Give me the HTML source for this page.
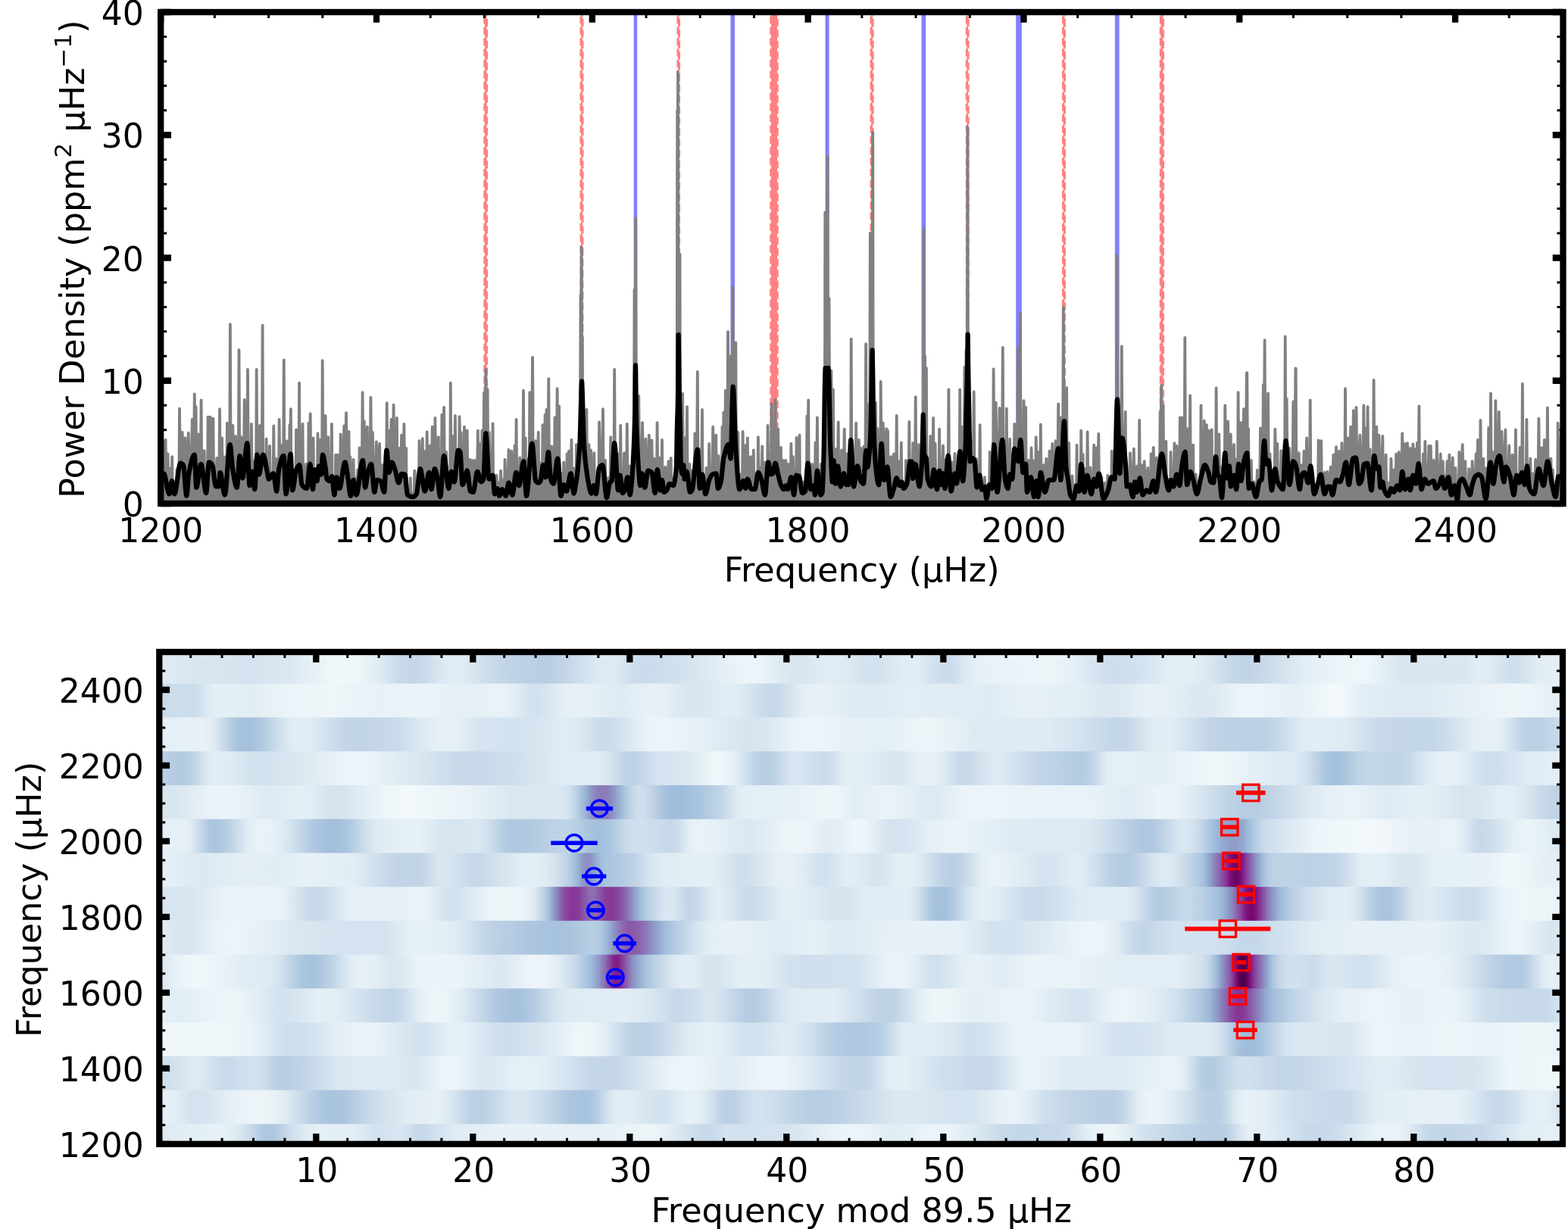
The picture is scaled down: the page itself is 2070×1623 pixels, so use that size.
<!DOCTYPE html>
<html><head><meta charset="utf-8"><title>Power spectrum and echelle diagram</title>
<style>
html,body{margin:0;padding:0;background:#fff;width:2070px;height:1623px;overflow:hidden}
svg{display:block}
text{font-family:"DejaVu Sans","Liberation Sans",sans-serif;fill:#000}
</style></head><body>
<svg width="2070" height="1623" viewBox="0 0 2070 1623">
<rect width="2070" height="1623" fill="#fff"/>
<defs><clipPath id="c1"><rect x="212.2" y="16.0" width="1851.3" height="649.0"/></clipPath><clipPath id="c2"><rect x="210.3" y="861.0" width="1852.7" height="649.8"/></clipPath></defs>
<g clip-path="url(#c1)"><rect x="639.94" y="16.0" width="2.56" height="649.0" fill="#ff8080"/>
<path d="M639.74 665.0V16.0" stroke="#ff8080" stroke-width="2.9" stroke-dasharray="10 4.4"/>
<path d="M642.70 665.0V16.0" stroke="#ff8080" stroke-width="2.9" stroke-dasharray="10 4.4" stroke-dashoffset="3.6"/>
<rect x="767.11" y="16.0" width="1.77" height="649.0" fill="#ff8080"/>
<path d="M766.91 665.0V16.0" stroke="#ff8080" stroke-width="2.9" stroke-dasharray="10 4.4"/>
<path d="M769.07 665.0V16.0" stroke="#ff8080" stroke-width="2.9" stroke-dasharray="10 4.4" stroke-dashoffset="3.6"/>
<rect x="895.10" y="16.0" width="1.31" height="649.0" fill="#ff8080"/>
<path d="M894.90 665.0V16.0" stroke="#ff8080" stroke-width="2.9" stroke-dasharray="10 4.4"/>
<path d="M896.61 665.0V16.0" stroke="#ff8080" stroke-width="2.9" stroke-dasharray="10 4.4" stroke-dashoffset="3.6"/>
<rect x="1017.90" y="16.0" width="8.18" height="649.0" fill="#ff8080"/>
<path d="M1017.70 665.0V16.0" stroke="#ff8080" stroke-width="2.9" stroke-dasharray="10 4.4"/>
<path d="M1026.27 665.0V16.0" stroke="#ff8080" stroke-width="2.9" stroke-dasharray="10 4.4" stroke-dashoffset="3.6"/>
<rect x="1150.15" y="16.0" width="1.91" height="649.0" fill="#ff8080"/>
<path d="M1149.95 665.0V16.0" stroke="#ff8080" stroke-width="2.9" stroke-dasharray="10 4.4"/>
<path d="M1152.26 665.0V16.0" stroke="#ff8080" stroke-width="2.9" stroke-dasharray="10 4.4" stroke-dashoffset="3.6"/>
<rect x="1276.43" y="16.0" width="1.57" height="649.0" fill="#ff8080"/>
<path d="M1276.23 665.0V16.0" stroke="#ff8080" stroke-width="2.9" stroke-dasharray="10 4.4"/>
<path d="M1278.19 665.0V16.0" stroke="#ff8080" stroke-width="2.9" stroke-dasharray="10 4.4" stroke-dashoffset="3.6"/>
<rect x="1403.61" y="16.0" width="1.82" height="649.0" fill="#ff8080"/>
<path d="M1403.41 665.0V16.0" stroke="#ff8080" stroke-width="2.9" stroke-dasharray="10 4.4"/>
<path d="M1405.63 665.0V16.0" stroke="#ff8080" stroke-width="2.9" stroke-dasharray="10 4.4" stroke-dashoffset="3.6"/>
<rect x="1532.38" y="16.0" width="3.05" height="649.0" fill="#ff8080"/>
<path d="M1532.18 665.0V16.0" stroke="#ff8080" stroke-width="2.9" stroke-dasharray="10 4.4"/>
<path d="M1535.62 665.0V16.0" stroke="#ff8080" stroke-width="2.9" stroke-dasharray="10 4.4" stroke-dashoffset="3.6"/>
<rect x="836.64" y="16.0" width="4.54" height="649.0" fill="#8080ff"/>
<rect x="964.46" y="16.0" width="5.51" height="649.0" fill="#8080ff"/>
<rect x="1089.51" y="16.0" width="5.05" height="649.0" fill="#8080ff"/>
<rect x="1216.52" y="16.0" width="5.62" height="649.0" fill="#8080ff"/>
<rect x="1341.18" y="16.0" width="7.63" height="649.0" fill="#8080ff"/>
<rect x="1471.84" y="16.0" width="5.81" height="649.0" fill="#8080ff"/></g>
<path d="M212.20 665.00V651.20M212.20 16.00V29.80" stroke="#000" stroke-width="8.3"/>
<path d="M497.02 665.00V651.20M497.02 16.00V29.80" stroke="#000" stroke-width="8.3"/>
<path d="M781.83 665.00V651.20M781.83 16.00V29.80" stroke="#000" stroke-width="8.3"/>
<path d="M1066.65 665.00V651.20M1066.65 16.00V29.80" stroke="#000" stroke-width="8.3"/>
<path d="M1351.46 665.00V651.20M1351.46 16.00V29.80" stroke="#000" stroke-width="8.3"/>
<path d="M1636.28 665.00V651.20M1636.28 16.00V29.80" stroke="#000" stroke-width="8.3"/>
<path d="M1921.09 665.00V651.20M1921.09 16.00V29.80" stroke="#000" stroke-width="8.3"/>
<path d="M283.40 665.00V657.00M283.40 16.00V24.00" stroke="#000" stroke-width="3.0"/>
<path d="M354.61 665.00V657.00M354.61 16.00V24.00" stroke="#000" stroke-width="3.0"/>
<path d="M425.81 665.00V657.00M425.81 16.00V24.00" stroke="#000" stroke-width="3.0"/>
<path d="M568.22 665.00V657.00M568.22 16.00V24.00" stroke="#000" stroke-width="3.0"/>
<path d="M639.42 665.00V657.00M639.42 16.00V24.00" stroke="#000" stroke-width="3.0"/>
<path d="M710.63 665.00V657.00M710.63 16.00V24.00" stroke="#000" stroke-width="3.0"/>
<path d="M853.03 665.00V657.00M853.03 16.00V24.00" stroke="#000" stroke-width="3.0"/>
<path d="M924.24 665.00V657.00M924.24 16.00V24.00" stroke="#000" stroke-width="3.0"/>
<path d="M995.44 665.00V657.00M995.44 16.00V24.00" stroke="#000" stroke-width="3.0"/>
<path d="M1137.85 665.00V657.00M1137.85 16.00V24.00" stroke="#000" stroke-width="3.0"/>
<path d="M1209.05 665.00V657.00M1209.05 16.00V24.00" stroke="#000" stroke-width="3.0"/>
<path d="M1280.26 665.00V657.00M1280.26 16.00V24.00" stroke="#000" stroke-width="3.0"/>
<path d="M1422.67 665.00V657.00M1422.67 16.00V24.00" stroke="#000" stroke-width="3.0"/>
<path d="M1493.87 665.00V657.00M1493.87 16.00V24.00" stroke="#000" stroke-width="3.0"/>
<path d="M1565.07 665.00V657.00M1565.07 16.00V24.00" stroke="#000" stroke-width="3.0"/>
<path d="M1707.48 665.00V657.00M1707.48 16.00V24.00" stroke="#000" stroke-width="3.0"/>
<path d="M1778.68 665.00V657.00M1778.68 16.00V24.00" stroke="#000" stroke-width="3.0"/>
<path d="M1849.89 665.00V657.00M1849.89 16.00V24.00" stroke="#000" stroke-width="3.0"/>
<path d="M1992.30 665.00V657.00M1992.30 16.00V24.00" stroke="#000" stroke-width="3.0"/>
<path d="M2063.50 665.00V657.00M2063.50 16.00V24.00" stroke="#000" stroke-width="3.0"/>
<path d="M212.20 665.00H226.00M2063.50 665.00H2049.70" stroke="#000" stroke-width="8.3"/>
<path d="M212.20 502.75H226.00M2063.50 502.75H2049.70" stroke="#000" stroke-width="8.3"/>
<path d="M212.20 340.50H226.00M2063.50 340.50H2049.70" stroke="#000" stroke-width="8.3"/>
<path d="M212.20 178.25H226.00M2063.50 178.25H2049.70" stroke="#000" stroke-width="8.3"/>
<path d="M212.20 16.00H226.00M2063.50 16.00H2049.70" stroke="#000" stroke-width="8.3"/>
<path d="M212.20 632.55H220.20M2063.50 632.55H2055.50" stroke="#000" stroke-width="3.0"/>
<path d="M212.20 600.10H220.20M2063.50 600.10H2055.50" stroke="#000" stroke-width="3.0"/>
<path d="M212.20 567.65H220.20M2063.50 567.65H2055.50" stroke="#000" stroke-width="3.0"/>
<path d="M212.20 535.20H220.20M2063.50 535.20H2055.50" stroke="#000" stroke-width="3.0"/>
<path d="M212.20 470.30H220.20M2063.50 470.30H2055.50" stroke="#000" stroke-width="3.0"/>
<path d="M212.20 437.85H220.20M2063.50 437.85H2055.50" stroke="#000" stroke-width="3.0"/>
<path d="M212.20 405.40H220.20M2063.50 405.40H2055.50" stroke="#000" stroke-width="3.0"/>
<path d="M212.20 372.95H220.20M2063.50 372.95H2055.50" stroke="#000" stroke-width="3.0"/>
<path d="M212.20 308.05H220.20M2063.50 308.05H2055.50" stroke="#000" stroke-width="3.0"/>
<path d="M212.20 275.60H220.20M2063.50 275.60H2055.50" stroke="#000" stroke-width="3.0"/>
<path d="M212.20 243.15H220.20M2063.50 243.15H2055.50" stroke="#000" stroke-width="3.0"/>
<path d="M212.20 210.70H220.20M2063.50 210.70H2055.50" stroke="#000" stroke-width="3.0"/>
<path d="M212.20 145.80H220.20M2063.50 145.80H2055.50" stroke="#000" stroke-width="3.0"/>
<path d="M212.20 113.35H220.20M2063.50 113.35H2055.50" stroke="#000" stroke-width="3.0"/>
<path d="M212.20 80.90H220.20M2063.50 80.90H2055.50" stroke="#000" stroke-width="3.0"/>
<path d="M212.20 48.45H220.20M2063.50 48.45H2055.50" stroke="#000" stroke-width="3.0"/>
<g clip-path="url(#c1)">
<path d="M209.2,665.0 L209.2,580.6 L218.0,583.9 L218.6,580.9 L219.2,620.9 L221.0,620.9 L221.6,599.4 L222.2,634.1 L224.0,634.1 L224.6,618.7 L225.2,628.2 L226.6,628.2 L227.2,603.1 L227.8,641.1 L230.2,641.1 L230.8,639.5 L231.4,643.6 L232.9,643.6 L233.5,619.4 L234.1,619.4 L236.4,619.4 L237.0,539.6 L237.6,592.1 L240.1,592.1 L240.7,571.0 L241.3,601.9 L243.8,601.9 L244.4,578.4 L245.0,594.8 L248.1,594.8 L248.7,571.7 L249.3,590.8 L253.1,590.8 L253.7,553.8 L254.3,574.7 L256.2,574.7 L256.8,520.5 L257.4,608.6 L258.0,608.6 L258.6,537.2 L259.2,618.0 L261.7,618.0 L262.3,573.5 L262.9,603.2 L265.0,603.2 L265.6,528.5 L266.2,610.5 L269.1,610.5 L269.7,595.1 L270.3,631.8 L274.0,631.8 L274.6,550.7 L275.2,599.3 L277.1,599.3 L277.7,550.7 L278.3,572.5 L280.8,572.5 L281.4,552.6 L282.0,619.0 L285.7,619.0 L286.3,604.9 L286.9,624.5 L289.4,624.5 L290.0,540.2 L290.6,608.0 L292.5,608.0 L293.1,578.4 L293.7,618.2 L295.3,618.2 L295.9,603.5 L296.5,616.8 L299.3,616.8 L299.9,558.7 L300.5,583.3 L303.3,583.3 L303.9,428.1 L304.5,583.7 L306.7,583.7 L307.3,561.8 L307.9,597.4 L310.4,597.4 L311.0,576.0 L311.6,594.8 L314.9,594.8 L315.5,462.2 L316.1,580.9 L317.8,580.9 L318.4,577.2 L319.0,595.0 L322.1,595.0 L322.7,527.9 L323.3,569.8 L326.4,569.8 L327.0,487.9 L327.6,594.2 L331.3,594.2 L331.9,560.0 L332.5,613.1 L335.1,613.1 L335.7,608.9 L336.3,621.8 L338.1,621.8 L338.7,487.9 L339.3,602.5 L342.4,602.5 L343.0,561.8 L343.6,583.4 L346.0,583.4 L346.6,429.7 L347.2,627.5 L348.3,627.5 L348.9,627.5 L349.5,627.5 L351.0,627.5 L351.6,579.7 L352.2,614.7 L355.4,614.7 L356.0,588.9 L356.6,625.2 L357.7,625.2 L358.3,625.2 L358.9,625.2 L360.7,625.2 L361.3,562.4 L361.9,631.2 L364.4,631.2 L365.0,605.8 L365.6,625.1 L368.0,625.1 L368.6,553.8 L369.2,597.3 L371.7,597.3 L372.3,587.6 L372.9,587.6 L374.2,587.6 L374.8,475.5 L375.4,624.0 L378.2,624.0 L378.8,582.5 L379.4,615.8 L381.8,615.8 L382.4,561.2 L383.0,577.8 L383.3,577.8 L383.9,540.2 L384.5,635.2 L386.6,635.2 L387.2,627.9 L387.8,627.9 L390.5,627.9 L391.1,567.4 L391.7,609.0 L394.5,609.0 L395.1,505.7 L395.7,616.8 L398.9,616.8 L399.5,560.0 L400.1,622.9 L403.4,622.9 L404.0,612.9 L404.6,634.0 L406.9,634.0 L407.5,558.7 L408.1,592.8 L409.1,592.8 L409.7,546.4 L410.3,613.4 L413.0,613.4 L413.6,578.4 L414.2,637.1 L416.1,637.1 L416.7,637.1 L417.3,637.1 L418.9,637.1 L419.5,572.3 L420.1,597.1 L421.7,597.1 L422.3,580.9 L422.9,605.8 L425.1,605.8 L425.7,476.2 L426.3,589.6 L429.0,589.6 L429.6,548.9 L430.2,600.0 L432.7,600.0 L433.3,577.2 L433.9,619.4 L437.3,619.4 L437.9,560.0 L438.5,629.1 L439.4,629.1 L440.0,629.1 L440.6,644.6 L442.6,644.6 L443.2,600.6 L443.8,616.1 L445.1,616.1 L445.7,600.6 L446.3,618.4 L449.1,618.4 L449.7,573.5 L450.3,589.7 L453.7,589.7 L454.3,562.4 L454.9,588.1 L456.4,588.1 L457.0,545.2 L457.6,599.5 L459.9,599.5 L460.5,569.8 L461.1,619.1 L461.7,619.1 L462.3,603.1 L462.9,622.8 L466.0,622.8 L466.6,606.8 L467.2,633.9 L468.7,633.9 L469.3,631.1 L469.9,640.9 L471.6,640.9 L472.2,620.3 L472.8,634.6 L474.0,634.6 L474.6,591.4 L475.2,599.7 L478.0,599.7 L478.6,518.1 L479.2,593.8 L480.2,593.8 L480.8,556.3 L481.4,582.5 L484.3,582.5 L484.9,563.7 L485.5,602.8 L488.8,602.8 L489.4,524.8 L490.0,585.4 L491.3,585.4 L491.9,571.0 L492.5,606.2 L496.2,606.2 L496.8,583.4 L497.4,600.5 L500.5,600.5 L501.1,585.8 L501.7,623.6 L504.2,623.6 L504.8,614.2 L505.4,644.7 L507.3,644.7 L507.9,636.7 L508.5,636.7 L510.1,636.7 L510.7,532.2 L511.3,593.9 L513.5,593.9 L514.1,568.6 L514.7,586.8 L515.9,586.8 L516.5,553.8 L517.1,582.0 L519.0,582.0 L519.6,534.7 L520.2,595.7 L523.3,595.7 L523.9,551.9 L524.5,625.5 L527.0,625.5 L527.6,592.0 L528.2,612.2 L529.5,612.2 L530.1,574.7 L530.7,609.3 L532.8,609.3 L533.4,560.0 L534.0,606.6 L535.6,606.6 L536.2,592.0 L536.8,650.8 L538.4,650.8 L539.0,650.8 L539.6,650.8 L541.2,650.8 L541.8,631.4 L542.4,651.7 L543.4,651.7 L544.0,651.7 L544.6,651.7 L546.7,651.7 L547.3,621.6 L547.9,647.6 L550.0,647.6 L550.6,647.6 L551.2,647.6 L552.9,647.6 L553.5,582.1 L554.1,608.7 L557.2,608.7 L557.8,579.1 L558.4,628.5 L559.1,628.5 L559.7,595.7 L560.3,617.7 L563.1,617.7 L563.7,570.4 L564.3,610.8 L567.1,610.8 L567.7,588.3 L568.3,604.2 L570.1,604.2 L570.7,563.7 L571.3,618.2 L573.8,618.2 L574.4,551.9 L575.0,591.2 L578.2,591.2 L578.8,577.2 L579.4,620.8 L582.8,620.8 L583.4,547.6 L584.0,597.6 L585.5,597.6 L586.1,537.8 L586.7,596.9 L588.6,596.9 L589.2,596.9 L589.8,644.5 L591.2,644.5 L591.8,644.5 L592.4,644.5 L594.2,644.5 L594.8,505.7 L595.4,612.0 L596.6,612.0 L597.2,576.0 L597.8,594.1 L600.3,594.1 L600.9,548.9 L601.5,621.7 L603.5,621.7 L604.1,621.7 L604.7,621.7 L605.9,621.7 L606.5,550.1 L607.1,574.0 L608.1,574.0 L608.7,571.0 L609.3,614.7 L612.4,614.7 L613.0,563.7 L613.6,593.6 L616.1,593.6 L616.7,568.6 L617.3,617.6 L619.8,617.6 L620.4,606.8 L621.0,633.8 L622.9,633.8 L623.5,608.0 L624.1,638.2 L626.6,638.2 L627.2,608.0 L627.8,610.0 L630.3,610.0 L630.9,568.6 L631.5,612.8 L633.4,612.8 L634.0,585.8 L634.6,623.3 L635.8,623.3 L636.4,568.6 L637.0,595.9 L638.4,595.9 L639.0,519.0 L639.6,544.1 L640.8,544.1 L641.4,487.9 L642.0,565.4 L643.0,565.4 L643.6,514.1 L644.2,592.1 L645.1,592.1 L645.7,571.0 L646.3,599.1 L650.0,599.1 L650.6,559.3 L651.2,640.8 L654.9,640.8 L655.5,627.7 L656.1,638.1 L657.4,638.1 L658.0,637.4 L658.6,640.3 L660.5,640.3 L661.1,621.6 L661.7,642.2 L663.3,642.2 L663.9,633.6 L664.5,642.2 L666.0,642.2 L666.6,606.8 L667.2,622.6 L670.9,622.6 L671.5,593.8 L672.1,619.7 L674.6,619.7 L675.2,595.7 L675.8,608.2 L679.0,608.2 L679.6,588.3 L680.2,614.1 L681.0,614.1 L681.6,553.8 L682.2,625.7 L685.7,625.7 L686.3,604.3 L686.9,613.7 L690.4,613.7 L691.0,515.6 L691.6,601.2 L693.1,601.2 L693.7,578.4 L694.3,636.6 L696.1,636.6 L696.7,606.9 L697.3,618.1 L698.7,618.1 L699.3,518.1 L699.9,563.7 L702.4,563.7 L703.0,471.8 L703.6,547.3 L702.4,547.3 L703.0,471.9 L703.6,598.1 L706.7,598.1 L707.3,582.1 L707.9,607.9 L710.1,607.9 L710.7,571.0 L711.3,630.1 L712.5,630.1 L713.1,611.4 L713.7,619.1 L715.9,619.1 L716.5,561.2 L717.1,601.0 L719.0,601.0 L719.6,547.6 L720.2,591.5 L720.9,591.5 L721.5,540.9 L722.1,569.2 L723.7,569.2 L724.3,500.2 L724.9,606.1 L727.6,606.1 L728.2,589.5 L728.8,619.6 L731.9,619.6 L732.5,551.3 L733.1,605.6 L735.0,605.6 L735.6,513.1 L736.2,563.9 L737.5,563.9 L738.1,536.5 L738.7,638.9 L740.6,638.9 L741.2,624.9 L741.8,636.7 L743.6,636.7 L744.2,610.5 L744.8,632.9 L748.0,632.9 L748.6,599.4 L749.2,630.1 L750.4,630.1 L751.0,595.7 L751.6,609.8 L753.9,609.8 L754.5,580.9 L755.1,637.1 L756.9,637.1 L757.5,618.3 L758.1,638.5 L760.3,638.5 L760.9,587.1 L761.5,626.5 L762.6,626.5 L763.2,626.5 L763.8,626.5 L765.9,626.5 L766.5,389.2 L767.1,444.9 L767.1,444.9 L767.7,326.5 L768.3,509.8 L768.2,509.8 L768.8,446.0 L769.4,618.4 L770.8,618.4 L771.4,618.4 L772.0,618.4 L773.8,618.4 L774.4,540.9 L775.0,619.1 L776.9,619.1 L777.5,587.1 L778.1,610.5 L779.4,610.5 L780.0,594.5 L780.6,615.2 L783.7,615.2 L784.3,598.2 L784.9,642.6 L787.5,642.6 L788.1,632.3 L788.7,632.3 L790.5,632.3 L791.1,557.5 L791.7,587.8 L795.4,587.8 L796.0,540.2 L796.6,616.2 L798.5,616.2 L799.1,608.0 L799.7,639.0 L802.6,639.0 L803.2,631.1 L803.8,631.1 L805.6,631.1 L806.2,577.2 L806.8,607.5 L810.6,607.5 L811.2,487.9 L811.8,599.4 L815.2,599.4 L815.8,599.4 L816.4,627.7 L818.6,627.7 L819.2,561.8 L819.8,622.5 L823.5,622.5 L824.1,598.2 L824.7,632.2 L827.2,632.2 L827.8,560.0 L828.4,628.8 L830.3,628.8 L830.9,615.4 L831.5,645.3 L833.7,645.3 L834.3,634.3 L834.9,634.3 L836.9,634.3 L837.5,382.7 L838.1,461.9 L838.7,461.9 L839.3,287.8 L839.9,574.4 L842.6,574.4 L843.2,523.0 L843.8,585.3 L847.5,585.3 L848.1,558.1 L848.7,595.4 L851.8,595.4 L852.4,579.7 L853.0,607.0 L856.2,607.0 L856.8,574.7 L857.4,603.4 L859.9,603.4 L860.5,581.5 L861.1,624.5 L862.9,624.5 L863.5,605.6 L864.1,628.1 L867.0,628.1 L867.6,558.1 L868.2,614.1 L869.7,614.1 L870.3,604.3 L870.9,637.0 L873.4,637.0 L874.0,580.9 L874.6,641.9 L877.7,641.9 L878.3,616.6 L878.9,624.7 L882.0,624.7 L882.6,609.2 L883.2,634.7 L885.1,634.7 L885.7,604.9 L886.3,642.5 L888.2,642.5 L888.8,642.5 L889.4,642.5 L890.7,642.5 L891.3,639.8 L891.9,639.8 L893.6,639.8 L894.2,145.8 L894.8,414.3 L894.4,414.3 L895.0,94.9 L895.6,473.0 L896.9,473.0 L897.5,335.6 L898.1,553.6 L900.5,553.6 L901.1,519.9 L901.7,594.4 L903.6,594.4 L904.2,578.4 L904.8,604.3 L906.4,604.3 L907.0,537.2 L907.6,626.3 L909.8,626.3 L910.4,612.9 L911.0,632.5 L912.2,632.5 L912.8,621.6 L913.4,628.7 L916.8,628.7 L917.4,572.3 L918.0,587.4 L920.2,587.4 L920.8,490.9 L921.4,593.2 L922.7,593.2 L923.3,593.2 L923.9,606.7 L926.4,606.7 L927.0,540.9 L927.6,648.6 L929.1,648.6 L929.7,648.6 L930.3,648.6 L931.9,648.6 L932.5,617.9 L933.1,626.0 L935.6,626.0 L936.2,585.8 L936.8,618.7 L940.6,618.7 L941.2,563.7 L941.8,612.1 L944.6,612.1 L945.2,574.7 L945.8,620.0 L948.0,620.0 L948.6,601.9 L949.2,615.5 L952.9,615.5 L953.5,563.7 L954.1,605.2 L954.7,605.2 L955.3,544.6 L955.9,589.3 L957.2,589.3 L957.8,515.6 L958.4,571.4 L960.4,571.4 L961.0,437.8 L961.6,505.8 L963.4,505.8 L964.0,470.3 L964.6,508.4 L966.8,508.4 L967.4,379.4 L968.0,498.3 L970.7,498.3 L971.3,452.5 L971.9,598.1 L973.8,598.1 L974.4,571.0 L975.0,643.4 L977.5,643.4 L978.1,626.7 L978.7,630.1 L980.0,630.1 L980.6,569.8 L981.2,627.0 L983.1,627.0 L983.7,588.3 L984.3,601.9 L986.2,601.9 L986.8,578.4 L987.4,620.7 L990.5,620.7 L991.1,603.1 L991.7,617.5 L994.2,617.5 L994.8,594.5 L995.4,644.0 L997.5,644.0 L998.1,633.2 L998.7,633.2 L1000.3,633.2 L1000.9,577.2 L1001.5,618.2 L1003.4,618.2 L1004.0,617.4 L1004.6,623.4 L1005.6,623.4 L1006.2,589.5 L1006.8,635.5 L1008.9,635.5 L1009.5,610.5 L1010.1,630.1 L1013.0,630.1 L1013.6,561.8 L1014.2,605.4 L1018.0,605.4 L1018.6,533.5 L1019.2,574.8 L1022.9,574.8 L1023.5,527.9 L1024.1,601.1 L1026.6,601.1 L1027.2,566.7 L1027.8,612.0 L1030.3,612.0 L1030.9,590.8 L1031.5,634.6 L1033.4,634.6 L1034.0,608.0 L1034.6,623.9 L1036.7,623.9 L1037.3,608.0 L1037.9,627.1 L1040.1,627.1 L1040.7,612.9 L1041.3,625.5 L1043.8,625.5 L1044.4,585.8 L1045.0,627.8 L1046.3,627.8 L1046.9,603.1 L1047.5,631.7 L1051.0,631.7 L1051.6,577.8 L1052.2,621.2 L1054.9,621.2 L1055.5,574.7 L1056.1,642.4 L1059.2,642.4 L1059.8,636.4 L1060.4,644.5 L1062.5,644.5 L1063.1,643.5 L1063.7,643.5 L1064.8,643.5 L1065.4,549.5 L1066.0,597.1 L1066.6,597.1 L1067.2,528.5 L1067.8,632.3 L1071.6,632.3 L1072.2,612.9 L1072.8,633.3 L1075.9,633.3 L1076.5,584.6 L1077.1,615.7 L1078.3,615.7 L1078.9,551.3 L1079.5,633.8 L1083.3,633.8 L1083.9,612.9 L1084.5,645.6 L1086.1,645.6 L1086.7,645.6 L1087.3,645.6 L1088.7,645.6 L1089.3,280.5 L1089.9,447.3 L1092.0,447.3 L1092.6,206.2 L1093.2,547.7 L1093.9,547.7 L1094.5,394.0 L1095.1,530.8 L1096.8,530.8 L1097.4,489.7 L1098.0,574.0 L1099.3,574.0 L1099.9,514.4 L1100.5,618.5 L1103.0,618.5 L1103.6,593.2 L1104.2,613.6 L1106.1,613.6 L1106.7,557.5 L1107.3,630.5 L1110.4,630.5 L1111.0,594.5 L1111.6,606.5 L1114.1,606.5 L1114.7,566.7 L1115.3,619.7 L1117.8,619.7 L1118.4,599.4 L1119.0,631.3 L1120.1,631.3 L1120.7,614.9 L1121.3,614.9 L1123.1,614.9 L1123.7,447.6 L1124.3,623.5 L1126.4,623.5 L1127.0,623.5 L1127.6,628.8 L1129.5,628.8 L1130.1,558.7 L1130.7,600.2 L1133.2,600.2 L1133.8,580.9 L1134.4,609.0 L1136.3,609.0 L1136.9,592.0 L1137.5,617.9 L1140.0,617.9 L1140.6,589.5 L1141.2,604.0 L1142.5,604.0 L1143.1,454.1 L1143.7,590.7 L1145.8,590.7 L1146.4,534.1 L1147.0,572.2 L1148.2,572.2 L1148.8,308.0 L1149.4,530.5 L1149.9,530.5 L1150.5,364.8 L1151.1,420.1 L1151.6,420.1 L1152.2,175.0 L1152.8,578.0 L1155.4,578.0 L1156.0,531.6 L1156.6,587.7 L1157.8,587.7 L1158.4,566.1 L1159.0,623.5 L1162.1,623.5 L1162.7,503.9 L1163.3,571.1 L1165.2,571.1 L1165.8,558.7 L1166.4,584.4 L1169.5,584.4 L1170.1,566.1 L1170.7,604.3 L1171.4,604.3 L1172.0,568.6 L1172.6,625.6 L1175.7,625.6 L1176.3,603.1 L1176.9,628.0 L1179.4,628.0 L1180.0,599.4 L1180.6,624.8 L1183.1,624.8 L1183.7,548.9 L1184.3,623.9 L1185.5,623.9 L1186.1,609.2 L1186.7,622.4 L1189.2,622.4 L1189.8,584.6 L1190.4,637.2 L1192.4,637.2 L1193.0,637.2 L1193.6,640.7 L1195.4,640.7 L1196.0,608.0 L1196.6,624.1 L1199.7,624.1 L1200.3,556.9 L1200.9,619.6 L1202.4,619.6 L1203.0,619.6 L1203.6,619.6 L1204.7,619.6 L1205.3,585.2 L1205.9,613.9 L1208.1,613.9 L1208.7,524.2 L1209.3,617.4 L1212.4,617.4 L1213.0,587.1 L1213.6,631.5 L1215.6,631.5 L1216.2,620.3 L1216.8,620.3 L1218.9,620.3 L1219.5,302.0 L1220.1,558.1 L1220.4,558.1 L1221.0,470.3 L1221.6,572.8 L1222.3,572.8 L1222.9,486.0 L1223.5,617.7 L1224.8,617.7 L1225.4,604.9 L1226.0,616.9 L1227.8,616.9 L1228.4,576.0 L1229.0,617.0 L1231.5,617.0 L1232.1,551.9 L1232.7,615.3 L1234.0,615.3 L1234.6,585.8 L1235.2,632.6 L1236.2,632.6 L1236.8,626.5 L1237.4,631.0 L1239.5,631.0 L1240.1,566.7 L1240.7,609.7 L1244.4,609.7 L1245.0,588.3 L1245.6,627.7 L1247.5,627.7 L1248.1,606.8 L1248.7,607.0 L1251.8,607.0 L1252.4,514.4 L1253.0,621.0 L1256.2,621.0 L1256.8,610.5 L1257.4,625.8 L1259.9,625.8 L1260.5,598.8 L1261.1,641.1 L1262.7,641.1 L1263.3,641.1 L1263.9,641.1 L1266.6,641.1 L1267.2,514.4 L1267.8,591.9 L1269.7,591.9 L1270.3,563.7 L1270.9,603.5 L1272.8,603.5 L1273.4,484.8 L1274.0,533.1 L1274.9,533.1 L1275.5,462.2 L1276.1,492.9 L1276.8,492.9 L1277.4,167.4 L1278.0,572.2 L1280.1,572.2 L1280.7,572.2 L1281.3,585.5 L1282.3,585.5 L1282.9,582.1 L1283.5,593.8 L1285.1,593.8 L1285.7,517.4 L1286.3,605.6 L1288.2,605.6 L1288.8,605.6 L1289.4,615.9 L1293.1,615.9 L1293.7,561.2 L1294.3,648.6 L1296.7,648.6 L1297.3,648.6 L1297.9,648.6 L1299.3,648.6 L1299.9,630.2 L1300.5,643.1 L1302.8,643.1 L1303.4,642.7 L1304.0,642.7 L1306.1,642.7 L1306.7,596.9 L1307.3,633.5 L1311.0,633.5 L1311.6,487.3 L1312.2,566.4 L1314.1,566.4 L1314.7,531.6 L1315.3,576.5 L1319.0,576.5 L1319.6,539.0 L1320.2,577.1 L1323.2,577.1 L1323.8,458.9 L1324.4,594.8 L1325.5,594.8 L1326.1,594.8 L1326.7,612.9 L1328.2,612.9 L1328.8,539.6 L1329.4,618.5 L1332.6,618.5 L1333.2,579.7 L1333.8,625.2 L1336.0,625.2 L1336.6,600.6 L1337.2,600.6 L1338.7,600.6 L1339.3,560.0 L1339.9,580.1 L1343.4,580.1 L1344.0,459.6 L1344.6,579.7 L1346.3,579.7 L1346.9,413.5 L1347.5,575.3 L1351.0,575.3 L1351.6,529.1 L1352.2,594.2 L1353.5,594.2 L1354.1,537.8 L1354.7,627.1 L1357.2,627.1 L1357.8,608.0 L1358.4,624.1 L1360.9,624.1 L1361.5,591.4 L1362.1,617.8 L1363.6,617.8 L1364.2,608.6 L1364.8,636.0 L1367.1,636.0 L1367.7,577.2 L1368.3,607.4 L1369.5,607.4 L1370.1,596.9 L1370.7,619.2 L1373.2,619.2 L1373.8,560.6 L1374.4,622.9 L1376.9,622.9 L1377.5,614.2 L1378.1,632.8 L1380.6,632.8 L1381.2,605.6 L1381.8,622.4 L1384.9,622.4 L1385.5,595.7 L1386.1,627.1 L1388.6,627.1 L1389.2,585.8 L1389.8,624.7 L1392.9,624.7 L1393.5,582.1 L1394.1,590.1 L1396.6,590.1 L1397.2,533.5 L1397.8,602.5 L1400.3,602.5 L1400.9,551.3 L1401.5,576.8 L1403.2,576.8 L1403.8,406.0 L1404.4,573.8 L1407.5,573.8 L1408.1,511.9 L1408.7,607.7 L1410.6,607.7 L1411.2,585.2 L1411.8,640.2 L1414.9,640.2 L1415.5,628.3 L1416.1,642.1 L1417.4,642.1 L1418.0,640.2 L1418.6,643.9 L1421.0,643.9 L1421.6,587.7 L1422.2,641.6 L1424.2,641.6 L1424.8,636.5 L1425.4,636.5 L1426.6,636.5 L1427.2,568.6 L1427.8,614.1 L1429.0,614.1 L1429.6,600.0 L1430.2,640.6 L1431.9,640.6 L1432.5,619.0 L1433.1,626.1 L1435.0,626.1 L1435.6,570.4 L1436.2,627.1 L1438.9,627.1 L1439.5,617.3 L1440.1,631.4 L1443.6,631.4 L1444.2,587.7 L1444.8,615.1 L1446.9,615.1 L1447.5,591.4 L1448.1,626.1 L1449.7,626.1 L1450.3,572.9 L1450.9,630.2 L1453.7,630.2 L1454.3,630.2 L1454.9,642.7 L1457.4,642.7 L1458.0,637.6 L1458.6,640.6 L1461.7,640.6 L1462.3,627.7 L1462.9,643.1 L1463.9,643.1 L1464.5,642.1 L1465.1,642.1 L1467.2,642.1 L1467.8,595.7 L1468.4,626.4 L1471.0,626.4 L1471.6,626.4 L1472.2,626.4 L1474.0,626.4 L1474.6,337.3 L1475.2,579.2 L1477.4,579.2 L1478.0,579.2 L1478.6,592.0 L1480.2,592.0 L1480.8,457.3 L1481.4,574.7 L1485.1,574.7 L1485.7,543.9 L1486.3,632.8 L1487.8,632.8 L1488.4,632.8 L1489.0,636.4 L1491.3,636.4 L1491.9,598.2 L1492.5,616.8 L1496.2,616.8 L1496.8,592.6 L1497.4,625.8 L1500.5,625.8 L1501.1,615.4 L1501.7,635.9 L1503.6,635.9 L1504.2,555.0 L1504.8,623.2 L1506.7,623.2 L1507.3,614.2 L1507.9,642.5 L1510.1,642.5 L1510.7,609.2 L1511.3,625.1 L1514.7,625.1 L1515.3,617.9 L1515.9,642.8 L1519.0,642.8 L1519.6,599.4 L1520.2,623.9 L1522.1,623.9 L1522.7,590.8 L1523.3,614.8 L1526.4,614.8 L1527.0,604.3 L1527.6,623.5 L1531.0,623.5 L1531.6,543.3 L1532.2,580.3 L1532.6,580.3 L1533.2,508.8 L1533.8,576.6 L1535.0,576.6 L1535.6,535.2 L1536.2,610.8 L1538.7,610.8 L1539.3,582.8 L1539.9,637.8 L1541.4,637.8 L1542.0,632.8 L1542.6,642.0 L1544.9,642.0 L1545.5,596.9 L1546.1,623.3 L1549.8,623.3 L1550.4,585.2 L1551.0,616.1 L1552.9,616.1 L1553.5,588.9 L1554.1,619.9 L1557.2,619.9 L1557.8,551.3 L1558.4,616.6 L1559.7,616.6 L1560.3,551.3 L1560.9,586.6 L1563.7,586.6 L1564.3,446.0 L1564.9,608.5 L1567.1,608.5 L1567.7,566.1 L1568.3,612.3 L1570.5,612.3 L1571.1,522.4 L1571.7,610.2 L1574.5,610.2 L1575.1,587.7 L1575.7,633.0 L1578.2,633.0 L1578.8,626.5 L1579.4,642.4 L1582.1,642.4 L1582.7,642.4 L1583.3,642.4 L1584.9,642.4 L1585.5,535.3 L1586.1,606.4 L1589.2,606.4 L1589.8,555.6 L1590.4,599.6 L1592.3,599.6 L1592.9,561.2 L1593.5,586.3 L1595.4,586.3 L1596.0,568.6 L1596.6,591.4 L1599.1,591.4 L1599.7,567.4 L1600.3,631.5 L1601.9,631.5 L1602.5,622.4 L1603.1,622.4 L1605.0,622.4 L1605.6,512.5 L1606.2,602.8 L1608.7,602.8 L1609.3,573.5 L1609.9,626.6 L1611.9,626.6 L1612.5,617.2 L1613.1,624.8 L1614.6,624.8 L1615.2,614.0 L1615.8,614.0 L1616.7,614.0 L1617.3,535.3 L1617.9,574.0 L1620.4,574.0 L1621.0,556.3 L1621.6,592.6 L1624.1,592.6 L1624.7,573.5 L1625.3,612.0 L1628.4,612.0 L1629.0,587.1 L1629.6,627.7 L1631.2,627.7 L1631.8,606.7 L1632.4,632.5 L1634.0,632.5 L1634.6,518.1 L1635.2,604.6 L1637.7,604.6 L1638.3,558.1 L1638.9,577.9 L1641.4,577.9 L1642.0,540.2 L1642.6,591.3 L1645.1,591.3 L1645.7,493.0 L1646.3,585.8 L1645.7,585.8 L1646.3,492.2 L1646.9,599.5 L1647.5,599.5 L1648.1,566.1 L1648.7,631.2 L1651.2,631.2 L1651.8,608.0 L1652.4,636.4 L1654.9,636.4 L1655.5,636.4 L1656.1,643.1 L1659.2,643.1 L1659.8,621.0 L1660.4,629.5 L1663.3,629.5 L1663.9,565.5 L1664.5,593.0 L1667.2,593.0 L1667.8,508.2 L1668.4,539.2 L1669.0,539.2 L1669.6,449.2 L1670.2,573.6 L1673.4,573.6 L1674.0,519.3 L1674.6,602.8 L1675.9,602.8 L1676.5,599.4 L1677.1,636.8 L1679.6,636.8 L1680.2,626.3 L1680.8,626.3 L1682.7,626.3 L1683.3,566.7 L1683.9,599.2 L1685.7,599.2 L1686.3,585.8 L1686.9,632.0 L1690.7,632.0 L1691.3,595.1 L1691.9,640.7 L1693.3,640.7 L1693.9,613.3 L1694.5,613.3 L1696.1,613.3 L1696.7,444.3 L1697.3,562.5 L1698.1,562.5 L1698.7,526.7 L1699.3,609.3 L1701.8,609.3 L1702.4,592.0 L1703.0,613.3 L1706.7,613.3 L1707.3,530.4 L1707.9,573.0 L1709.7,573.0 L1710.3,486.5 L1710.9,524.3 L1710.1,524.3 L1710.7,486.6 L1711.3,620.4 L1714.1,620.4 L1714.7,598.2 L1715.3,631.7 L1717.4,631.7 L1718.0,614.1 L1718.6,618.2 L1720.9,618.2 L1721.5,595.7 L1722.1,606.3 L1724.5,606.3 L1725.1,578.4 L1725.7,613.9 L1729.1,613.9 L1729.7,528.5 L1730.3,629.0 L1732.6,629.0 L1733.2,629.0 L1733.8,646.4 L1735.7,646.4 L1736.3,646.4 L1736.9,646.4 L1740.0,646.4 L1740.6,581.5 L1741.2,614.4 L1743.6,614.4 L1744.2,582.1 L1744.8,632.5 L1748.0,632.5 L1748.6,624.0 L1749.2,641.7 L1751.7,641.7 L1752.3,622.8 L1752.9,633.3 L1756.0,633.3 L1756.6,616.6 L1757.2,625.0 L1759.7,625.0 L1760.3,600.6 L1760.9,610.4 L1763.4,610.4 L1764.0,590.1 L1764.6,626.6 L1767.1,626.6 L1767.7,595.7 L1768.3,627.7 L1770.8,627.7 L1771.4,585.2 L1772.0,613.7 L1775.4,613.7 L1776.0,513.1 L1776.6,598.7 L1778.8,598.7 L1779.4,578.4 L1780.0,598.3 L1782.5,598.3 L1783.1,563.7 L1783.7,594.5 L1786.2,594.5 L1786.8,542.1 L1787.4,590.8 L1789.9,590.8 L1790.5,537.8 L1791.1,589.9 L1794.8,589.9 L1795.4,574.7 L1796.0,593.6 L1799.7,593.6 L1800.3,535.3 L1800.9,593.8 L1802.4,593.8 L1803.0,565.9 L1803.6,590.7 L1805.0,590.7 L1805.6,537.2 L1806.2,617.8 L1808.1,617.8 L1808.7,593.2 L1809.3,612.1 L1813.0,612.1 L1813.6,502.0 L1814.2,592.4 L1816.7,592.4 L1817.3,563.7 L1817.9,604.5 L1819.8,604.5 L1820.4,574.7 L1821.0,599.6 L1824.7,599.6 L1825.3,576.0 L1825.9,637.5 L1829.0,637.5 L1829.6,600.6 L1830.2,641.9 L1832.1,641.9 L1832.7,637.6 L1833.3,644.5 L1835.8,644.5 L1836.4,605.6 L1837.0,629.6 L1839.5,629.6 L1840.1,620.3 L1840.7,629.3 L1842.6,629.3 L1843.2,599.4 L1843.8,613.1 L1846.3,613.1 L1846.9,596.9 L1847.5,615.9 L1850.6,615.9 L1851.2,572.3 L1851.8,623.9 L1853.7,623.9 L1854.3,585.8 L1854.9,612.3 L1857.4,612.3 L1858.0,585.2 L1858.6,605.2 L1861.1,605.2 L1861.7,592.0 L1862.3,629.4 L1864.8,629.4 L1865.4,586.5 L1866.0,609.9 L1867.2,609.9 L1867.8,593.2 L1868.4,619.8 L1870.3,619.8 L1870.9,584.6 L1871.5,604.2 L1872.8,604.2 L1873.4,536.5 L1874.0,620.2 L1875.3,620.2 L1875.9,618.9 L1876.5,628.3 L1878.3,628.3 L1878.9,599.4 L1879.5,625.6 L1880.8,625.6 L1881.4,582.8 L1882.0,621.4 L1885.7,621.4 L1886.3,588.9 L1886.9,614.5 L1888.2,614.5 L1888.8,588.9 L1889.4,628.7 L1891.9,628.7 L1892.5,608.0 L1893.1,626.5 L1896.2,626.5 L1896.8,582.8 L1897.4,617.9 L1901.1,617.9 L1901.7,599.4 L1902.3,621.3 L1904.2,621.3 L1904.8,609.2 L1905.4,634.4 L1907.2,634.4 L1907.8,628.3 L1908.4,631.3 L1909.8,631.3 L1910.4,609.2 L1911.0,617.2 L1912.8,617.2 L1913.4,600.6 L1914.0,624.1 L1917.2,624.1 L1917.8,604.3 L1918.4,633.7 L1920.9,633.7 L1921.5,617.9 L1922.1,640.2 L1925.8,640.2 L1926.4,596.9 L1927.0,610.9 L1930.1,610.9 L1930.7,587.1 L1931.3,623.0 L1933.8,623.0 L1934.4,609.2 L1935.0,636.7 L1938.7,636.7 L1939.3,619.1 L1939.9,636.3 L1943.0,636.3 L1943.6,609.2 L1944.2,622.2 L1948.0,622.2 L1948.6,599.4 L1949.2,611.7 L1950.4,611.7 L1951.0,580.9 L1951.6,616.6 L1953.9,616.6 L1954.5,555.0 L1955.1,617.2 L1957.8,617.2 L1958.4,605.6 L1959.0,642.8 L1961.4,642.8 L1962.0,618.3 L1962.6,627.1 L1964.6,627.1 L1965.2,564.9 L1965.8,599.7 L1967.4,599.7 L1968.0,519.3 L1968.6,608.6 L1970.4,608.6 L1971.0,597.2 L1971.6,626.8 L1973.8,626.8 L1974.4,529.1 L1975.0,588.8 L1978.2,588.8 L1978.8,543.9 L1979.4,581.8 L1981.8,581.8 L1982.4,569.8 L1983.0,588.6 L1986.8,588.6 L1987.4,567.4 L1988.0,613.7 L1991.7,613.7 L1992.3,588.3 L1992.9,619.8 L1996.0,619.8 L1996.6,600.6 L1997.2,617.1 L2000.3,617.1 L2000.9,567.4 L2001.5,633.2 L2003.0,633.2 L2003.6,633.2 L2004.2,633.2 L2005.9,633.2 L2006.5,591.0 L2007.1,606.7 L2009.3,606.7 L2009.9,507.0 L2010.5,630.1 L2012.4,630.1 L2013.0,625.4 L2013.6,625.7 L2014.8,625.7 L2015.4,553.8 L2016.0,620.1 L2019.7,620.1 L2020.3,605.6 L2020.9,639.1 L2023.4,639.1 L2024.0,625.3 L2024.6,632.2 L2026.5,632.2 L2027.1,606.8 L2027.7,613.8 L2030.8,613.8 L2031.4,552.6 L2032.0,615.2 L2034.5,615.2 L2035.1,591.4 L2035.7,630.9 L2038.2,630.9 L2038.8,580.9 L2039.4,616.3 L2042.3,616.3 L2042.9,538.4 L2043.5,605.6 L2046.8,605.6 L2047.4,605.6 L2048.0,629.8 L2049.3,629.8 L2049.9,620.3 L2050.5,645.2 L2051.8,645.2 L2052.4,636.4 L2053.0,645.4 L2056.1,645.4 L2056.7,558.7 L2057.3,640.7 L2060.0,587.1 L2062.0,559.5 L2066.5,583.9 L2066.5,665.0 Z" fill="#808080" stroke="#808080" stroke-width="3.8" stroke-linejoin="round"/>
<polyline points="210.2,625.3 210.7,625.3 211.2,625.3 211.7,625.3 212.2,625.3 212.7,625.3 213.2,625.3 213.7,625.3 214.2,625.3 214.7,625.3 215.2,625.3 215.7,625.3 216.1,625.3 216.2,625.3 216.7,625.8 217.2,626.9 217.7,628.6 218.2,630.6 218.7,633.0 219.2,635.6 219.7,638.3 220.2,641.1 220.7,643.7 221.2,646.2 221.7,648.4 222.2,650.2 222.7,651.5 223.2,652.3 223.5,652.4 223.7,652.2 224.2,650.5 224.7,647.5 225.2,643.8 225.7,640.2 226.2,637.1 226.7,635.4 226.9,635.1 227.2,635.4 227.7,637.4 228.2,640.7 228.7,644.5 229.2,648.2 229.7,651.1 230.2,652.4 230.3,652.4 230.7,652.0 231.2,650.8 231.7,648.9 232.2,646.4 232.7,643.4 233.2,640.0 233.7,636.3 234.2,632.6 234.7,628.8 235.2,625.1 235.7,621.6 236.2,618.5 236.7,615.8 237.2,613.7 237.7,612.3 238.2,611.7 238.3,611.7 238.7,611.8 239.2,611.9 239.7,612.1 240.2,612.4 240.7,612.8 241.2,613.3 241.7,613.9 242.0,614.2 242.2,614.8 242.7,617.9 243.2,623.0 243.7,629.3 244.2,636.2 244.7,642.9 245.2,648.7 245.7,652.9 246.2,654.8 246.3,654.8 246.7,653.6 247.2,649.5 247.7,643.7 248.2,637.1 248.7,630.9 249.2,626.3 249.4,625.3 249.7,623.5 250.2,620.9 250.7,618.4 251.2,616.0 251.7,613.6 252.2,611.5 252.7,609.4 253.2,607.5 253.7,605.8 254.2,604.4 254.7,603.1 255.2,602.1 255.7,601.3 256.2,600.8 256.7,600.6 256.8,600.6 257.2,604.3 257.7,614.8 258.2,627.7 258.7,638.8 259.2,643.7 259.2,643.8 259.7,643.2 260.2,641.7 260.7,639.3 261.2,636.3 261.7,632.8 262.2,629.1 262.7,625.4 263.2,621.8 263.7,618.6 264.2,615.9 264.7,614.0 265.2,613.0 265.4,612.9 265.7,613.2 266.2,614.5 266.7,616.7 267.2,619.7 267.7,623.3 268.2,627.3 268.7,631.4 269.2,635.7 269.7,639.7 270.2,643.4 270.7,646.6 271.2,649.1 271.7,650.6 272.2,651.1 272.2,651.1 272.7,648.8 273.2,643.3 273.7,635.8 274.2,627.7 274.7,619.9 275.2,613.9 275.7,610.7 275.9,610.5 276.2,610.5 276.7,610.7 277.2,610.9 277.7,611.3 278.2,611.7 278.7,612.2 279.2,612.8 279.7,613.5 280.2,614.2 280.2,614.2 280.7,615.7 281.2,618.3 281.7,621.7 282.2,625.7 282.7,629.8 283.2,633.8 283.7,637.4 284.2,640.2 284.7,642.0 285.1,642.5 285.2,642.5 285.7,642.5 286.2,642.5 286.7,642.5 287.2,642.5 287.7,642.5 288.2,642.5 288.7,642.5 288.8,642.5 289.2,640.3 289.7,633.6 290.2,626.7 290.6,624.0 290.7,624.0 291.2,624.7 291.7,626.3 292.2,628.7 292.7,631.7 293.2,635.1 293.7,638.6 294.2,642.2 294.7,645.6 295.2,648.6 295.7,651.1 296.2,652.8 296.7,653.6 296.8,653.6 297.2,653.0 297.7,650.4 298.2,646.3 298.7,640.9 299.2,634.6 299.7,627.6 300.2,620.3 300.7,612.9 301.2,606.0 301.7,599.6 302.2,594.2 302.7,590.2 303.2,587.7 303.6,587.1 303.7,587.1 304.2,589.0 304.7,593.0 305.2,598.3 305.7,604.3 306.2,610.3 306.7,615.7 307.2,619.8 307.3,620.3 307.7,622.8 308.2,625.8 308.7,628.8 309.2,631.7 309.7,634.4 310.2,636.8 310.7,639.0 311.2,640.9 311.7,642.3 312.2,643.3 312.7,643.7 312.8,643.8 313.2,642.5 313.7,637.8 314.2,630.7 314.7,622.4 315.2,614.1 315.7,607.1 316.2,602.8 316.5,601.9 316.7,602.1 317.2,604.5 317.7,609.0 318.2,614.6 318.7,620.6 319.2,625.9 319.7,629.8 320.2,631.4 320.2,631.4 320.7,630.6 321.2,628.3 321.7,624.7 322.2,620.2 322.7,615.0 323.2,609.4 323.7,603.8 324.2,598.5 324.7,593.7 325.2,589.7 325.7,586.8 326.2,585.3 326.4,585.2 326.7,586.9 327.2,595.0 327.7,607.3 328.2,620.8 328.7,632.7 329.2,640.1 329.5,641.3 329.7,641.1 330.2,639.4 330.7,636.4 331.2,632.9 331.7,629.2 332.2,625.9 332.7,623.6 333.2,622.8 333.2,622.8 333.7,624.7 334.2,629.0 334.7,634.5 335.2,640.0 335.7,644.3 336.2,646.2 336.2,646.2 336.7,643.5 337.2,635.7 337.7,625.2 338.2,614.3 338.7,605.4 339.2,600.8 339.3,600.6 339.7,602.3 340.2,608.2 340.7,615.9 341.2,622.8 341.7,626.4 341.8,626.5 342.2,626.1 342.7,624.6 343.2,622.3 343.7,619.4 344.2,616.0 344.7,612.6 345.2,609.1 345.7,606.0 346.2,603.4 346.7,601.5 347.2,600.7 347.3,600.6 347.7,600.8 348.2,601.7 348.7,603.1 349.2,604.9 349.7,607.2 350.2,609.7 350.7,612.5 351.2,615.3 351.7,618.1 352.2,620.8 352.7,623.2 352.9,624.0 353.2,625.7 353.7,628.8 354.2,631.5 354.7,632.7 354.7,632.7 355.2,632.5 355.7,632.2 356.2,631.6 356.7,630.9 357.2,630.0 357.7,629.2 358.2,628.3 358.7,627.4 359.2,626.6 359.7,626.0 360.2,625.5 360.7,625.3 360.9,625.3 361.2,625.6 361.7,627.5 362.2,630.5 362.7,634.2 363.2,638.3 363.7,642.2 364.2,645.5 364.7,647.8 365.2,648.7 365.2,648.7 365.7,646.9 366.2,642.3 366.7,636.2 367.2,629.5 367.7,623.6 368.2,619.5 368.3,619.1 368.7,617.2 369.2,615.0 369.7,612.9 370.2,610.9 370.7,609.1 371.2,607.4 371.7,605.9 372.2,604.6 372.7,603.6 373.2,602.7 373.7,602.2 374.2,601.9 374.4,601.9 374.7,602.9 375.2,609.6 375.7,620.3 376.2,632.5 376.7,643.5 377.2,650.9 377.5,652.4 377.7,652.2 378.2,650.6 378.7,647.3 379.2,642.7 379.7,637.2 380.2,631.0 380.7,624.6 381.2,618.3 381.7,612.3 382.2,607.1 382.7,603.0 383.2,600.3 383.7,599.4 383.7,599.4 384.2,604.9 384.7,617.2 385.2,631.6 385.7,643.3 386.1,647.4 386.2,647.4 386.7,646.6 387.2,644.7 387.7,641.8 388.2,638.4 388.7,634.6 389.2,630.7 389.7,627.1 390.2,623.9 390.7,621.5 391.1,620.3 391.2,620.1 391.7,619.0 392.2,617.9 392.7,617.0 393.2,616.1 393.7,615.4 394.2,614.8 394.7,614.4 395.2,614.2 395.4,614.2 395.7,614.9 396.2,618.4 396.7,623.8 397.2,629.8 397.7,635.4 398.2,639.2 398.5,640.1 398.7,640.4 399.2,641.1 399.7,641.8 400.2,642.3 400.7,642.9 401.2,643.3 401.7,643.8 402.2,644.1 402.7,644.4 403.2,644.6 403.7,644.8 404.2,644.9 404.7,645.0 405.0,645.0 405.2,644.8 405.7,642.7 406.2,638.9 406.7,634.0 407.2,628.5 407.7,623.0 408.2,618.2 408.7,614.7 409.2,613.0 409.3,612.9 409.7,614.0 410.2,617.8 410.7,623.5 411.2,630.1 411.7,636.6 412.2,642.1 412.7,645.6 413.0,646.2 413.2,645.8 413.7,641.3 414.2,633.9 414.7,626.4 415.2,621.2 415.5,620.3 415.7,620.6 416.2,622.4 416.7,625.5 417.2,629.1 417.7,632.3 418.2,634.6 418.6,635.1 418.7,634.9 419.2,631.8 419.7,626.3 420.2,620.5 420.7,616.3 421.0,615.4 421.2,615.5 421.7,616.8 422.2,619.0 422.7,621.7 423.2,624.2 423.7,626.0 424.1,626.5 424.2,626.3 424.7,620.1 425.2,609.9 425.7,601.9 425.9,600.6 426.2,600.8 426.7,601.7 427.2,603.5 427.7,605.9 428.2,608.8 428.7,611.9 429.2,615.1 429.6,617.9 429.7,618.2 430.2,622.6 430.7,627.6 431.2,631.6 431.5,632.7 431.7,632.9 432.2,633.5 432.7,634.0 433.2,634.4 433.7,634.7 434.2,635.0 434.7,635.1 435.2,635.1 435.2,635.1 435.7,634.7 436.2,633.6 436.7,632.1 437.2,630.7 437.7,629.5 438.2,629.0 438.3,629.0 438.7,630.3 439.2,634.3 439.7,639.9 440.2,645.8 440.7,650.8 441.2,653.4 441.4,653.6 441.7,652.8 442.2,649.3 442.7,644.1 443.2,638.4 443.7,633.5 444.2,630.6 444.4,630.2 444.7,630.4 445.2,631.8 445.7,634.2 446.2,637.1 446.7,640.1 447.2,642.6 447.7,644.4 448.1,645.0 448.2,645.0 448.7,644.4 449.2,643.0 449.7,641.0 450.2,638.4 450.7,635.4 451.2,632.1 451.7,628.6 452.2,625.1 452.7,621.7 453.2,618.6 453.7,615.7 454.2,613.4 454.7,611.7 455.2,610.7 455.5,610.5 455.7,610.6 456.2,611.6 456.7,613.7 457.2,616.5 457.7,619.8 458.2,623.3 458.7,626.9 459.2,630.1 459.2,630.2 459.7,633.5 460.2,637.6 460.7,642.0 461.2,646.4 461.7,650.2 462.2,653.1 462.7,654.7 462.9,654.8 463.2,654.5 463.7,652.4 464.2,649.0 464.7,644.9 465.2,640.7 465.7,637.1 466.2,634.6 466.6,633.9 466.7,633.9 467.2,635.2 467.7,638.0 468.2,641.7 468.7,645.6 469.2,649.3 469.7,652.2 470.2,653.6 470.3,653.6 470.7,653.3 471.2,652.3 471.7,650.4 472.2,648.0 472.7,645.1 473.2,641.7 473.7,638.0 474.2,634.2 474.7,630.2 475.2,626.3 475.7,622.5 476.2,618.9 476.7,615.6 477.2,612.8 477.7,610.6 478.2,609.0 478.7,608.1 478.9,608.0 479.2,608.8 479.7,613.5 480.2,621.1 480.7,629.7 481.2,637.5 481.7,642.7 482.0,643.8 482.2,643.6 482.7,642.3 483.2,639.9 483.7,636.7 484.2,633.1 484.7,629.5 485.2,626.4 485.7,624.1 485.7,624.0 486.2,622.3 486.7,620.5 487.2,618.8 487.7,617.1 488.2,615.7 488.7,614.5 489.2,613.6 489.7,613.0 490.0,612.9 490.2,613.1 490.7,615.4 491.2,619.7 491.7,625.3 492.2,631.6 492.7,637.9 493.2,643.5 493.7,647.7 494.2,649.8 494.3,649.9 494.7,649.3 495.2,646.9 495.7,643.3 496.2,639.5 496.7,636.1 497.2,634.1 497.4,633.9 497.7,633.9 498.2,633.9 498.7,634.0 499.2,634.1 499.7,634.2 500.2,634.3 500.7,634.5 501.2,634.6 501.7,634.8 502.2,635.1 502.4,635.1 502.7,635.5 503.2,636.6 503.7,638.2 504.2,640.1 504.7,642.3 505.2,644.5 505.7,646.5 506.2,648.2 506.7,649.4 507.2,649.9 507.3,649.9 507.7,647.1 508.2,638.0 508.7,625.4 509.2,612.1 509.7,601.0 510.2,594.9 510.4,594.5 510.7,595.5 511.2,599.9 511.7,606.4 512.2,613.5 512.7,619.7 513.2,623.5 513.4,624.0 513.7,623.8 514.2,622.6 514.7,620.4 515.2,617.8 515.7,615.0 516.2,612.7 516.7,611.0 517.1,610.5 517.2,610.5 517.7,610.8 518.2,611.4 518.7,612.4 519.2,613.7 519.7,615.1 520.2,616.6 520.7,618.1 521.2,619.6 521.5,620.3 521.7,621.1 522.2,622.9 522.7,625.0 523.2,627.3 523.7,629.7 524.2,631.9 524.7,634.0 525.2,635.7 525.7,636.9 526.2,637.5 526.4,637.6 526.7,637.3 527.2,636.1 527.7,634.2 528.2,631.9 528.7,629.5 529.2,627.5 529.7,626.2 530.1,625.9 530.2,625.9 530.7,625.9 531.2,625.9 531.7,626.0 532.2,626.0 532.7,626.1 533.2,626.2 533.7,626.3 534.2,626.4 534.4,626.5 534.7,627.1 535.2,629.9 535.7,634.2 536.2,639.4 536.7,644.7 537.2,649.4 537.7,652.6 538.1,653.6 538.2,653.7 538.7,654.0 539.2,654.3 539.7,654.6 540.2,654.9 540.7,655.1 541.2,655.3 541.7,655.5 542.2,655.6 542.7,655.8 543.2,655.9 543.7,655.9 544.2,656.0 544.7,656.1 545.2,656.1 545.5,656.1 545.7,656.1 546.2,656.0 546.7,655.7 547.2,655.4 547.7,655.0 548.2,654.5 548.7,653.9 549.2,653.2 549.7,652.5 549.8,652.4 550.2,651.2 550.7,648.5 551.2,644.7 551.7,640.2 552.2,635.4 552.7,630.6 553.2,626.2 553.7,622.6 554.2,620.1 554.7,619.1 554.7,619.1 555.2,619.6 555.7,621.1 556.2,623.4 556.7,626.3 557.2,629.6 557.7,633.1 558.2,636.7 558.7,640.2 559.2,643.3 559.7,645.8 560.2,647.7 560.7,648.6 560.9,648.7 561.2,648.5 561.7,647.2 562.2,645.2 562.7,642.5 563.2,639.4 563.7,636.1 564.2,632.8 564.7,629.7 565.2,627.1 565.7,625.2 566.2,624.2 566.4,624.0 566.7,624.5 567.2,627.5 567.7,632.2 568.2,637.6 568.7,642.4 569.2,645.6 569.5,646.2 569.7,646.1 570.2,644.4 570.7,641.2 571.2,637.0 571.7,632.3 572.2,627.7 572.7,623.7 573.2,620.6 573.7,619.2 573.8,619.1 574.2,619.3 574.7,620.2 575.2,621.5 575.7,623.3 576.2,625.4 576.7,627.7 577.2,630.0 577.5,631.4 577.7,632.3 578.2,635.6 578.7,639.8 579.2,644.3 579.7,648.7 580.2,652.4 580.7,655.0 581.2,656.1 581.2,656.1 581.7,654.6 582.2,650.5 582.7,644.3 583.2,636.8 583.7,628.7 584.2,620.5 584.7,613.1 585.2,607.1 585.7,603.1 586.1,601.9 586.2,601.9 586.7,602.8 587.2,605.2 587.7,608.7 588.2,613.0 588.7,617.9 589.2,623.1 589.7,628.3 590.2,633.3 590.7,637.7 591.2,641.3 591.7,643.8 592.2,644.9 592.3,645.0 592.7,644.3 593.2,641.7 593.7,637.9 594.2,633.5 594.7,629.1 595.2,625.5 595.7,623.2 596.0,622.8 596.2,622.9 596.7,624.1 597.2,626.1 597.7,628.7 598.2,631.5 598.7,633.9 599.2,635.7 599.7,636.4 599.7,636.4 600.2,635.3 600.7,632.5 601.2,628.2 601.7,623.0 602.2,617.2 602.7,611.3 603.2,605.7 603.7,600.8 604.2,597.0 604.7,594.8 605.0,594.5 605.2,594.5 605.7,594.7 606.2,595.1 606.7,595.7 607.2,596.5 607.5,596.9 607.7,598.0 608.2,603.9 608.7,613.0 609.2,623.2 609.7,632.4 610.2,638.6 610.5,640.1 610.7,640.0 611.2,639.6 611.7,638.8 612.2,637.7 612.7,636.4 613.2,635.1 613.6,633.9 613.7,633.7 614.2,631.8 614.7,629.2 615.2,626.5 615.7,624.1 616.2,622.3 616.7,621.6 616.7,621.6 617.2,622.5 617.7,625.1 618.2,628.9 618.7,633.3 619.2,637.9 619.7,642.2 620.2,645.8 620.7,648.1 621.0,648.7 621.2,648.8 621.7,649.1 622.2,649.3 622.7,649.5 623.2,649.7 623.7,649.8 624.2,649.9 624.7,649.9 624.7,649.9 625.2,649.3 625.7,647.7 626.2,645.1 626.7,642.0 627.2,638.5 627.7,634.8 628.2,631.3 628.7,628.0 629.2,625.4 629.7,623.6 630.2,622.8 630.3,622.8 630.7,623.1 631.2,624.1 631.7,625.6 632.2,627.4 632.7,629.5 633.2,631.5 633.7,633.4 634.2,634.9 634.7,636.0 635.2,636.4 635.2,636.4 635.7,636.2 636.2,635.9 636.7,635.4 637.2,634.7 637.7,633.9 638.2,632.8 638.3,632.7 638.7,628.8 639.2,618.5 639.7,604.8 640.2,590.7 640.7,579.0 641.2,572.7 641.4,572.3 641.7,573.4 642.2,578.4 642.7,586.3 643.2,596.0 643.7,606.5 644.2,616.5 644.7,624.9 645.2,630.7 645.7,632.7 645.7,632.7 646.2,632.5 646.7,632.1 647.2,631.5 647.7,630.8 648.2,630.1 648.7,629.4 649.2,628.7 649.7,628.2 650.2,627.8 650.6,627.7 650.7,627.9 651.2,631.5 651.7,638.2 652.2,645.5 652.7,651.0 653.1,652.4 653.2,652.3 653.7,651.8 654.2,650.7 654.7,649.3 655.2,647.8 655.7,646.4 656.2,645.4 656.7,645.0 656.8,645.0 657.2,645.8 657.7,648.2 658.2,651.2 658.7,653.7 659.2,654.8 659.2,654.8 659.7,654.4 660.2,653.3 660.7,651.8 661.2,650.1 661.7,648.4 662.2,647.1 662.7,646.3 662.9,646.2 663.2,646.3 663.7,646.8 664.2,647.7 664.7,648.8 665.2,650.1 665.7,651.4 666.2,652.6 666.7,653.7 667.2,654.4 667.7,654.8 667.8,654.8 668.2,654.4 668.7,652.5 669.2,649.6 669.7,646.2 670.2,642.8 670.7,639.9 671.2,638.0 671.5,637.6 671.7,637.6 672.2,638.4 672.7,639.8 673.2,641.8 673.7,644.1 674.2,646.5 674.7,648.9 675.2,651.0 675.7,652.6 676.2,653.5 676.5,653.6 676.7,653.4 677.2,651.9 677.7,649.0 678.2,645.3 678.7,641.0 679.2,636.5 679.7,632.2 680.2,628.5 680.7,625.7 681.2,624.2 681.4,624.0 681.7,624.4 682.2,626.1 682.7,628.9 683.2,632.3 683.7,635.7 684.2,638.7 684.7,640.7 685.1,641.3 685.2,641.3 685.7,640.4 686.2,638.6 686.7,635.9 687.2,632.6 687.7,629.0 688.2,625.1 688.7,621.2 689.2,617.6 689.7,614.4 690.2,611.8 690.7,610.0 691.2,609.3 691.3,609.2 691.7,611.0 692.2,616.6 692.7,624.6 693.2,633.7 693.7,642.6 694.2,649.9 694.7,654.2 695.0,654.8 695.2,654.6 695.7,652.9 696.2,649.6 696.7,645.1 697.2,639.6 697.7,633.4 698.2,626.7 698.7,619.7 699.2,612.7 699.7,606.1 700.2,600.0 700.7,594.6 701.2,590.3 701.7,587.3 702.2,585.9 702.4,585.8 702.7,586.5 703.2,589.6 703.7,594.6 704.2,600.9 704.7,608.1 705.2,615.4 705.7,622.3 706.2,628.3 706.7,632.7 707.2,635.0 707.3,635.1 707.7,635.6 708.2,636.1 708.7,636.6 709.2,637.0 709.7,637.3 710.2,637.5 710.7,637.6 711.0,637.6 711.2,637.6 711.7,637.3 712.2,636.9 712.7,636.2 713.2,635.5 713.4,635.1 713.7,634.5 714.2,632.1 714.7,628.6 715.2,624.6 715.7,620.7 716.2,617.3 716.7,614.9 717.1,614.2 717.2,614.2 717.7,615.6 718.2,618.6 718.7,622.4 719.2,626.1 719.7,629.0 720.2,630.2 720.2,630.2 720.7,628.7 721.2,624.4 721.7,618.5 722.2,611.8 722.7,605.4 723.2,600.2 723.7,597.3 723.9,596.9 724.2,597.7 724.7,602.3 725.2,609.4 725.7,617.7 726.2,625.4 726.7,631.0 727.0,632.7 727.2,633.3 727.7,634.6 728.2,635.8 728.7,636.9 729.2,637.7 729.7,638.3 730.2,638.7 730.7,638.8 730.7,638.8 731.2,638.0 731.7,635.9 732.2,632.8 732.7,628.9 733.2,624.6 733.7,620.1 734.2,615.7 734.7,611.8 735.2,608.6 735.7,606.4 736.2,605.6 736.2,605.6 736.7,607.1 737.2,611.8 737.7,618.7 738.2,626.9 738.7,635.4 739.2,643.4 739.7,649.8 740.2,653.9 740.6,654.8 740.7,654.8 741.2,653.6 741.7,651.4 742.2,648.6 742.7,645.7 743.2,642.9 743.7,640.9 744.2,640.1 744.2,640.1 744.7,640.4 745.2,641.5 745.7,643.0 746.2,644.7 746.7,646.4 747.2,647.8 747.7,648.6 747.9,648.7 748.2,648.5 748.7,647.5 749.2,645.6 749.7,643.1 750.2,640.2 750.7,637.1 751.2,634.0 751.7,631.0 752.2,628.5 752.7,626.6 753.2,625.5 753.5,625.3 753.7,625.5 754.2,627.4 754.7,630.8 755.2,635.1 755.7,639.9 756.2,644.5 756.7,648.4 757.2,650.9 757.6,651.6 757.7,651.6 758.2,650.4 758.7,648.0 759.2,645.0 759.7,641.8 760.0,640.0 760.2,638.9 760.7,636.0 761.2,633.0 761.7,629.5 762.1,626.4 762.2,625.5 762.7,620.6 763.2,614.9 763.7,608.7 764.0,605.0 764.2,602.6 764.7,596.7 765.2,589.7 765.5,584.4 765.7,579.5 766.2,562.0 766.7,543.2 766.8,540.0 767.2,525.9 767.7,509.2 768.1,503.6 768.2,504.0 768.7,515.2 769.2,533.3 769.4,540.0 769.7,550.2 770.2,568.4 770.6,580.0 770.7,582.1 771.2,590.8 771.5,595.0 771.7,597.5 772.2,603.1 772.7,608.1 773.2,612.5 773.5,615.0 773.7,616.6 774.2,620.6 774.7,624.4 775.2,628.0 775.7,631.3 776.2,634.3 776.7,636.9 777.2,639.4 777.7,641.9 778.2,644.4 778.7,646.7 779.2,648.6 779.7,650.2 780.2,651.2 780.7,651.6 781.2,650.8 781.7,648.9 782.2,646.4 782.7,643.9 783.2,642.0 783.7,641.3 783.7,641.3 784.2,642.1 784.7,644.1 785.2,646.7 785.7,649.3 786.2,651.4 786.7,652.4 786.8,652.4 787.2,651.4 787.7,648.4 788.2,643.9 788.7,638.5 789.2,632.7 789.7,627.1 790.2,622.4 790.7,619.1 791.1,617.9 791.2,617.7 791.7,617.0 792.2,616.3 792.7,615.7 793.2,615.2 793.7,614.8 794.2,614.5 794.7,614.3 795.2,614.2 795.4,614.2 795.7,614.6 796.2,616.7 796.7,620.3 797.2,625.0 797.7,630.4 798.2,636.2 798.7,642.0 799.2,647.3 799.7,651.9 800.2,655.2 800.7,657.1 800.9,657.3 801.2,657.1 801.7,655.7 802.2,653.2 802.7,650.1 803.2,646.6 803.7,643.3 804.2,640.4 804.7,638.3 805.0,637.6 805.2,637.3 805.7,636.8 806.2,636.4 806.7,636.1 807.2,635.5 807.5,635.1 807.7,634.2 808.2,629.2 808.7,621.2 809.2,611.6 809.7,601.8 810.2,593.3 810.7,587.3 811.2,585.2 811.2,585.2 811.7,587.3 812.2,592.3 812.7,599.6 813.2,608.3 813.7,617.7 814.2,627.0 814.7,635.4 815.2,642.1 815.7,646.3 816.1,647.4 816.2,647.3 816.7,644.4 817.2,639.1 817.7,633.2 818.2,628.8 818.6,627.7 818.7,627.9 819.2,630.4 819.7,635.0 820.2,640.6 820.7,646.0 821.2,649.9 821.6,651.1 821.7,651.1 822.2,651.0 822.7,650.6 823.2,650.0 823.7,649.2 824.2,648.4 824.7,647.5 824.7,647.4 825.2,646.0 825.7,643.4 826.2,640.3 826.7,637.1 827.2,634.1 827.7,631.7 828.2,630.3 828.4,630.2 828.7,630.7 829.2,633.8 829.7,638.6 830.2,644.0 830.7,649.1 831.2,652.6 831.6,653.6 831.7,653.6 832.2,652.1 832.7,648.9 833.2,644.5 833.7,639.2 834.2,633.4 834.5,630.0 834.7,627.6 835.2,620.4 835.7,611.8 836.2,601.9 836.6,593.2 836.7,590.9 837.2,578.8 837.7,563.9 838.2,544.0 838.7,498.6 839.0,482.3 839.2,490.3 839.7,537.9 839.8,544.0 840.2,559.8 840.7,575.0 841.2,586.9 841.5,593.2 841.7,597.2 842.2,606.4 842.7,614.4 843.2,621.3 843.5,625.0 843.7,627.5 844.2,633.9 844.7,639.1 845.2,641.3 845.7,639.4 846.2,634.9 846.7,629.8 847.2,626.1 847.5,625.3 847.7,625.4 848.2,626.9 848.7,629.8 849.2,633.3 849.7,637.0 850.2,640.4 850.7,642.8 851.2,643.8 851.2,643.8 851.7,643.0 852.2,640.8 852.7,637.6 853.2,633.9 853.7,630.1 854.2,626.6 854.7,623.7 855.2,621.9 855.5,621.6 855.7,621.6 856.2,621.6 856.7,621.7 857.2,621.9 857.7,622.1 858.2,622.3 858.7,622.6 859.2,623.0 859.7,623.4 860.2,623.8 860.5,624.0 860.7,624.5 861.2,626.7 861.7,630.1 862.2,634.4 862.7,638.9 863.2,643.4 863.7,647.2 864.2,649.9 864.7,651.1 864.8,651.1 865.2,649.5 865.7,644.4 866.2,637.3 866.7,630.0 867.2,623.8 867.7,620.5 867.8,620.3 868.2,621.0 868.7,624.0 869.2,628.6 869.7,633.9 870.2,639.3 870.7,643.9 871.2,646.8 871.5,647.4 871.7,647.3 872.2,645.1 872.7,641.3 873.2,637.3 873.7,634.5 874.0,633.9 874.2,634.2 874.7,637.0 875.2,641.5 875.7,646.2 876.2,649.4 876.5,649.9 876.7,649.9 877.2,649.8 877.7,649.6 878.2,649.2 878.7,648.9 879.2,648.4 879.7,647.9 880.2,647.4 880.2,647.4 880.7,646.6 881.2,645.3 881.7,643.7 882.2,642.1 882.7,640.6 883.2,639.5 883.7,638.9 883.9,638.8 884.2,638.8 884.7,639.0 885.2,639.2 885.7,639.5 886.2,639.8 886.7,640.1 887.2,640.4 887.7,640.7 888.2,641.0 888.7,641.1 889.2,641.2 889.7,640.4 890.2,638.4 890.7,635.5 891.2,632.1 891.5,630.0 891.7,628.6 892.2,624.9 892.7,619.1 893.0,614.0 893.2,605.5 893.7,571.7 894.2,554.3 894.7,540.3 895.2,515.0 895.6,442.0 895.7,443.3 896.2,475.9 896.7,515.0 897.2,536.3 897.7,554.5 898.1,571.7 898.2,577.5 898.7,611.3 898.8,614.0 899.2,618.8 899.7,623.1 900.2,625.2 900.5,625.6 900.7,625.2 901.2,621.9 901.7,617.4 902.2,614.4 902.4,614.2 902.7,617.8 903.2,628.4 903.6,632.7 903.7,632.6 904.2,631.6 904.7,629.7 905.2,627.4 905.7,625.1 906.2,623.4 906.7,622.8 906.7,622.8 907.2,624.0 907.7,626.7 908.2,630.7 908.7,635.2 909.2,639.9 909.7,644.2 910.2,647.6 910.7,649.6 911.0,649.9 911.2,649.9 911.7,649.6 912.2,649.2 912.7,648.5 913.2,647.8 913.4,647.4 913.7,646.9 914.2,644.9 914.7,642.0 915.2,638.2 915.7,633.8 916.2,628.9 916.7,623.8 917.2,618.6 917.7,613.4 918.2,608.5 918.7,604.0 919.2,600.1 919.7,597.0 920.2,594.9 920.7,593.9 920.8,593.8 921.2,595.8 921.7,603.7 922.2,615.1 922.7,627.4 923.2,638.0 923.7,644.3 923.9,645.0 924.2,644.5 924.7,642.0 925.2,638.0 925.7,633.6 926.2,629.6 926.7,627.0 927.0,626.5 927.2,626.7 927.7,628.3 928.2,631.4 928.7,635.4 929.2,639.9 929.7,644.3 930.2,648.1 930.7,651.0 931.2,652.3 931.3,652.4 931.7,652.1 932.2,651.1 932.7,649.5 933.2,647.3 933.7,644.9 934.2,642.4 934.7,639.9 935.2,637.5 935.7,635.5 936.2,634.0 936.2,633.9 936.7,632.8 937.2,631.7 937.7,630.6 938.2,629.6 938.7,628.6 939.2,627.8 939.7,627.2 940.2,626.7 940.6,626.5 940.7,626.4 941.2,626.2 941.7,626.0 942.2,625.9 942.7,625.7 943.2,625.6 943.7,625.5 944.2,625.4 944.7,625.3 945.2,625.3 945.5,625.3 945.7,625.7 946.2,629.3 946.7,635.0 947.2,640.7 947.7,644.4 947.9,645.0 948.2,644.9 948.7,644.5 949.2,643.7 949.7,642.6 950.2,641.2 950.7,639.7 951.2,637.9 951.6,636.4 951.7,636.1 952.2,633.3 952.7,629.3 953.2,624.4 953.7,619.2 954.2,614.1 954.7,609.7 955.2,606.3 955.3,605.6 955.7,603.9 956.2,601.6 956.7,599.5 957.2,597.3 957.7,595.4 958.2,593.5 958.7,591.9 959.2,590.4 959.7,589.2 960.2,588.2 960.7,587.5 961.2,587.1 961.5,587.1 961.7,587.3 962.2,589.5 962.7,593.3 963.2,597.7 963.7,601.9 964.2,604.8 964.6,605.6 964.7,605.1 965.2,595.6 965.7,577.1 966.2,554.5 966.7,532.6 967.2,516.4 967.7,510.7 967.7,510.7 968.2,514.4 968.7,523.4 969.2,536.1 969.7,550.8 970.2,565.9 970.7,579.7 971.2,590.6 971.4,593.2 971.7,598.3 972.2,605.9 972.7,613.4 973.2,620.6 973.7,627.3 974.2,633.3 974.7,638.4 975.2,642.4 975.7,645.0 976.2,646.2 976.3,646.2 976.7,646.0 977.2,645.2 977.7,644.0 978.2,642.5 978.7,640.8 979.2,639.2 979.7,637.6 980.2,636.3 980.7,635.5 981.2,635.1 981.2,635.1 981.7,635.8 982.2,637.5 982.7,639.8 983.2,642.1 983.7,644.0 984.2,645.0 984.3,645.0 984.7,644.1 985.2,641.2 985.7,637.6 986.2,634.3 986.7,632.7 986.8,632.7 987.2,632.9 987.7,633.7 988.2,634.9 988.7,636.5 989.2,638.2 989.7,640.0 990.2,641.8 990.7,643.5 991.2,644.8 991.7,645.8 992.2,646.2 992.3,646.2 992.7,646.2 993.2,646.2 993.7,646.2 994.2,646.2 994.7,646.2 995.2,646.2 995.7,646.2 996.2,646.2 996.6,646.2 996.7,646.2 997.2,645.1 997.7,642.7 998.2,639.5 998.7,635.7 999.2,631.9 999.7,628.4 1000.2,625.7 1000.7,624.2 1000.9,624.0 1001.2,624.1 1001.7,624.5 1002.2,625.3 1002.7,626.3 1003.2,627.5 1003.7,628.9 1004.2,630.3 1004.7,631.8 1005.0,632.7 1005.2,633.3 1005.7,635.3 1006.2,637.7 1006.7,640.5 1007.2,643.3 1007.7,646.2 1008.2,648.8 1008.7,651.0 1009.2,652.6 1009.7,653.5 1009.9,653.6 1010.2,653.1 1010.7,650.0 1011.2,644.6 1011.7,637.8 1012.2,630.3 1012.7,623.1 1013.2,616.8 1013.7,612.4 1014.2,610.5 1014.2,610.5 1014.7,611.4 1015.2,614.2 1015.7,617.8 1016.2,621.7 1016.7,624.8 1017.2,626.4 1017.3,626.5 1017.7,626.5 1018.2,626.4 1018.7,626.2 1019.2,626.0 1019.7,625.7 1020.2,625.4 1020.4,625.3 1020.7,624.7 1021.2,622.7 1021.7,619.8 1022.2,616.6 1022.7,613.8 1023.2,612.0 1023.5,611.7 1023.7,611.8 1024.2,612.7 1024.7,614.4 1025.2,616.7 1025.7,619.2 1026.2,621.9 1026.7,624.4 1027.2,626.5 1027.2,626.6 1027.7,628.5 1028.2,630.6 1028.7,632.7 1029.2,634.7 1029.7,636.5 1030.2,638.2 1030.7,639.6 1030.9,640.1 1031.2,640.8 1031.7,642.0 1032.2,643.1 1032.7,644.1 1033.2,645.0 1033.7,645.7 1034.2,646.1 1034.6,646.2 1034.7,646.2 1035.2,645.7 1035.7,644.7 1036.2,643.5 1036.7,642.4 1037.2,641.6 1037.7,641.3 1037.7,641.3 1038.2,641.9 1038.7,643.2 1039.2,644.7 1039.7,645.8 1040.1,646.2 1040.2,646.2 1040.7,645.4 1041.2,643.7 1041.7,641.3 1042.2,638.6 1042.7,635.9 1043.2,633.4 1043.7,631.4 1044.2,630.3 1044.4,630.2 1044.7,630.5 1045.2,632.8 1045.7,636.6 1046.2,641.1 1046.7,645.8 1047.2,649.9 1047.7,652.7 1048.1,653.6 1048.2,653.6 1048.7,651.3 1049.2,646.4 1049.7,640.3 1050.2,634.3 1050.7,629.6 1051.2,627.7 1051.2,627.7 1051.7,627.8 1052.2,627.8 1052.7,628.0 1053.2,628.1 1053.7,628.3 1054.2,628.6 1054.7,628.8 1054.9,629.0 1055.2,629.4 1055.7,631.3 1056.2,634.1 1056.7,637.6 1057.2,641.4 1057.7,645.0 1058.2,648.1 1058.7,650.3 1059.2,651.1 1059.2,651.1 1059.7,651.1 1060.2,651.0 1060.7,650.7 1061.2,650.4 1061.7,650.0 1062.2,649.5 1062.7,648.9 1062.9,648.7 1063.2,647.8 1063.7,643.8 1064.2,637.7 1064.7,630.6 1065.2,623.4 1065.7,617.2 1066.2,613.0 1066.6,611.7 1066.7,611.8 1067.2,614.0 1067.7,618.9 1068.2,625.3 1068.7,632.3 1069.2,638.7 1069.7,643.7 1070.2,646.1 1070.3,646.2 1070.7,646.1 1071.2,645.5 1071.7,644.7 1072.2,643.7 1072.7,642.7 1073.2,641.9 1073.7,641.4 1074.0,641.3 1074.2,641.7 1074.7,645.2 1075.2,650.1 1075.7,653.4 1075.9,653.6 1076.2,652.5 1076.7,647.7 1077.2,640.6 1077.7,632.9 1078.2,626.2 1078.7,622.1 1078.9,621.6 1079.2,621.9 1079.7,624.2 1080.2,628.2 1080.7,633.3 1081.2,638.8 1081.7,644.2 1082.2,648.8 1082.7,652.2 1083.2,653.6 1083.3,653.6 1083.7,653.5 1084.2,653.1 1084.7,652.4 1085.2,651.4 1085.4,651.0 1085.7,649.0 1086.2,640.6 1086.7,627.3 1087.2,610.8 1087.5,600.0 1087.7,591.1 1088.2,560.0 1088.6,527.0 1088.7,521.2 1089.2,494.9 1089.6,486.0 1089.7,486.0 1090.2,486.5 1090.7,487.2 1091.2,487.9 1091.5,488.0 1091.7,487.9 1092.2,487.4 1092.7,486.6 1093.2,486.1 1093.4,486.0 1093.7,488.2 1094.2,499.6 1094.7,516.4 1094.8,520.0 1095.2,542.1 1095.5,560.0 1095.7,569.8 1096.2,590.0 1096.7,601.1 1097.2,610.0 1097.7,621.3 1098.2,632.1 1098.7,636.4 1098.7,636.3 1099.2,630.4 1099.7,619.4 1100.2,610.0 1100.5,608.0 1100.7,608.6 1101.2,614.0 1101.7,622.8 1102.2,631.7 1102.7,637.8 1103.0,638.8 1103.2,638.4 1103.7,635.5 1104.2,630.6 1104.7,624.9 1105.2,619.8 1105.7,616.2 1106.0,615.4 1106.2,615.5 1106.7,617.6 1107.2,621.7 1107.7,626.8 1108.2,632.3 1108.7,637.3 1109.2,640.9 1109.7,642.5 1109.7,642.5 1110.2,642.0 1110.7,640.4 1111.2,638.0 1111.7,635.1 1112.2,632.1 1112.7,629.3 1113.2,627.0 1113.7,625.6 1114.1,625.3 1114.2,625.4 1114.7,626.9 1115.2,629.9 1115.7,633.4 1116.2,636.8 1116.7,639.2 1117.1,640.1 1117.2,640.1 1117.7,640.1 1118.2,640.1 1118.7,640.1 1119.2,640.1 1119.7,640.1 1120.2,640.1 1120.2,640.1 1120.7,636.2 1121.2,625.9 1121.7,612.2 1122.2,598.1 1122.7,586.8 1123.2,581.1 1123.3,580.9 1123.7,582.9 1124.2,590.1 1124.7,600.7 1125.2,613.0 1125.7,625.1 1126.2,635.2 1126.7,641.4 1127.0,642.5 1127.2,642.4 1127.7,641.0 1128.2,638.5 1128.7,635.0 1129.2,631.1 1129.7,627.0 1130.2,623.0 1130.7,619.6 1131.2,617.0 1131.7,615.6 1131.9,615.4 1132.2,615.6 1132.7,616.9 1133.2,619.1 1133.7,622.0 1134.2,625.2 1134.7,628.4 1135.2,631.3 1135.7,633.6 1136.2,635.1 1136.2,635.1 1136.7,635.9 1137.2,636.6 1137.7,637.3 1138.2,637.8 1138.7,638.3 1139.2,638.6 1139.7,638.8 1139.9,638.8 1140.2,638.1 1140.7,633.3 1141.2,625.5 1141.7,616.2 1142.2,607.1 1142.7,599.6 1143.2,595.3 1143.4,594.9 1143.7,596.4 1144.2,603.3 1144.7,611.7 1145.2,616.7 1145.3,616.9 1145.7,616.0 1146.2,612.9 1146.7,608.3 1147.2,603.1 1147.5,600.0 1147.7,598.0 1148.2,592.3 1148.7,585.0 1149.0,579.4 1149.2,574.3 1149.7,555.2 1150.2,532.1 1150.3,527.6 1150.7,504.3 1151.2,473.3 1151.6,462.3 1151.7,463.4 1152.2,492.3 1152.7,527.6 1153.2,550.8 1153.7,570.5 1154.0,579.4 1154.2,584.3 1154.7,595.4 1155.2,604.6 1155.7,611.7 1156.0,615.0 1156.2,616.9 1156.7,621.5 1157.2,625.8 1157.7,629.8 1158.2,633.3 1158.7,636.1 1159.2,638.3 1159.7,639.7 1160.2,640.2 1160.7,637.2 1161.2,629.4 1161.7,618.8 1162.2,607.2 1162.7,596.6 1163.2,588.8 1163.7,585.8 1164.2,589.3 1164.7,598.1 1165.2,609.6 1165.7,621.1 1166.2,630.0 1166.7,633.7 1167.2,633.8 1167.7,633.9 1167.7,633.9 1168.2,632.9 1168.7,630.6 1169.2,627.4 1169.7,623.9 1170.2,620.7 1170.7,618.1 1171.2,616.7 1171.4,616.6 1171.7,617.3 1172.2,620.6 1172.7,625.7 1173.2,632.1 1173.7,638.9 1174.2,645.4 1174.7,651.0 1175.2,654.8 1175.7,656.1 1175.7,656.1 1176.2,655.8 1176.7,655.1 1177.2,653.9 1177.7,652.6 1178.2,651.0 1178.7,649.3 1179.2,647.5 1179.7,645.9 1180.0,645.0 1180.2,644.3 1180.7,642.2 1181.2,639.9 1181.7,637.4 1182.2,635.1 1182.7,633.2 1183.2,631.9 1183.7,631.4 1183.7,631.4 1184.2,632.0 1184.7,633.3 1185.2,635.1 1185.7,637.0 1186.2,638.9 1186.7,640.4 1187.2,641.2 1187.4,641.3 1187.7,641.1 1188.2,640.4 1188.7,639.3 1189.2,638.2 1189.7,637.1 1190.2,636.5 1190.5,636.4 1190.7,636.6 1191.2,638.2 1191.7,640.7 1192.2,643.2 1192.7,644.8 1192.9,645.0 1193.2,645.0 1193.7,644.7 1194.2,644.3 1194.7,643.7 1195.2,643.0 1195.7,642.1 1196.2,641.1 1196.7,640.1 1197.2,638.9 1197.2,638.8 1197.7,637.0 1198.2,633.7 1198.7,629.4 1199.2,624.6 1199.7,619.8 1200.2,615.4 1200.7,611.9 1201.2,609.7 1201.5,609.2 1201.7,609.2 1202.2,609.3 1202.7,609.3 1203.2,609.5 1203.7,609.6 1203.9,609.7 1204.2,612.8 1204.7,624.7 1205.2,632.0 1205.7,630.9 1206.2,628.1 1206.7,624.2 1207.2,620.1 1207.7,616.4 1208.2,613.8 1208.6,613.1 1208.7,613.2 1209.2,614.8 1209.7,618.1 1210.2,622.1 1210.7,626.1 1211.0,628.0 1211.2,629.2 1211.7,632.5 1212.2,635.9 1212.7,639.0 1213.2,641.3 1213.7,642.4 1213.8,642.4 1214.2,641.5 1214.7,638.4 1215.2,633.8 1215.7,628.4 1216.0,625.0 1216.2,622.7 1216.7,615.7 1217.2,606.6 1217.6,597.6 1217.7,594.5 1218.2,568.9 1218.7,548.4 1218.8,547.6 1219.2,567.8 1219.7,597.6 1220.2,600.1 1220.7,601.5 1221.2,602.4 1221.7,603.1 1222.2,604.0 1222.7,605.7 1222.8,606.2 1223.2,610.2 1223.7,618.7 1224.2,627.6 1224.7,632.7 1225.2,634.6 1225.7,636.2 1226.2,637.7 1226.7,639.0 1227.2,640.1 1227.7,641.0 1228.2,641.7 1228.7,642.2 1229.2,642.4 1229.6,642.5 1229.7,642.5 1230.2,640.6 1230.7,636.5 1231.2,631.3 1231.7,626.1 1232.2,622.1 1232.7,620.3 1232.7,620.3 1233.2,621.2 1233.7,623.7 1234.2,627.3 1234.7,631.6 1235.2,636.1 1235.7,640.3 1236.2,643.7 1236.7,645.8 1237.0,646.2 1237.2,646.0 1237.7,643.3 1238.2,638.4 1238.7,632.5 1239.2,626.9 1239.7,622.8 1240.1,621.6 1240.2,621.6 1240.7,624.2 1241.2,629.1 1241.7,634.6 1242.2,638.8 1242.6,640.1 1242.7,640.0 1243.2,637.8 1243.7,633.7 1244.2,629.3 1244.7,626.1 1245.0,625.3 1245.2,625.5 1245.7,628.7 1246.2,634.1 1246.7,640.0 1247.2,644.1 1247.5,645.0 1247.7,644.8 1248.2,642.1 1248.7,637.0 1249.2,630.4 1249.7,623.0 1250.2,615.6 1250.7,609.1 1251.2,604.3 1251.7,602.0 1251.8,601.9 1252.2,603.2 1252.7,608.5 1253.2,616.4 1253.7,625.7 1254.2,635.0 1254.7,642.7 1255.2,647.7 1255.5,648.7 1255.7,648.6 1256.2,647.5 1256.7,645.3 1257.2,642.4 1257.7,639.0 1258.2,635.5 1258.7,632.0 1259.2,629.0 1259.7,626.7 1260.2,625.4 1260.5,625.3 1260.7,625.6 1261.2,628.0 1261.7,631.6 1262.2,635.3 1262.7,637.9 1263.0,638.4 1263.2,638.1 1263.7,635.5 1264.2,630.7 1264.7,624.4 1265.2,617.3 1265.7,610.2 1266.2,603.9 1266.7,599.1 1267.2,596.5 1267.4,596.2 1267.7,596.9 1268.2,600.9 1268.7,607.3 1269.2,615.0 1269.7,622.8 1270.2,629.6 1270.7,634.1 1271.1,635.4 1271.2,635.3 1271.7,633.0 1272.2,628.2 1272.7,621.6 1273.2,614.4 1273.5,610.0 1273.7,607.1 1274.2,599.0 1274.7,587.4 1274.8,584.4 1275.2,563.2 1275.3,557.9 1275.7,541.4 1276.2,524.3 1276.7,505.8 1277.2,480.0 1277.6,441.6 1277.7,444.6 1278.1,480.0 1278.2,486.4 1278.7,514.7 1279.2,540.0 1279.7,569.2 1280.2,597.1 1280.7,609.5 1281.2,609.1 1281.7,608.2 1282.2,607.0 1282.7,605.9 1283.2,605.1 1283.5,605.0 1283.7,605.0 1284.2,605.2 1284.7,605.6 1285.2,606.2 1285.7,607.0 1286.2,608.0 1286.6,608.8 1286.7,609.1 1287.2,613.3 1287.7,620.4 1288.2,628.7 1288.7,636.5 1289.2,642.0 1289.6,643.6 1289.7,643.6 1290.2,642.5 1290.7,640.1 1291.2,637.1 1291.7,633.8 1292.2,630.8 1292.7,628.4 1293.2,627.3 1293.3,627.3 1293.7,628.3 1294.2,631.7 1294.7,636.4 1295.2,641.2 1295.7,645.0 1296.2,646.5 1296.7,646.3 1297.2,645.8 1297.7,645.1 1298.2,644.3 1298.7,643.5 1299.2,642.9 1299.7,642.5 1299.9,642.5 1300.2,643.2 1300.7,646.6 1301.2,651.3 1301.7,655.8 1302.2,658.4 1302.4,658.5 1302.7,658.1 1303.2,656.1 1303.7,652.9 1304.2,649.3 1304.7,645.6 1305.2,642.5 1305.7,640.5 1306.0,640.1 1306.2,640.1 1306.7,640.5 1307.2,641.2 1307.7,642.1 1308.2,643.1 1308.7,644.0 1309.2,644.7 1309.7,645.0 1309.7,645.0 1310.2,639.8 1310.7,625.6 1311.2,608.2 1311.7,593.5 1312.2,587.1 1312.2,587.1 1312.7,589.3 1313.2,595.5 1313.7,604.4 1314.2,614.9 1314.7,625.7 1315.2,635.8 1315.7,643.9 1316.2,648.9 1316.5,649.9 1316.7,649.8 1317.2,648.0 1317.7,644.4 1318.2,639.3 1318.7,633.1 1319.2,626.1 1319.7,618.6 1320.2,611.0 1320.7,603.6 1321.2,596.7 1321.7,590.6 1322.2,585.8 1322.7,582.4 1323.2,580.9 1323.3,580.9 1323.7,582.4 1324.2,588.0 1324.7,596.3 1325.2,606.2 1325.7,616.2 1326.2,625.1 1326.7,631.7 1327.0,633.9 1327.2,634.9 1327.7,637.2 1328.2,639.4 1328.7,641.2 1329.2,642.8 1329.7,644.0 1330.2,644.7 1330.7,645.0 1330.7,645.0 1331.2,643.0 1331.7,638.3 1332.2,632.7 1332.7,628.2 1333.2,626.5 1333.2,626.5 1333.7,627.0 1334.2,628.1 1334.7,629.6 1335.2,631.0 1335.7,632.2 1336.2,632.7 1336.2,632.7 1336.7,630.2 1337.2,623.4 1337.7,614.2 1338.2,604.6 1338.7,596.8 1339.2,592.8 1339.3,592.6 1339.7,592.9 1340.2,594.0 1340.7,595.8 1341.2,598.0 1341.7,600.5 1342.2,603.0 1342.7,605.4 1343.2,607.3 1343.7,608.7 1344.2,609.2 1344.2,609.2 1344.7,607.6 1345.2,602.8 1345.7,596.3 1346.2,589.5 1346.7,584.0 1347.2,581.1 1347.3,580.9 1347.7,582.6 1348.2,589.3 1348.7,598.9 1349.2,609.3 1349.7,618.2 1350.2,623.5 1350.4,624.0 1350.7,623.8 1351.2,622.7 1351.7,620.9 1352.2,618.8 1352.7,616.5 1353.2,614.6 1353.7,613.3 1354.1,612.9 1354.2,613.2 1354.7,621.9 1355.2,636.4 1355.7,648.0 1356.0,649.9 1356.2,649.8 1356.7,648.7 1357.2,646.8 1357.7,644.3 1358.2,641.4 1358.7,638.4 1359.2,635.5 1359.7,633.1 1360.2,631.2 1360.7,630.3 1360.9,630.2 1361.2,630.6 1361.7,632.6 1362.2,636.0 1362.7,640.1 1363.2,644.6 1363.7,648.9 1364.2,652.6 1364.7,655.1 1365.2,656.1 1365.2,656.1 1365.7,654.6 1366.2,650.9 1366.7,646.0 1367.2,641.0 1367.7,637.1 1368.2,635.2 1368.3,635.1 1368.7,636.8 1369.2,641.7 1369.7,648.0 1370.2,653.5 1370.7,656.1 1370.7,656.1 1371.2,654.2 1371.7,648.7 1372.2,641.3 1372.7,633.7 1373.2,627.4 1373.7,624.2 1373.8,624.0 1374.2,624.4 1374.7,625.8 1375.2,628.0 1375.7,630.9 1376.2,634.2 1376.7,637.7 1377.2,641.1 1377.7,644.3 1378.2,647.0 1378.7,648.9 1379.2,649.8 1379.4,649.9 1379.7,649.7 1380.2,648.9 1380.7,647.6 1381.2,645.8 1381.7,643.8 1382.2,641.6 1382.7,639.5 1383.2,637.5 1383.7,635.9 1384.2,634.6 1384.7,634.0 1384.9,633.9 1385.2,633.9 1385.7,633.9 1386.2,633.9 1386.7,633.9 1387.2,633.9 1387.7,633.9 1388.2,633.9 1388.7,633.9 1389.2,633.9 1389.7,633.9 1390.2,633.9 1390.7,633.9 1391.1,633.9 1391.2,633.8 1391.7,632.7 1392.2,630.2 1392.7,626.7 1393.2,622.4 1393.7,617.6 1394.2,612.5 1394.7,607.5 1395.2,602.7 1395.7,598.5 1396.2,595.2 1396.7,592.9 1397.2,592.0 1397.2,592.0 1397.7,594.6 1398.2,601.7 1398.7,611.4 1399.2,621.4 1399.7,629.5 1400.2,633.7 1400.3,633.9 1400.7,632.4 1401.2,626.7 1401.7,617.6 1402.2,606.3 1402.7,594.0 1403.2,581.9 1403.7,570.9 1404.2,562.3 1404.7,557.2 1405.0,556.3 1405.2,557.3 1405.7,567.0 1406.2,583.0 1406.7,600.2 1407.2,613.9 1407.5,617.9 1407.7,620.0 1408.2,623.6 1408.7,626.3 1409.2,628.7 1409.7,631.3 1409.9,632.7 1410.2,634.5 1410.7,638.4 1411.2,642.6 1411.7,646.6 1412.2,650.1 1412.7,652.7 1413.0,653.6 1413.2,654.0 1413.7,654.9 1414.2,655.8 1414.7,656.6 1415.2,657.2 1415.7,657.7 1416.2,658.2 1416.7,658.4 1417.2,658.5 1417.3,658.5 1417.7,658.2 1418.2,656.7 1418.7,654.4 1419.2,651.6 1419.7,648.6 1420.2,645.8 1420.7,643.4 1421.2,641.8 1421.6,641.3 1421.7,641.3 1422.2,641.9 1422.7,643.3 1423.2,645.1 1423.7,646.8 1424.2,648.1 1424.7,648.7 1424.7,648.7 1425.2,645.1 1425.7,636.2 1426.2,625.4 1426.7,616.5 1427.2,612.9 1427.2,612.9 1427.7,614.4 1428.2,618.2 1428.7,623.5 1429.2,629.7 1429.7,636.0 1430.2,641.9 1430.7,646.6 1431.2,649.4 1431.5,649.9 1431.7,649.7 1432.2,647.8 1432.7,644.4 1433.2,640.1 1433.7,635.6 1434.2,631.7 1434.7,628.8 1435.2,627.7 1435.2,627.7 1435.7,628.3 1436.2,629.9 1436.7,632.2 1437.2,635.1 1437.7,638.3 1438.2,641.6 1438.7,644.8 1439.2,647.8 1439.7,650.1 1440.2,651.7 1440.7,652.4 1440.7,652.4 1441.2,651.5 1441.7,649.1 1442.2,645.6 1442.7,641.6 1443.2,637.8 1443.7,634.7 1444.2,632.9 1444.4,632.7 1444.7,632.9 1445.2,634.2 1445.7,636.3 1446.2,638.7 1446.7,640.8 1447.2,642.2 1447.5,642.5 1447.7,642.3 1448.2,640.3 1448.7,636.8 1449.2,632.7 1449.7,628.8 1450.2,626.0 1450.6,625.3 1450.7,625.3 1451.2,626.2 1451.7,628.1 1452.2,630.9 1452.7,634.3 1453.2,638.1 1453.7,642.1 1454.2,646.1 1454.7,649.9 1455.2,653.2 1455.7,655.9 1456.2,657.8 1456.7,658.5 1456.8,658.5 1457.2,658.5 1457.7,658.1 1458.2,657.7 1458.7,657.0 1459.2,656.2 1459.7,655.2 1460.2,654.2 1460.7,653.0 1461.2,651.8 1461.7,650.6 1462.2,649.3 1462.7,648.0 1462.9,647.4 1463.2,646.6 1463.7,644.6 1464.2,642.2 1464.7,639.5 1465.2,636.8 1465.7,634.3 1466.2,632.2 1466.7,630.8 1467.2,630.2 1467.2,630.2 1467.7,630.3 1468.2,630.5 1468.7,630.9 1469.2,631.3 1469.7,631.7 1470.2,632.1 1470.7,632.4 1471.2,632.6 1471.5,632.7 1471.7,632.0 1472.2,622.7 1472.7,605.1 1473.2,583.1 1473.7,560.6 1474.2,541.5 1474.7,529.5 1475.0,527.3 1475.2,528.4 1475.7,538.7 1476.2,556.6 1476.7,578.2 1477.2,599.4 1477.7,616.3 1478.2,624.9 1478.3,625.3 1478.7,623.3 1479.2,616.0 1479.7,605.5 1480.2,594.3 1480.7,584.6 1481.2,579.0 1481.4,578.4 1481.7,578.6 1482.2,579.9 1482.7,582.1 1483.2,585.1 1483.7,589.0 1484.2,593.6 1484.7,598.7 1485.2,604.2 1485.7,610.1 1486.2,616.2 1486.3,617.9 1486.7,625.4 1487.2,638.3 1487.6,642.5 1487.7,642.5 1488.2,642.3 1488.7,642.0 1489.2,641.5 1489.7,641.0 1490.2,640.5 1490.7,640.2 1491.2,640.1 1491.3,640.1 1491.7,640.5 1492.2,642.0 1492.7,644.2 1493.2,646.9 1493.7,649.6 1494.2,652.2 1494.7,654.4 1495.2,655.7 1495.6,656.1 1495.7,655.9 1496.2,652.9 1496.7,647.5 1497.2,641.6 1497.7,637.4 1498.0,636.4 1498.2,636.5 1498.7,638.8 1499.2,642.6 1499.7,646.5 1500.2,649.4 1500.5,649.9 1500.7,649.8 1501.2,648.6 1501.7,646.4 1502.2,643.6 1502.7,640.4 1503.2,637.3 1503.7,634.5 1504.2,632.5 1504.7,631.5 1504.8,631.4 1505.2,632.1 1505.7,634.6 1506.2,638.4 1506.7,642.8 1507.2,647.2 1507.7,650.9 1508.2,653.2 1508.5,653.6 1508.7,653.6 1509.2,653.3 1509.7,652.7 1510.2,651.9 1510.7,651.0 1511.2,650.1 1511.7,649.2 1512.2,648.4 1512.7,647.8 1513.2,647.5 1513.4,647.4 1513.7,647.5 1514.2,647.7 1514.7,648.0 1515.2,648.3 1515.7,648.8 1516.2,649.2 1516.7,649.5 1517.2,649.8 1517.7,649.9 1517.8,649.9 1518.2,649.6 1518.7,648.5 1519.2,646.8 1519.7,644.8 1520.2,642.6 1520.7,640.4 1521.2,638.3 1521.7,636.7 1522.2,635.5 1522.7,635.1 1522.7,635.1 1523.2,636.2 1523.7,638.9 1524.2,642.3 1524.7,645.8 1525.2,648.6 1525.7,649.9 1525.8,649.9 1526.2,649.5 1526.7,648.0 1527.2,645.6 1527.7,642.5 1528.2,638.7 1528.7,634.5 1529.2,630.0 1529.7,625.3 1530.2,620.6 1530.7,616.0 1531.2,611.7 1531.7,607.8 1532.2,604.5 1532.7,601.9 1533.2,600.1 1533.7,599.4 1533.8,599.4 1534.2,599.9 1534.7,601.6 1535.2,604.2 1535.7,607.6 1536.2,611.5 1536.7,615.6 1537.2,619.8 1537.7,623.8 1538.2,627.3 1538.7,630.2 1538.7,630.2 1539.2,632.7 1539.7,635.4 1540.2,638.1 1540.7,640.7 1541.2,643.0 1541.7,645.0 1542.2,646.4 1542.7,647.3 1543.0,647.4 1543.2,647.3 1543.7,645.7 1544.2,643.0 1544.7,639.7 1545.2,636.7 1545.7,634.5 1546.1,633.9 1546.2,633.9 1546.7,634.8 1547.2,636.4 1547.7,638.5 1548.2,640.5 1548.7,642.0 1549.2,642.5 1549.2,642.5 1549.7,641.9 1550.2,640.2 1550.7,637.9 1551.2,635.3 1551.7,632.5 1552.2,629.9 1552.7,627.9 1553.2,626.7 1553.5,626.5 1553.7,626.6 1554.2,627.9 1554.7,630.2 1555.2,633.1 1555.7,636.0 1556.2,638.7 1556.7,640.6 1557.2,641.3 1557.2,641.3 1557.7,639.8 1558.2,636.0 1558.7,630.9 1559.2,625.2 1559.7,619.9 1560.2,615.8 1560.3,615.4 1560.7,612.9 1561.2,609.9 1561.7,607.0 1562.2,604.2 1562.7,601.7 1563.2,599.7 1563.7,598.1 1564.2,597.2 1564.6,596.9 1564.7,597.2 1565.2,603.7 1565.7,615.5 1566.2,628.3 1566.7,637.7 1567.0,640.1 1567.2,640.0 1567.7,639.0 1568.2,637.0 1568.7,634.4 1569.2,631.4 1569.7,628.5 1570.2,625.9 1570.7,623.9 1571.2,622.9 1571.4,622.8 1571.7,622.9 1572.2,623.6 1572.7,624.8 1573.2,626.2 1573.7,627.9 1574.2,629.7 1574.7,631.5 1575.1,632.7 1575.2,633.1 1575.7,635.1 1576.2,637.5 1576.7,640.1 1577.2,642.8 1577.7,645.4 1578.2,647.8 1578.7,649.8 1579.2,651.4 1579.7,652.2 1580.0,652.4 1580.2,652.3 1580.7,651.7 1581.2,650.4 1581.7,648.6 1582.2,646.5 1582.7,644.1 1583.2,641.5 1583.7,638.8 1584.2,636.2 1584.7,633.7 1585.2,631.5 1585.5,630.2 1585.7,629.6 1586.2,627.6 1586.7,625.5 1587.2,623.3 1587.7,621.2 1588.2,619.2 1588.7,617.4 1589.2,615.9 1589.7,614.8 1590.2,614.3 1590.5,614.2 1590.7,614.2 1591.2,614.5 1591.7,615.1 1592.2,615.9 1592.7,616.9 1593.2,618.1 1593.7,619.4 1594.2,620.7 1594.7,622.1 1595.2,623.5 1595.4,624.0 1595.7,625.1 1596.2,627.3 1596.7,629.8 1597.2,632.4 1597.7,634.6 1598.2,636.0 1598.5,636.4 1598.7,636.5 1599.2,636.8 1599.7,637.0 1600.2,637.2 1600.7,637.4 1601.2,637.5 1601.7,637.6 1602.2,637.6 1602.2,637.6 1602.7,634.4 1603.2,627.2 1603.7,618.2 1604.2,609.8 1604.7,604.2 1605.0,603.1 1605.2,603.5 1605.7,607.3 1606.2,613.6 1606.7,620.2 1607.2,625.2 1607.5,626.5 1607.7,627.0 1608.2,627.8 1608.7,628.4 1609.2,628.9 1609.7,629.7 1609.9,630.2 1610.2,631.4 1610.7,635.5 1611.2,641.3 1611.7,647.6 1612.2,653.1 1612.7,656.6 1613.0,657.3 1613.2,657.0 1613.7,653.2 1614.2,646.3 1614.7,637.2 1615.2,627.0 1615.7,617.0 1616.2,608.1 1616.7,601.5 1617.2,598.3 1617.3,598.2 1617.7,600.3 1618.2,607.8 1618.7,617.7 1619.2,626.7 1619.7,631.3 1619.8,631.4 1620.2,630.6 1620.7,628.0 1621.2,624.4 1621.7,620.6 1622.2,617.3 1622.7,615.5 1622.9,615.4 1623.2,617.7 1623.7,626.9 1624.2,637.4 1624.7,642.5 1624.7,642.5 1625.2,642.0 1625.7,640.6 1626.2,638.5 1626.7,636.0 1627.2,633.5 1627.7,631.1 1628.2,629.2 1628.7,628.0 1629.0,627.7 1629.2,627.9 1629.7,630.0 1630.2,633.7 1630.7,638.1 1631.2,642.3 1631.7,645.3 1632.1,646.2 1632.2,646.1 1632.7,643.0 1633.2,636.7 1633.7,628.8 1634.2,621.1 1634.7,615.2 1635.2,612.9 1635.2,612.9 1635.7,614.6 1636.2,618.5 1636.7,623.7 1637.2,628.9 1637.7,633.1 1638.2,635.1 1638.3,635.1 1638.7,634.4 1639.2,632.0 1639.7,628.3 1640.2,624.0 1640.7,619.4 1641.2,615.2 1641.7,611.8 1642.0,610.5 1642.2,609.5 1642.7,607.5 1643.2,605.5 1643.7,603.6 1644.2,601.9 1644.7,600.4 1645.2,599.3 1645.7,598.5 1646.2,598.2 1646.3,598.2 1646.7,601.7 1647.2,612.8 1647.7,626.8 1648.2,639.1 1648.7,644.9 1648.7,645.0 1649.2,644.7 1649.7,644.0 1650.2,642.9 1650.7,641.6 1651.2,640.4 1651.7,639.5 1652.2,638.9 1652.4,638.8 1652.7,638.9 1653.2,639.7 1653.7,641.1 1654.2,642.9 1654.7,645.1 1655.2,647.4 1655.7,649.7 1656.2,651.8 1656.7,653.7 1657.2,655.1 1657.7,655.9 1658.0,656.1 1658.2,656.0 1658.7,655.0 1659.2,653.1 1659.7,650.6 1660.2,647.7 1660.7,644.6 1661.2,641.6 1661.7,638.9 1662.2,636.8 1662.7,635.4 1662.9,635.1 1663.2,634.9 1663.7,634.7 1664.2,634.5 1664.7,634.3 1665.2,634.0 1665.4,633.9 1665.7,632.6 1666.2,627.0 1666.7,618.4 1667.2,608.2 1667.7,598.1 1668.2,589.4 1668.7,583.6 1669.1,582.1 1669.2,582.4 1669.7,587.0 1670.2,595.5 1670.7,604.6 1671.2,611.3 1671.5,612.9 1671.7,612.9 1672.2,612.4 1672.7,611.4 1673.2,610.2 1673.7,609.1 1674.2,608.3 1674.6,608.0 1674.7,608.1 1675.2,609.9 1675.7,614.2 1676.2,620.0 1676.7,626.6 1677.2,633.4 1677.7,639.6 1678.2,644.4 1678.7,647.1 1678.9,647.4 1679.2,647.1 1679.7,645.1 1680.2,641.6 1680.7,637.1 1681.2,632.2 1681.7,627.5 1682.2,623.3 1682.7,620.4 1683.2,619.1 1683.3,619.1 1683.7,619.9 1684.2,622.1 1684.7,625.4 1685.2,628.9 1685.7,632.2 1686.2,634.7 1686.3,635.1 1686.7,636.2 1687.2,637.4 1687.7,638.6 1688.2,639.6 1688.7,640.5 1689.2,641.3 1689.7,642.1 1690.0,642.5 1690.2,642.8 1690.7,643.4 1691.2,644.1 1691.7,644.8 1692.2,645.3 1692.7,645.8 1693.2,646.1 1693.7,646.2 1693.7,646.2 1694.2,643.3 1694.7,635.2 1695.2,623.7 1695.7,610.9 1696.2,598.5 1696.7,588.5 1697.2,582.8 1697.4,582.1 1697.7,582.7 1698.2,586.0 1698.7,591.8 1699.2,599.3 1699.7,607.8 1700.2,616.6 1700.7,624.9 1701.2,632.1 1701.7,637.3 1702.2,639.9 1702.4,640.1 1702.7,639.6 1703.2,637.6 1703.7,634.4 1704.2,630.3 1704.7,625.7 1705.2,621.1 1705.7,616.7 1706.2,613.0 1706.7,610.4 1707.2,609.3 1707.3,609.2 1707.7,609.4 1708.2,609.8 1708.7,610.4 1709.2,611.3 1709.7,612.3 1710.2,613.5 1710.7,614.7 1711.0,615.4 1711.2,616.1 1711.7,618.6 1712.2,621.9 1712.7,625.9 1713.2,630.3 1713.7,634.6 1714.2,638.7 1714.7,642.2 1715.2,644.7 1715.7,646.1 1715.9,646.2 1716.2,645.5 1716.7,642.0 1717.2,636.9 1717.7,631.8 1718.2,628.3 1718.4,627.7 1718.7,627.1 1719.2,626.3 1719.7,625.6 1720.2,625.0 1720.7,624.6 1721.2,624.3 1721.7,624.1 1722.1,624.0 1722.2,624.1 1722.7,624.6 1723.2,625.9 1723.7,627.5 1724.2,629.5 1724.7,631.5 1725.2,633.5 1725.7,635.3 1726.2,636.6 1726.7,637.4 1727.0,637.6 1727.2,637.3 1727.7,634.6 1728.2,630.1 1728.7,624.7 1729.2,619.8 1729.7,616.3 1730.1,615.4 1730.2,615.5 1730.7,617.0 1731.2,620.3 1731.7,624.8 1732.2,630.1 1732.7,635.7 1733.2,641.1 1733.7,646.0 1734.2,649.7 1734.7,652.0 1735.0,652.4 1735.2,652.3 1735.7,651.8 1736.2,650.8 1736.7,649.4 1737.2,647.7 1737.7,645.9 1738.2,644.0 1738.7,642.1 1739.2,640.4 1739.3,640.1 1739.7,638.8 1740.2,636.9 1740.7,634.9 1741.2,632.8 1741.7,630.8 1742.2,629.0 1742.7,627.7 1743.2,626.8 1743.6,626.5 1743.7,626.5 1744.2,627.5 1744.7,629.6 1745.2,632.7 1745.7,636.3 1746.2,640.3 1746.7,644.1 1747.2,647.5 1747.7,650.3 1748.2,652.0 1748.6,652.4 1748.7,652.3 1749.2,651.8 1749.7,650.7 1750.2,649.2 1750.7,647.5 1751.2,645.8 1751.7,644.3 1752.2,643.2 1752.7,642.6 1752.9,642.5 1753.2,642.5 1753.7,642.5 1754.2,642.5 1754.7,642.5 1755.2,642.5 1755.7,642.5 1756.0,642.5 1756.2,642.7 1756.7,644.2 1757.2,646.5 1757.7,649.2 1758.2,651.6 1758.7,653.2 1759.0,653.6 1759.2,653.5 1759.7,652.6 1760.2,650.8 1760.7,648.4 1761.2,645.5 1761.7,642.6 1762.2,639.7 1762.7,637.1 1763.2,635.2 1763.7,634.1 1764.0,633.9 1764.2,633.9 1764.7,634.0 1765.2,634.3 1765.7,634.6 1766.2,635.0 1766.7,635.3 1767.2,635.7 1767.7,636.0 1768.2,636.2 1768.7,636.3 1768.9,636.4 1769.2,636.3 1769.7,635.7 1770.2,634.8 1770.7,633.5 1771.2,632.1 1771.7,630.5 1772.2,628.9 1772.6,627.7 1772.7,627.4 1773.2,625.5 1773.7,623.1 1774.2,620.5 1774.7,617.8 1775.2,615.2 1775.7,613.1 1776.2,611.4 1776.7,610.6 1776.9,610.5 1777.2,611.0 1777.7,614.0 1778.2,618.8 1778.7,624.6 1779.2,630.5 1779.7,635.6 1780.2,639.1 1780.6,640.1 1780.7,640.0 1781.2,639.0 1781.7,636.6 1782.2,633.3 1782.7,629.3 1783.2,624.8 1783.7,620.2 1784.2,615.8 1784.7,611.8 1785.2,608.6 1785.7,606.4 1786.1,605.6 1786.2,605.5 1786.7,605.2 1787.2,605.0 1787.7,604.8 1788.2,604.6 1788.7,604.5 1789.2,604.4 1789.7,604.3 1789.8,604.3 1790.2,605.0 1790.7,607.9 1791.2,612.4 1791.7,618.0 1792.2,624.0 1792.7,629.7 1793.2,634.5 1793.7,637.7 1794.2,638.8 1794.2,638.8 1794.7,638.7 1795.2,638.3 1795.7,637.7 1796.2,637.0 1796.7,636.1 1797.2,635.2 1797.2,635.1 1797.7,633.5 1798.2,630.5 1798.7,626.6 1799.2,622.4 1799.7,618.5 1800.2,615.3 1800.7,613.3 1800.9,612.9 1801.2,612.8 1801.7,612.5 1802.2,612.3 1802.7,612.1 1803.2,612.0 1803.7,611.8 1804.2,611.8 1804.7,611.7 1805.0,611.7 1805.2,611.8 1805.7,613.3 1806.2,616.0 1806.7,619.7 1807.2,624.1 1807.7,628.9 1808.2,633.7 1808.7,638.2 1809.2,642.2 1809.7,645.2 1810.2,647.1 1810.5,647.4 1810.7,647.2 1811.2,643.7 1811.7,636.9 1812.2,628.2 1812.7,619.0 1813.2,610.7 1813.7,604.5 1814.2,601.9 1814.2,601.9 1814.7,602.9 1815.2,605.8 1815.7,609.8 1816.2,613.9 1816.7,617.3 1817.2,619.0 1817.3,619.1 1817.7,619.0 1818.2,618.6 1818.7,618.1 1819.2,617.5 1819.7,617.0 1820.2,616.7 1820.4,616.6 1820.7,618.5 1821.2,627.4 1821.7,637.9 1822.2,643.7 1822.3,643.8 1822.7,643.3 1823.2,642.1 1823.7,640.4 1824.2,638.6 1824.7,637.2 1825.2,636.4 1825.3,636.4 1825.7,637.2 1826.2,640.3 1826.7,643.9 1827.2,646.2 1827.2,646.3 1827.7,647.6 1828.2,648.8 1828.7,649.9 1829.2,651.0 1829.7,651.9 1830.2,652.8 1830.7,653.5 1831.2,654.0 1831.7,654.5 1832.2,654.7 1832.7,654.8 1832.7,654.8 1833.2,654.4 1833.7,653.2 1834.2,651.4 1834.7,649.4 1835.2,647.5 1835.7,646.0 1836.2,645.1 1836.4,645.0 1836.7,645.1 1837.2,645.5 1837.7,646.3 1838.2,647.3 1838.7,648.3 1839.2,649.1 1839.7,649.7 1840.1,649.9 1840.2,649.9 1840.7,649.5 1841.2,648.6 1841.7,647.3 1842.2,645.8 1842.7,644.3 1843.2,643.0 1843.7,642.0 1844.2,641.4 1844.4,641.3 1844.7,641.4 1845.2,642.0 1845.7,643.0 1846.2,644.2 1846.7,645.4 1847.2,646.5 1847.7,647.2 1848.1,647.4 1848.2,647.4 1848.7,645.2 1849.2,640.6 1849.7,634.8 1850.2,629.0 1850.7,624.6 1851.2,622.8 1851.2,622.8 1851.7,623.9 1852.2,626.9 1852.7,631.1 1853.2,635.8 1853.7,640.4 1854.2,644.0 1854.7,646.0 1854.9,646.2 1855.2,646.0 1855.7,645.0 1856.2,643.3 1856.7,641.1 1857.2,638.8 1857.7,636.5 1858.2,634.6 1858.7,633.2 1859.2,632.7 1859.2,632.7 1859.7,634.1 1860.2,637.8 1860.7,642.2 1861.2,646.0 1861.7,647.4 1861.7,647.4 1862.2,646.4 1862.7,643.8 1863.2,640.2 1863.7,636.3 1864.2,632.5 1864.7,629.5 1865.2,627.9 1865.4,627.7 1865.7,628.0 1866.2,629.1 1866.7,631.0 1867.2,633.1 1867.7,635.3 1868.2,637.2 1868.7,638.5 1869.1,638.8 1869.2,638.7 1869.7,636.8 1870.2,633.0 1870.7,628.0 1871.2,622.7 1871.7,617.8 1872.2,614.1 1872.7,612.4 1872.8,612.3 1873.2,613.6 1873.7,617.6 1874.2,623.5 1874.7,630.3 1875.2,636.9 1875.7,642.4 1876.2,645.7 1876.5,646.2 1876.7,646.1 1877.2,645.2 1877.7,643.5 1878.2,641.4 1878.7,639.1 1879.2,636.8 1879.7,634.8 1880.2,633.3 1880.7,632.7 1880.8,632.7 1881.2,632.8 1881.7,633.4 1882.2,634.2 1882.7,635.2 1883.2,636.3 1883.7,637.3 1884.2,638.1 1884.7,638.7 1885.1,638.8 1885.2,638.8 1885.7,638.8 1886.2,638.6 1886.7,638.4 1887.2,638.1 1887.7,637.8 1888.2,637.4 1888.7,637.0 1889.2,636.7 1889.7,636.3 1890.2,636.0 1890.7,635.7 1891.2,635.4 1891.7,635.2 1892.2,635.1 1892.5,635.1 1892.7,635.3 1893.2,636.4 1893.7,638.5 1894.2,640.9 1894.7,643.1 1895.2,644.6 1895.6,645.0 1895.7,645.0 1896.2,644.8 1896.7,644.5 1897.2,644.0 1897.7,643.4 1898.2,642.7 1898.7,642.0 1899.2,641.2 1899.7,640.4 1899.9,640.1 1900.2,639.4 1900.7,638.0 1901.2,636.3 1901.7,634.5 1902.2,632.8 1902.7,631.4 1903.2,630.4 1903.6,630.2 1903.7,630.2 1904.2,631.3 1904.7,633.4 1905.2,636.2 1905.7,639.2 1906.2,641.9 1906.7,644.0 1907.2,645.0 1907.3,645.0 1907.7,644.7 1908.2,643.6 1908.7,642.0 1909.2,640.0 1909.7,637.8 1910.2,635.6 1910.7,633.5 1911.2,631.8 1911.7,630.6 1912.2,630.2 1912.2,630.2 1912.7,631.3 1913.2,634.3 1913.7,638.6 1914.2,643.3 1914.7,647.8 1915.2,651.4 1915.7,653.4 1915.9,653.6 1916.2,653.4 1916.7,652.5 1917.2,650.9 1917.7,649.0 1918.2,646.9 1918.7,644.8 1919.2,643.0 1919.7,641.8 1920.2,641.3 1920.2,641.3 1920.7,642.2 1921.2,644.7 1921.7,648.2 1922.2,652.2 1922.7,656.0 1923.2,659.1 1923.7,660.8 1923.9,661.0 1924.2,660.2 1924.7,655.8 1925.2,649.3 1925.7,642.7 1926.2,638.3 1926.4,637.6 1926.7,636.9 1927.2,635.9 1927.7,635.1 1928.2,634.4 1928.7,633.8 1929.2,633.3 1929.7,632.9 1930.2,632.7 1930.7,632.7 1930.7,632.7 1931.2,632.9 1931.7,633.4 1932.2,634.2 1932.7,635.2 1933.2,636.4 1933.7,637.7 1934.2,639.0 1934.7,640.3 1935.2,641.6 1935.6,642.5 1935.7,642.7 1936.2,643.9 1936.7,645.3 1937.2,646.7 1937.7,648.2 1938.2,649.7 1938.7,651.0 1939.2,652.1 1939.7,653.0 1940.2,653.5 1940.6,653.6 1940.7,653.5 1941.2,652.4 1941.7,650.2 1942.2,647.5 1942.7,644.5 1943.2,641.8 1943.6,640.1 1943.7,639.8 1944.2,638.2 1944.7,636.5 1945.2,635.0 1945.7,633.5 1946.2,632.1 1946.7,631.0 1947.2,630.0 1947.7,629.2 1947.9,629.0 1948.2,628.7 1948.7,628.3 1949.2,627.9 1949.7,627.5 1950.2,627.2 1950.7,626.9 1951.2,626.7 1951.7,626.6 1952.2,626.5 1952.3,626.5 1952.7,626.6 1953.2,626.8 1953.7,627.2 1954.2,627.7 1954.7,628.3 1955.2,629.0 1955.7,629.8 1956.0,630.2 1956.2,630.7 1956.7,632.5 1957.2,635.0 1957.7,638.2 1958.2,641.6 1958.7,645.3 1959.2,648.8 1959.7,652.1 1960.2,655.0 1960.7,657.1 1961.2,658.3 1961.5,658.5 1961.7,658.4 1962.2,656.8 1962.7,653.8 1963.2,649.6 1963.7,644.5 1964.2,638.9 1964.7,633.1 1965.2,627.4 1965.7,622.0 1966.2,617.3 1966.7,613.6 1967.2,611.2 1967.7,610.5 1967.7,610.5 1968.2,612.1 1968.7,615.9 1969.2,621.1 1969.7,626.8 1970.2,632.2 1970.7,636.4 1971.2,638.7 1971.4,638.8 1971.7,638.3 1972.2,636.2 1972.7,632.7 1973.2,628.4 1973.7,623.9 1974.2,619.6 1974.7,616.0 1975.1,614.2 1975.2,613.6 1975.7,611.5 1976.2,609.5 1976.7,607.6 1977.2,605.9 1977.7,604.4 1978.2,603.1 1978.7,602.3 1979.2,601.9 1979.4,601.9 1979.7,602.1 1980.2,603.6 1980.7,606.0 1981.2,609.2 1981.7,612.9 1982.2,617.0 1982.7,621.2 1983.2,625.3 1983.7,629.0 1984.2,632.2 1984.7,634.6 1985.2,636.1 1985.5,636.4 1985.7,636.1 1986.2,632.8 1986.7,627.2 1987.2,621.5 1987.7,617.4 1988.0,616.6 1988.2,616.7 1988.7,616.9 1989.2,617.5 1989.7,618.3 1990.2,619.3 1990.7,620.5 1991.2,621.8 1991.7,623.2 1992.2,624.8 1992.7,626.3 1993.2,627.9 1993.5,629.0 1993.7,629.5 1994.2,631.7 1994.7,634.5 1995.2,637.7 1995.7,641.1 1996.2,644.5 1996.7,647.6 1997.2,650.3 1997.7,652.3 1998.2,653.4 1998.5,653.6 1998.7,653.3 1999.2,651.0 1999.7,646.9 2000.2,641.9 2000.7,636.7 2001.2,632.1 2001.7,628.9 2002.2,627.7 2002.2,627.7 2002.7,628.4 2003.2,629.9 2003.7,632.0 2004.2,634.1 2004.7,636.0 2005.2,637.3 2005.6,637.6 2005.7,637.5 2006.2,636.5 2006.7,634.5 2007.2,631.9 2007.7,629.2 2008.2,626.7 2008.7,624.8 2009.2,624.0 2009.2,624.0 2009.7,624.7 2010.2,626.7 2010.7,629.5 2011.2,632.7 2011.7,635.8 2012.2,638.4 2012.7,639.9 2012.9,640.1 2013.2,639.6 2013.7,636.3 2014.2,631.1 2014.7,625.2 2015.2,619.8 2015.7,616.2 2016.0,615.4 2016.2,615.7 2016.7,618.8 2017.2,624.4 2017.7,631.1 2018.2,637.8 2018.7,642.9 2019.1,645.0 2019.2,645.2 2019.7,646.3 2020.2,647.3 2020.7,648.3 2021.2,649.1 2021.7,649.8 2022.2,650.5 2022.7,651.1 2023.2,651.5 2023.7,651.9 2024.2,652.1 2024.7,652.3 2025.2,652.4 2025.3,652.4 2025.7,651.9 2026.2,650.3 2026.7,647.8 2027.2,644.6 2027.7,640.9 2028.2,636.9 2028.7,632.9 2029.2,629.0 2029.7,625.5 2030.2,622.6 2030.7,620.4 2031.2,619.2 2031.4,619.1 2031.7,619.2 2032.2,620.1 2032.7,621.5 2033.2,623.5 2033.7,625.9 2034.2,628.5 2034.7,631.2 2035.2,633.9 2035.7,636.3 2036.2,638.4 2036.7,640.0 2037.2,641.0 2037.6,641.3 2037.7,641.3 2038.2,640.2 2038.7,638.0 2039.2,634.8 2039.7,630.9 2040.2,626.7 2040.7,622.4 2041.2,618.2 2041.7,614.6 2042.2,611.7 2042.7,609.8 2043.1,609.2 2043.2,609.3 2043.7,609.9 2044.2,611.4 2044.7,613.6 2045.2,616.5 2045.7,619.7 2046.2,623.2 2046.7,626.7 2047.2,630.3 2047.7,633.6 2048.2,636.5 2048.7,638.8 2048.7,638.9 2049.2,641.1 2049.7,643.4 2050.2,645.8 2050.7,648.1 2051.2,650.3 2051.7,652.2 2052.2,653.9 2052.7,655.1 2053.2,655.9 2053.6,656.1 2053.7,656.0 2054.2,654.2 2054.7,650.4 2055.2,645.4 2055.7,639.9 2056.2,634.8 2056.7,630.9 2057.2,629.0 2057.3,629.0 2057.7,629.0 2058.2,629.2 2058.7,629.5 2059.2,629.8 2059.7,630.0 2060.2,630.2 2060.4,630.2 2060.7,630.2 2061.2,630.2 2061.7,630.2 2062.2,630.2 2062.7,630.2 2063.2,630.2 2063.7,630.2 2064.2,630.2 2064.7,630.2 2065.2,630.2 2065.5,630.2" fill="none" stroke="#000" stroke-width="6.2" stroke-linejoin="round" stroke-linecap="round"/>
</g>
<g clip-path="url(#c2)"><defs><linearGradient id="r13" gradientUnits="objectBoundingBox" x1="0" x2="1" y1="0" y2="0"><stop offset="0.0000" stop-color="#deeaf3"/><stop offset="0.0442" stop-color="#e7f1f7"/><stop offset="0.0545" stop-color="#e0ecf4"/><stop offset="0.0642" stop-color="#cbdceb"/><stop offset="0.0734" stop-color="#b2cae1"/><stop offset="0.0771" stop-color="#adc7e0"/><stop offset="0.0809" stop-color="#aec7e0"/><stop offset="0.0858" stop-color="#b7cee3"/><stop offset="0.0949" stop-color="#d0e0ed"/><stop offset="0.1046" stop-color="#e1ecf4"/><stop offset="0.1165" stop-color="#e5eff6"/><stop offset="0.1370" stop-color="#e4eef5"/><stop offset="0.1446" stop-color="#ddeaf3"/><stop offset="0.1543" stop-color="#d2e2ee"/><stop offset="0.1624" stop-color="#d4e3ef"/><stop offset="0.1699" stop-color="#d9e6f1"/><stop offset="0.1737" stop-color="#d7e5f0"/><stop offset="0.1834" stop-color="#c6d8e9"/><stop offset="0.1882" stop-color="#c5d8e9"/><stop offset="0.1985" stop-color="#d3e2ef"/><stop offset="0.2109" stop-color="#dfebf4"/><stop offset="0.2433" stop-color="#e8f1f7"/><stop offset="0.2713" stop-color="#e7f1f7"/><stop offset="0.3085" stop-color="#e5eff6"/><stop offset="0.3328" stop-color="#e9f2f7"/><stop offset="0.3495" stop-color="#eef5f9"/><stop offset="0.3598" stop-color="#e6f0f7"/><stop offset="0.3711" stop-color="#d9e6f1"/><stop offset="0.3851" stop-color="#c8daea"/><stop offset="0.3932" stop-color="#c8daea"/><stop offset="0.4035" stop-color="#d2e2ee"/><stop offset="0.4455" stop-color="#d4e3ef"/><stop offset="0.4827" stop-color="#eaf3f8"/><stop offset="0.4984" stop-color="#ecf4f9"/><stop offset="0.5221" stop-color="#e0ecf4"/><stop offset="0.5329" stop-color="#e4eef5"/><stop offset="0.5475" stop-color="#ecf4f9"/><stop offset="0.5615" stop-color="#eaf3f8"/><stop offset="0.5793" stop-color="#ddeaf3"/><stop offset="0.6003" stop-color="#c8daea"/><stop offset="0.6127" stop-color="#c4d7e8"/><stop offset="0.6397" stop-color="#c6d8e9"/><stop offset="0.6489" stop-color="#cedfec"/><stop offset="0.6629" stop-color="#e6f0f6"/><stop offset="0.6731" stop-color="#eef5f9"/><stop offset="0.6807" stop-color="#ebf4f8"/><stop offset="0.6926" stop-color="#ddeaf3"/><stop offset="0.7017" stop-color="#d1e1ee"/><stop offset="0.7287" stop-color="#bfd3e6"/><stop offset="0.7492" stop-color="#b7cee3"/><stop offset="0.7573" stop-color="#b9cee4"/><stop offset="0.7632" stop-color="#c4d7e8"/><stop offset="0.7718" stop-color="#dfebf4"/><stop offset="0.7778" stop-color="#e5eff6"/><stop offset="0.7896" stop-color="#e1edf5"/><stop offset="0.8166" stop-color="#c8daea"/><stop offset="0.8263" stop-color="#c6d8e9"/><stop offset="0.8360" stop-color="#cadbeb"/><stop offset="0.8587" stop-color="#e3eef5"/><stop offset="0.8732" stop-color="#ebf3f8"/><stop offset="0.8819" stop-color="#e9f2f8"/><stop offset="0.8905" stop-color="#deeaf3"/><stop offset="0.9002" stop-color="#cadbeb"/><stop offset="0.9056" stop-color="#c4d7e8"/><stop offset="0.9159" stop-color="#c2d5e7"/><stop offset="0.9428" stop-color="#c7d9e9"/><stop offset="0.9563" stop-color="#d3e2ef"/><stop offset="0.9703" stop-color="#e2edf5"/><stop offset="0.9871" stop-color="#e5eff6"/><stop offset="1.0000" stop-color="#e5eff6"/></linearGradient><linearGradient id="r14" gradientUnits="objectBoundingBox" x1="0" x2="1" y1="0" y2="0"><stop offset="0.0000" stop-color="#e5eff6"/><stop offset="0.0113" stop-color="#e3eef5"/><stop offset="0.0232" stop-color="#d3e2ef"/><stop offset="0.0334" stop-color="#d6e4f0"/><stop offset="0.0545" stop-color="#e7f1f7"/><stop offset="0.0712" stop-color="#eef5f9"/><stop offset="0.0820" stop-color="#e9f2f7"/><stop offset="0.0917" stop-color="#dce9f2"/><stop offset="0.1090" stop-color="#b9cee4"/><stop offset="0.1160" stop-color="#adc7e0"/><stop offset="0.1241" stop-color="#a8c3de"/><stop offset="0.1300" stop-color="#aac4de"/><stop offset="0.1402" stop-color="#b9cee4"/><stop offset="0.1521" stop-color="#cbdceb"/><stop offset="0.1775" stop-color="#e1ecf4"/><stop offset="0.1963" stop-color="#e6f0f6"/><stop offset="0.2044" stop-color="#e0ecf4"/><stop offset="0.2157" stop-color="#c8daea"/><stop offset="0.2217" stop-color="#bdd1e5"/><stop offset="0.2287" stop-color="#bacfe4"/><stop offset="0.2379" stop-color="#c4d7e8"/><stop offset="0.2492" stop-color="#d6e4f0"/><stop offset="0.2562" stop-color="#d9e6f1"/><stop offset="0.2627" stop-color="#d7e5f0"/><stop offset="0.2740" stop-color="#c8daea"/><stop offset="0.2923" stop-color="#acc6df"/><stop offset="0.3020" stop-color="#a6c2dd"/><stop offset="0.3069" stop-color="#abc5df"/><stop offset="0.3112" stop-color="#b5cce3"/><stop offset="0.3220" stop-color="#dae7f1"/><stop offset="0.3263" stop-color="#e1edf5"/><stop offset="0.3355" stop-color="#e1edf5"/><stop offset="0.3528" stop-color="#d2e2ee"/><stop offset="0.3598" stop-color="#d2e2ee"/><stop offset="0.3695" stop-color="#dfebf4"/><stop offset="0.3786" stop-color="#e6f0f7"/><stop offset="0.3857" stop-color="#e3eef5"/><stop offset="0.3894" stop-color="#dce9f2"/><stop offset="0.3991" stop-color="#c1d4e7"/><stop offset="0.4040" stop-color="#bacfe4"/><stop offset="0.4099" stop-color="#bdd1e5"/><stop offset="0.4213" stop-color="#d0e0ed"/><stop offset="0.4283" stop-color="#d3e2ef"/><stop offset="0.4407" stop-color="#cbdceb"/><stop offset="0.4601" stop-color="#bacfe4"/><stop offset="0.4698" stop-color="#b6cde3"/><stop offset="0.4865" stop-color="#bed2e6"/><stop offset="0.5237" stop-color="#dbe8f2"/><stop offset="0.5388" stop-color="#dbe8f2"/><stop offset="0.5717" stop-color="#d3e2ef"/><stop offset="0.5814" stop-color="#d7e5f0"/><stop offset="0.5976" stop-color="#e6f0f6"/><stop offset="0.6084" stop-color="#e9f2f8"/><stop offset="0.6192" stop-color="#e1ecf4"/><stop offset="0.6305" stop-color="#cedfec"/><stop offset="0.6505" stop-color="#c1d4e7"/><stop offset="0.6699" stop-color="#bacfe4"/><stop offset="0.6807" stop-color="#bacfe4"/><stop offset="0.6861" stop-color="#c2d5e7"/><stop offset="0.6969" stop-color="#e2edf5"/><stop offset="0.7044" stop-color="#ebf4f8"/><stop offset="0.7131" stop-color="#e9f2f8"/><stop offset="0.7233" stop-color="#deeaf3"/><stop offset="0.7411" stop-color="#bfd3e6"/><stop offset="0.7492" stop-color="#b7cee3"/><stop offset="0.7546" stop-color="#bacfe4"/><stop offset="0.7600" stop-color="#c7d9e9"/><stop offset="0.7670" stop-color="#e0ecf4"/><stop offset="0.7735" stop-color="#e8f1f7"/><stop offset="0.7848" stop-color="#e4eff6"/><stop offset="0.8080" stop-color="#cfdfed"/><stop offset="0.8312" stop-color="#c8daea"/><stop offset="0.8474" stop-color="#c8daea"/><stop offset="0.8565" stop-color="#d4e3ef"/><stop offset="0.8662" stop-color="#e1edf5"/><stop offset="0.8927" stop-color="#e6f0f6"/><stop offset="0.9239" stop-color="#e6f0f6"/><stop offset="0.9337" stop-color="#ddeaf3"/><stop offset="0.9466" stop-color="#cadbeb"/><stop offset="0.9547" stop-color="#c6d8e9"/><stop offset="0.9628" stop-color="#cedfec"/><stop offset="0.9746" stop-color="#e2edf5"/><stop offset="0.9827" stop-color="#e6f0f7"/><stop offset="0.9903" stop-color="#e1ecf4"/><stop offset="1.0000" stop-color="#d0e0ed"/></linearGradient><linearGradient id="r15" gradientUnits="objectBoundingBox" x1="0" x2="1" y1="0" y2="0"><stop offset="0.0000" stop-color="#d1e1ee"/><stop offset="0.0070" stop-color="#cfdfed"/><stop offset="0.0243" stop-color="#ddeaf3"/><stop offset="0.0313" stop-color="#dbe8f2"/><stop offset="0.0442" stop-color="#cadbeb"/><stop offset="0.0529" stop-color="#cadbeb"/><stop offset="0.0663" stop-color="#d2e2ee"/><stop offset="0.0723" stop-color="#d0e0ed"/><stop offset="0.0787" stop-color="#c4d7e8"/><stop offset="0.0841" stop-color="#bacfe4"/><stop offset="0.0895" stop-color="#b7cee3"/><stop offset="0.1025" stop-color="#c0d4e6"/><stop offset="0.1176" stop-color="#cfdfed"/><stop offset="0.1278" stop-color="#dbe8f2"/><stop offset="0.1472" stop-color="#deeaf3"/><stop offset="0.1634" stop-color="#deeaf3"/><stop offset="0.1796" stop-color="#d9e6f1"/><stop offset="0.1855" stop-color="#dbe8f2"/><stop offset="0.2023" stop-color="#ecf4f9"/><stop offset="0.2109" stop-color="#ebf4f8"/><stop offset="0.2282" stop-color="#dbe8f2"/><stop offset="0.2352" stop-color="#dbe8f2"/><stop offset="0.2562" stop-color="#e6f0f7"/><stop offset="0.2702" stop-color="#e4eff6"/><stop offset="0.2826" stop-color="#dce9f2"/><stop offset="0.3058" stop-color="#c6d8e9"/><stop offset="0.3172" stop-color="#c3d6e8"/><stop offset="0.3263" stop-color="#c6d8e9"/><stop offset="0.3630" stop-color="#e9f2f8"/><stop offset="0.3754" stop-color="#eef6fa"/><stop offset="0.3873" stop-color="#e9f2f7"/><stop offset="0.4018" stop-color="#dfebf4"/><stop offset="0.4110" stop-color="#e1ecf4"/><stop offset="0.4299" stop-color="#edf5f9"/><stop offset="0.4423" stop-color="#ecf4f9"/><stop offset="0.4622" stop-color="#dfebf4"/><stop offset="0.4844" stop-color="#c7d9e9"/><stop offset="0.4973" stop-color="#c0d4e6"/><stop offset="0.5038" stop-color="#c3d6e8"/><stop offset="0.5135" stop-color="#d6e4f0"/><stop offset="0.5200" stop-color="#e2edf5"/><stop offset="0.5286" stop-color="#e5eff6"/><stop offset="0.5415" stop-color="#ddeaf3"/><stop offset="0.5561" stop-color="#d0e0ed"/><stop offset="0.5804" stop-color="#c6d8e9"/><stop offset="0.5895" stop-color="#c6d8e9"/><stop offset="0.5987" stop-color="#d0e0ed"/><stop offset="0.6100" stop-color="#e3eef5"/><stop offset="0.6197" stop-color="#eaf3f8"/><stop offset="0.6300" stop-color="#e7f1f7"/><stop offset="0.6462" stop-color="#deeaf3"/><stop offset="0.6861" stop-color="#dfebf4"/><stop offset="0.7190" stop-color="#eaf3f8"/><stop offset="0.7255" stop-color="#e7f1f7"/><stop offset="0.7309" stop-color="#deeaf3"/><stop offset="0.7406" stop-color="#bdd1e5"/><stop offset="0.7454" stop-color="#b3cbe2"/><stop offset="0.7508" stop-color="#b3cbe2"/><stop offset="0.7675" stop-color="#cedfec"/><stop offset="0.7756" stop-color="#d0e0ed"/><stop offset="0.7972" stop-color="#c3d6e8"/><stop offset="0.8123" stop-color="#c4d7e8"/><stop offset="0.8447" stop-color="#d3e2ef"/><stop offset="0.8657" stop-color="#e0ecf4"/><stop offset="0.8786" stop-color="#e0ecf4"/><stop offset="0.8997" stop-color="#d4e3ef"/><stop offset="0.9369" stop-color="#d6e4f0"/><stop offset="0.9461" stop-color="#dfebf4"/><stop offset="0.9606" stop-color="#ecf4f9"/><stop offset="0.9838" stop-color="#eff6fa"/><stop offset="1.0000" stop-color="#f0f7fa"/></linearGradient><linearGradient id="r16" gradientUnits="objectBoundingBox" x1="0" x2="1" y1="0" y2="0"><stop offset="0.0000" stop-color="#f0f7fa"/><stop offset="0.0502" stop-color="#eef6fa"/><stop offset="0.0653" stop-color="#e9f2f7"/><stop offset="0.0771" stop-color="#ddeaf3"/><stop offset="0.0890" stop-color="#cfdfed"/><stop offset="0.1003" stop-color="#cddeec"/><stop offset="0.1143" stop-color="#d8e6f0"/><stop offset="0.1273" stop-color="#e4eef5"/><stop offset="0.1419" stop-color="#e9f2f8"/><stop offset="0.1543" stop-color="#e7f1f7"/><stop offset="0.1704" stop-color="#dce9f2"/><stop offset="0.1823" stop-color="#d3e2ef"/><stop offset="0.1899" stop-color="#d3e2ef"/><stop offset="0.2055" stop-color="#e5eff6"/><stop offset="0.2147" stop-color="#e6f0f7"/><stop offset="0.2260" stop-color="#dfebf4"/><stop offset="0.2395" stop-color="#cfdfed"/><stop offset="0.2481" stop-color="#ccddec"/><stop offset="0.2659" stop-color="#d4e3ef"/><stop offset="0.2983" stop-color="#eef6fa"/><stop offset="0.3074" stop-color="#eef5f9"/><stop offset="0.3177" stop-color="#e2edf5"/><stop offset="0.3317" stop-color="#c4d7e8"/><stop offset="0.3382" stop-color="#bbd0e4"/><stop offset="0.3479" stop-color="#bbd0e4"/><stop offset="0.3592" stop-color="#c7d9e9"/><stop offset="0.3770" stop-color="#e1ecf4"/><stop offset="0.3900" stop-color="#e6f0f7"/><stop offset="0.4008" stop-color="#e1edf5"/><stop offset="0.4153" stop-color="#d2e2ee"/><stop offset="0.4256" stop-color="#d2e2ee"/><stop offset="0.4450" stop-color="#dfebf4"/><stop offset="0.4525" stop-color="#deeaf3"/><stop offset="0.4622" stop-color="#d2e2ee"/><stop offset="0.4806" stop-color="#b5cce3"/><stop offset="0.4892" stop-color="#b0c9e1"/><stop offset="0.5027" stop-color="#b0c9e1"/><stop offset="0.5108" stop-color="#b5cce3"/><stop offset="0.5178" stop-color="#c3d6e8"/><stop offset="0.5275" stop-color="#dce9f2"/><stop offset="0.5318" stop-color="#e1edf5"/><stop offset="0.5464" stop-color="#e1edf5"/><stop offset="0.5647" stop-color="#d9e6f1"/><stop offset="0.5777" stop-color="#d0e0ed"/><stop offset="0.5852" stop-color="#d0e0ed"/><stop offset="0.5971" stop-color="#ddeaf3"/><stop offset="0.6100" stop-color="#e8f1f7"/><stop offset="0.6321" stop-color="#ebf3f8"/><stop offset="0.6516" stop-color="#e9f2f8"/><stop offset="0.6683" stop-color="#deeaf3"/><stop offset="0.6802" stop-color="#d3e2ef"/><stop offset="0.6899" stop-color="#d1e1ee"/><stop offset="0.7012" stop-color="#d4e3ef"/><stop offset="0.7211" stop-color="#dfebf4"/><stop offset="0.7422" stop-color="#dfebf4"/><stop offset="0.7513" stop-color="#dae7f1"/><stop offset="0.7567" stop-color="#cedfec"/><stop offset="0.7675" stop-color="#aac4de"/><stop offset="0.7735" stop-color="#9fbcda"/><stop offset="0.7794" stop-color="#a0bddb"/><stop offset="0.7869" stop-color="#aec7e0"/><stop offset="0.8004" stop-color="#d1e1ee"/><stop offset="0.8074" stop-color="#dbe8f2"/><stop offset="0.8215" stop-color="#dbe8f2"/><stop offset="0.8457" stop-color="#d7e5f0"/><stop offset="0.8538" stop-color="#dfebf4"/><stop offset="0.8646" stop-color="#ebf4f8"/><stop offset="0.8797" stop-color="#ebf3f8"/><stop offset="0.8975" stop-color="#e8f1f7"/><stop offset="0.9159" stop-color="#eef6fa"/><stop offset="0.9461" stop-color="#e9f2f7"/><stop offset="0.9827" stop-color="#eef6fa"/><stop offset="0.9962" stop-color="#e9f2f7"/><stop offset="1.0000" stop-color="#e6f0f6"/></linearGradient><linearGradient id="r17" gradientUnits="objectBoundingBox" x1="0" x2="1" y1="0" y2="0"><stop offset="0.0000" stop-color="#e6f0f7"/><stop offset="0.0140" stop-color="#e1edf5"/><stop offset="0.0405" stop-color="#ebf4f8"/><stop offset="0.0529" stop-color="#eef5f9"/><stop offset="0.0701" stop-color="#e2edf5"/><stop offset="0.0836" stop-color="#d4e3ef"/><stop offset="0.0912" stop-color="#d2e2ee"/><stop offset="0.1030" stop-color="#dbe8f2"/><stop offset="0.1133" stop-color="#e3eef5"/><stop offset="0.1262" stop-color="#e2edf5"/><stop offset="0.1375" stop-color="#d9e6f1"/><stop offset="0.1570" stop-color="#c5d8e9"/><stop offset="0.1661" stop-color="#c2d5e7"/><stop offset="0.1721" stop-color="#c7d9e9"/><stop offset="0.1807" stop-color="#dae7f1"/><stop offset="0.1850" stop-color="#e4eef5"/><stop offset="0.1942" stop-color="#eef5f9"/><stop offset="0.2039" stop-color="#ebf4f8"/><stop offset="0.2157" stop-color="#dfebf4"/><stop offset="0.2395" stop-color="#b1c9e1"/><stop offset="0.2497" stop-color="#a7c2dd"/><stop offset="0.2562" stop-color="#a7c2dd"/><stop offset="0.2648" stop-color="#b1c9e1"/><stop offset="0.2848" stop-color="#d8e6f0"/><stop offset="0.2940" stop-color="#dfebf4"/><stop offset="0.3317" stop-color="#e1ecf4"/><stop offset="0.3452" stop-color="#dce9f2"/><stop offset="0.3641" stop-color="#c9dbea"/><stop offset="0.3706" stop-color="#c7d9e9"/><stop offset="0.3813" stop-color="#cfdfed"/><stop offset="0.3921" stop-color="#d8e6f0"/><stop offset="0.3997" stop-color="#d3e2ef"/><stop offset="0.4175" stop-color="#b6cde3"/><stop offset="0.4239" stop-color="#b4cce2"/><stop offset="0.4304" stop-color="#bdd1e5"/><stop offset="0.4428" stop-color="#d6e4f0"/><stop offset="0.4498" stop-color="#ddeaf3"/><stop offset="0.4682" stop-color="#e1edf5"/><stop offset="0.4811" stop-color="#e1ecf4"/><stop offset="0.4946" stop-color="#d3e2ef"/><stop offset="0.5092" stop-color="#c2d5e7"/><stop offset="0.5173" stop-color="#bed2e6"/><stop offset="0.5232" stop-color="#c0d4e6"/><stop offset="0.5324" stop-color="#cfdfed"/><stop offset="0.5410" stop-color="#e3eef5"/><stop offset="0.5507" stop-color="#eef5f9"/><stop offset="0.5609" stop-color="#edf5f9"/><stop offset="0.5809" stop-color="#e4eef5"/><stop offset="0.6041" stop-color="#e9f2f7"/><stop offset="0.6187" stop-color="#e9f2f7"/><stop offset="0.6375" stop-color="#ddeaf3"/><stop offset="0.6505" stop-color="#d4e3ef"/><stop offset="0.6591" stop-color="#d6e4f0"/><stop offset="0.6785" stop-color="#e9f2f7"/><stop offset="0.6882" stop-color="#ebf4f8"/><stop offset="0.7017" stop-color="#e6f0f6"/><stop offset="0.7168" stop-color="#dae7f1"/><stop offset="0.7271" stop-color="#cbdceb"/><stop offset="0.7422" stop-color="#acc6df"/><stop offset="0.7476" stop-color="#9db9d9"/><stop offset="0.7519" stop-color="#91a1cc"/><stop offset="0.7540" stop-color="#8c93c4"/><stop offset="0.7621" stop-color="#8a52a5"/><stop offset="0.7654" stop-color="#883e9b"/><stop offset="0.7681" stop-color="#863595"/><stop offset="0.7708" stop-color="#873696"/><stop offset="0.7740" stop-color="#88459f"/><stop offset="0.7805" stop-color="#8c75b6"/><stop offset="0.7848" stop-color="#8c97c6"/><stop offset="0.7891" stop-color="#98b0d3"/><stop offset="0.7923" stop-color="#a0bddb"/><stop offset="0.7999" stop-color="#b2cae1"/><stop offset="0.8107" stop-color="#c5d8e9"/><stop offset="0.8296" stop-color="#dbe8f2"/><stop offset="0.8425" stop-color="#e4eef5"/><stop offset="0.8652" stop-color="#ecf4f9"/><stop offset="0.8792" stop-color="#e9f2f7"/><stop offset="0.8916" stop-color="#e5eff6"/><stop offset="0.9083" stop-color="#ebf3f8"/><stop offset="0.9207" stop-color="#ebf3f8"/><stop offset="0.9326" stop-color="#dfebf4"/><stop offset="0.9444" stop-color="#cedfec"/><stop offset="0.9563" stop-color="#c9dbea"/><stop offset="0.9817" stop-color="#c7d9e9"/><stop offset="0.9887" stop-color="#c9dbea"/><stop offset="1.0000" stop-color="#d8e6f0"/></linearGradient><linearGradient id="r18" gradientUnits="objectBoundingBox" x1="0" x2="1" y1="0" y2="0"><stop offset="0.0000" stop-color="#d7e5f0"/><stop offset="0.0113" stop-color="#e6f0f7"/><stop offset="0.0243" stop-color="#f0f7fa"/><stop offset="0.0345" stop-color="#eff6fa"/><stop offset="0.0588" stop-color="#e1edf5"/><stop offset="0.0782" stop-color="#deeaf3"/><stop offset="0.0852" stop-color="#d4e3ef"/><stop offset="0.1014" stop-color="#acc6df"/><stop offset="0.1073" stop-color="#a7c2dd"/><stop offset="0.1122" stop-color="#a9c4de"/><stop offset="0.1219" stop-color="#bcd1e5"/><stop offset="0.1359" stop-color="#e0ecf4"/><stop offset="0.1440" stop-color="#e7f1f7"/><stop offset="0.1521" stop-color="#e5eff6"/><stop offset="0.1640" stop-color="#d9e6f1"/><stop offset="0.1699" stop-color="#dae7f1"/><stop offset="0.1855" stop-color="#eaf3f8"/><stop offset="0.2104" stop-color="#eaf3f8"/><stop offset="0.2309" stop-color="#e0ecf4"/><stop offset="0.2395" stop-color="#dbe8f2"/><stop offset="0.2454" stop-color="#dbe8f2"/><stop offset="0.2643" stop-color="#ecf4f9"/><stop offset="0.2740" stop-color="#ebf4f8"/><stop offset="0.2864" stop-color="#deeaf3"/><stop offset="0.2967" stop-color="#c6d8e9"/><stop offset="0.3053" stop-color="#a7c2dd"/><stop offset="0.3074" stop-color="#9ebcda"/><stop offset="0.3123" stop-color="#909fcb"/><stop offset="0.3139" stop-color="#8c93c4"/><stop offset="0.3172" stop-color="#8c72b5"/><stop offset="0.3215" stop-color="#873d9a"/><stop offset="0.3236" stop-color="#84258b"/><stop offset="0.3252" stop-color="#831d85"/><stop offset="0.3269" stop-color="#831f86"/><stop offset="0.3279" stop-color="#84278c"/><stop offset="0.3290" stop-color="#863293"/><stop offset="0.3312" stop-color="#894da3"/><stop offset="0.3355" stop-color="#8c80bb"/><stop offset="0.3382" stop-color="#8d98c7"/><stop offset="0.3436" stop-color="#9cb7d7"/><stop offset="0.3463" stop-color="#a5c1dc"/><stop offset="0.3544" stop-color="#c0d4e6"/><stop offset="0.3657" stop-color="#dae7f1"/><stop offset="0.3716" stop-color="#e1edf5"/><stop offset="0.3797" stop-color="#e1ecf4"/><stop offset="0.3916" stop-color="#d4e3ef"/><stop offset="0.3991" stop-color="#d7e5f0"/><stop offset="0.4132" stop-color="#e3eef5"/><stop offset="0.4239" stop-color="#e5eff6"/><stop offset="0.4358" stop-color="#dfebf4"/><stop offset="0.4482" stop-color="#d2e2ee"/><stop offset="0.4585" stop-color="#cfdfed"/><stop offset="0.4924" stop-color="#d1e1ee"/><stop offset="0.5032" stop-color="#d9e6f1"/><stop offset="0.5173" stop-color="#e7f1f7"/><stop offset="0.5270" stop-color="#ebf3f8"/><stop offset="0.5345" stop-color="#e6f0f7"/><stop offset="0.5480" stop-color="#d1e1ee"/><stop offset="0.5545" stop-color="#cfdfed"/><stop offset="0.5626" stop-color="#d8e6f0"/><stop offset="0.5723" stop-color="#e4eff6"/><stop offset="0.5820" stop-color="#e8f1f7"/><stop offset="0.6003" stop-color="#dfebf4"/><stop offset="0.6208" stop-color="#ebf3f8"/><stop offset="0.6580" stop-color="#e7f1f7"/><stop offset="0.6802" stop-color="#e2edf5"/><stop offset="0.7260" stop-color="#e2edf5"/><stop offset="0.7362" stop-color="#d9e6f1"/><stop offset="0.7433" stop-color="#cedfec"/><stop offset="0.7470" stop-color="#c2d5e7"/><stop offset="0.7503" stop-color="#afc8e0"/><stop offset="0.7530" stop-color="#9cb8d8"/><stop offset="0.7567" stop-color="#8c94c5"/><stop offset="0.7605" stop-color="#8c6db2"/><stop offset="0.7632" stop-color="#894ca2"/><stop offset="0.7643" stop-color="#873a98"/><stop offset="0.7665" stop-color="#81127e"/><stop offset="0.7675" stop-color="#710a6d"/><stop offset="0.7686" stop-color="#5f055c"/><stop offset="0.7702" stop-color="#4f004d"/><stop offset="0.7718" stop-color="#4d004b"/><stop offset="0.7729" stop-color="#520150"/><stop offset="0.7751" stop-color="#6a0867"/><stop offset="0.7762" stop-color="#7c0e78"/><stop offset="0.7767" stop-color="#81127e"/><stop offset="0.7794" stop-color="#873d9a"/><stop offset="0.7832" stop-color="#8c6ab1"/><stop offset="0.7875" stop-color="#8d99c8"/><stop offset="0.7907" stop-color="#9db9d9"/><stop offset="0.7934" stop-color="#b0c9e1"/><stop offset="0.7967" stop-color="#c1d4e7"/><stop offset="0.7994" stop-color="#c9dbea"/><stop offset="0.8042" stop-color="#d0e0ed"/><stop offset="0.8112" stop-color="#d0e0ed"/><stop offset="0.8209" stop-color="#c9dbea"/><stop offset="0.8274" stop-color="#d1e1ee"/><stop offset="0.8339" stop-color="#dae7f1"/><stop offset="0.8420" stop-color="#d8e6f0"/><stop offset="0.8544" stop-color="#d1e1ee"/><stop offset="0.8625" stop-color="#d3e2ef"/><stop offset="0.8792" stop-color="#e6f0f6"/><stop offset="0.8916" stop-color="#ebf3f8"/><stop offset="0.9148" stop-color="#e7f1f7"/><stop offset="0.9272" stop-color="#ddeaf3"/><stop offset="0.9531" stop-color="#b7cee3"/><stop offset="0.9633" stop-color="#b0c9e1"/><stop offset="0.9693" stop-color="#b2cae1"/><stop offset="0.9741" stop-color="#bcd1e5"/><stop offset="0.9854" stop-color="#dfebf4"/><stop offset="0.9908" stop-color="#e5eff6"/><stop offset="0.9989" stop-color="#e4eef5"/><stop offset="1.0000" stop-color="#e2edf5"/></linearGradient><linearGradient id="r19" gradientUnits="objectBoundingBox" x1="0" x2="1" y1="0" y2="0"><stop offset="0.0000" stop-color="#e3eef5"/><stop offset="0.0140" stop-color="#d7e5f0"/><stop offset="0.0205" stop-color="#d7e5f0"/><stop offset="0.0437" stop-color="#ebf3f8"/><stop offset="0.0566" stop-color="#ecf4f9"/><stop offset="0.0998" stop-color="#dae7f1"/><stop offset="0.1257" stop-color="#d4e3ef"/><stop offset="0.1624" stop-color="#d4e3ef"/><stop offset="0.1710" stop-color="#dfebf4"/><stop offset="0.1812" stop-color="#e6f0f7"/><stop offset="0.2028" stop-color="#e3eef5"/><stop offset="0.2131" stop-color="#ddeaf3"/><stop offset="0.2276" stop-color="#c9dbea"/><stop offset="0.2384" stop-color="#bdd1e5"/><stop offset="0.2654" stop-color="#acc6df"/><stop offset="0.2843" stop-color="#a7c2dd"/><stop offset="0.2929" stop-color="#aac4de"/><stop offset="0.3064" stop-color="#b7cee3"/><stop offset="0.3101" stop-color="#b7cee3"/><stop offset="0.3145" stop-color="#afc8e0"/><stop offset="0.3182" stop-color="#9fbcda"/><stop offset="0.3231" stop-color="#8f9bc9"/><stop offset="0.3247" stop-color="#8c8fc2"/><stop offset="0.3290" stop-color="#8c6eb3"/><stop offset="0.3328" stop-color="#8b5daa"/><stop offset="0.3350" stop-color="#8a59a8"/><stop offset="0.3376" stop-color="#8a59a8"/><stop offset="0.3420" stop-color="#8b64ad"/><stop offset="0.3457" stop-color="#8c74b5"/><stop offset="0.3522" stop-color="#8d98c7"/><stop offset="0.3598" stop-color="#9fbcda"/><stop offset="0.3679" stop-color="#b5cce3"/><stop offset="0.3824" stop-color="#d4e3ef"/><stop offset="0.3894" stop-color="#e1ecf4"/><stop offset="0.4008" stop-color="#e7f1f7"/><stop offset="0.4164" stop-color="#e6f0f6"/><stop offset="0.4423" stop-color="#dfebf4"/><stop offset="0.4655" stop-color="#e6f0f7"/><stop offset="0.4806" stop-color="#dfebf4"/><stop offset="0.4903" stop-color="#ddeaf3"/><stop offset="0.5264" stop-color="#e8f1f7"/><stop offset="0.5680" stop-color="#e6f0f7"/><stop offset="0.5809" stop-color="#ddeaf3"/><stop offset="0.5922" stop-color="#d3e2ef"/><stop offset="0.6079" stop-color="#d3e2ef"/><stop offset="0.6348" stop-color="#e0ecf4"/><stop offset="0.6613" stop-color="#edf5f9"/><stop offset="0.6699" stop-color="#ecf4f9"/><stop offset="0.6807" stop-color="#e1ecf4"/><stop offset="0.6936" stop-color="#c8daea"/><stop offset="0.7012" stop-color="#c3d6e8"/><stop offset="0.7104" stop-color="#c9dbea"/><stop offset="0.7222" stop-color="#d3e2ef"/><stop offset="0.7476" stop-color="#d3e2ef"/><stop offset="0.7594" stop-color="#ccddec"/><stop offset="0.7697" stop-color="#c5d8e9"/><stop offset="0.7794" stop-color="#c5d8e9"/><stop offset="0.8225" stop-color="#e1ecf4"/><stop offset="0.8587" stop-color="#e8f1f7"/><stop offset="0.8878" stop-color="#e5eff6"/><stop offset="0.9067" stop-color="#e7f1f7"/><stop offset="0.9250" stop-color="#dfebf4"/><stop offset="0.9364" stop-color="#dae7f1"/><stop offset="0.9444" stop-color="#deeaf3"/><stop offset="0.9617" stop-color="#ecf4f9"/><stop offset="0.9703" stop-color="#ebf4f8"/><stop offset="0.9892" stop-color="#d8e6f0"/><stop offset="1.0000" stop-color="#d7e5f0"/></linearGradient><linearGradient id="r20" gradientUnits="objectBoundingBox" x1="0" x2="1" y1="0" y2="0"><stop offset="0.0000" stop-color="#d7e5f0"/><stop offset="0.0232" stop-color="#d9e6f1"/><stop offset="0.0491" stop-color="#ebf3f8"/><stop offset="0.0787" stop-color="#ebf3f8"/><stop offset="0.0901" stop-color="#e4eff6"/><stop offset="0.1073" stop-color="#c7d9e9"/><stop offset="0.1127" stop-color="#c5d8e9"/><stop offset="0.1197" stop-color="#ccddec"/><stop offset="0.1327" stop-color="#e2edf5"/><stop offset="0.1424" stop-color="#e8f1f7"/><stop offset="0.1704" stop-color="#e5eff6"/><stop offset="0.1839" stop-color="#ecf4f9"/><stop offset="0.1904" stop-color="#e9f2f7"/><stop offset="0.1990" stop-color="#dce9f2"/><stop offset="0.2060" stop-color="#d1e1ee"/><stop offset="0.2125" stop-color="#d1e1ee"/><stop offset="0.2228" stop-color="#deeaf3"/><stop offset="0.2362" stop-color="#ebf4f8"/><stop offset="0.2513" stop-color="#eef5f9"/><stop offset="0.2611" stop-color="#e9f2f7"/><stop offset="0.2659" stop-color="#e0ecf4"/><stop offset="0.2708" stop-color="#ccddec"/><stop offset="0.2751" stop-color="#b3cbe2"/><stop offset="0.2778" stop-color="#a0bddb"/><stop offset="0.2816" stop-color="#8c97c6"/><stop offset="0.2848" stop-color="#8c70b3"/><stop offset="0.2880" stop-color="#8a51a5"/><stop offset="0.2913" stop-color="#883e9b"/><stop offset="0.2945" stop-color="#873696"/><stop offset="0.2967" stop-color="#873897"/><stop offset="0.2999" stop-color="#88439e"/><stop offset="0.3031" stop-color="#8a58a8"/><stop offset="0.3064" stop-color="#8c6cb1"/><stop offset="0.3085" stop-color="#8c71b4"/><stop offset="0.3107" stop-color="#8c6ab1"/><stop offset="0.3128" stop-color="#8b5daa"/><stop offset="0.3166" stop-color="#88449e"/><stop offset="0.3193" stop-color="#873a98"/><stop offset="0.3220" stop-color="#873897"/><stop offset="0.3247" stop-color="#883e9b"/><stop offset="0.3279" stop-color="#894da3"/><stop offset="0.3312" stop-color="#8b61ac"/><stop offset="0.3366" stop-color="#8c90c3"/><stop offset="0.3387" stop-color="#92a3cd"/><stop offset="0.3420" stop-color="#9dbad9"/><stop offset="0.3468" stop-color="#b3cbe2"/><stop offset="0.3581" stop-color="#d6e4f0"/><stop offset="0.3625" stop-color="#dbe8f2"/><stop offset="0.3673" stop-color="#d7e5f0"/><stop offset="0.3743" stop-color="#c6d8e9"/><stop offset="0.3786" stop-color="#c3d6e8"/><stop offset="0.3846" stop-color="#cbdceb"/><stop offset="0.3932" stop-color="#deeaf3"/><stop offset="0.3986" stop-color="#e1ecf4"/><stop offset="0.4067" stop-color="#d9e6f1"/><stop offset="0.4164" stop-color="#cbdceb"/><stop offset="0.4229" stop-color="#c9dbea"/><stop offset="0.4320" stop-color="#d2e2ee"/><stop offset="0.4428" stop-color="#e1edf5"/><stop offset="0.4536" stop-color="#e4eff6"/><stop offset="0.4676" stop-color="#ddeaf3"/><stop offset="0.4779" stop-color="#d6e4f0"/><stop offset="0.4887" stop-color="#d6e4f0"/><stop offset="0.5032" stop-color="#e1edf5"/><stop offset="0.5324" stop-color="#e1edf5"/><stop offset="0.5383" stop-color="#d7e5f0"/><stop offset="0.5502" stop-color="#acc6df"/><stop offset="0.5550" stop-color="#a4c0dc"/><stop offset="0.5593" stop-color="#a5c1dc"/><stop offset="0.5636" stop-color="#adc7e0"/><stop offset="0.5728" stop-color="#cbdceb"/><stop offset="0.5798" stop-color="#dfebf4"/><stop offset="0.5868" stop-color="#e4eff6"/><stop offset="0.5982" stop-color="#dfebf4"/><stop offset="0.6165" stop-color="#cbdceb"/><stop offset="0.6257" stop-color="#c8daea"/><stop offset="0.6375" stop-color="#cfdfed"/><stop offset="0.6537" stop-color="#ddeaf3"/><stop offset="0.6753" stop-color="#e1edf5"/><stop offset="0.6882" stop-color="#e1ecf4"/><stop offset="0.6953" stop-color="#d6e4f0"/><stop offset="0.7077" stop-color="#b7cee3"/><stop offset="0.7125" stop-color="#b3cbe2"/><stop offset="0.7168" stop-color="#b5cce3"/><stop offset="0.7271" stop-color="#c6d8e9"/><stop offset="0.7330" stop-color="#c6d8e9"/><stop offset="0.7411" stop-color="#bcd1e5"/><stop offset="0.7524" stop-color="#a6c2dd"/><stop offset="0.7557" stop-color="#9db9d9"/><stop offset="0.7600" stop-color="#92a3cd"/><stop offset="0.7621" stop-color="#8c93c4"/><stop offset="0.7654" stop-color="#8c75b6"/><stop offset="0.7702" stop-color="#88409c"/><stop offset="0.7724" stop-color="#84248a"/><stop offset="0.7745" stop-color="#810f7c"/><stop offset="0.7756" stop-color="#790d75"/><stop offset="0.7778" stop-color="#740b70"/><stop offset="0.7794" stop-color="#7b0d76"/><stop offset="0.7805" stop-color="#81117d"/><stop offset="0.7826" stop-color="#85288d"/><stop offset="0.7848" stop-color="#88459f"/><stop offset="0.7891" stop-color="#8c78b7"/><stop offset="0.7923" stop-color="#8c97c6"/><stop offset="0.7972" stop-color="#9cb7d7"/><stop offset="0.7999" stop-color="#a5c1dc"/><stop offset="0.8069" stop-color="#bbd0e4"/><stop offset="0.8161" stop-color="#ccddec"/><stop offset="0.8328" stop-color="#dfebf4"/><stop offset="0.8447" stop-color="#e2edf5"/><stop offset="0.8506" stop-color="#ddeaf3"/><stop offset="0.8598" stop-color="#c3d6e8"/><stop offset="0.8668" stop-color="#afc8e0"/><stop offset="0.8716" stop-color="#a9c4de"/><stop offset="0.8759" stop-color="#abc5df"/><stop offset="0.8813" stop-color="#b6cde3"/><stop offset="0.8910" stop-color="#d3e2ef"/><stop offset="0.8959" stop-color="#dbe8f2"/><stop offset="0.9056" stop-color="#ddeaf3"/><stop offset="0.9196" stop-color="#d2e2ee"/><stop offset="0.9288" stop-color="#cbdceb"/><stop offset="0.9358" stop-color="#cbdceb"/><stop offset="0.9439" stop-color="#d6e4f0"/><stop offset="0.9569" stop-color="#e9f2f8"/><stop offset="0.9660" stop-color="#eff6fa"/><stop offset="0.9822" stop-color="#eef5f9"/><stop offset="1.0000" stop-color="#e7f1f7"/></linearGradient><linearGradient id="r21" gradientUnits="objectBoundingBox" x1="0" x2="1" y1="0" y2="0"><stop offset="0.0000" stop-color="#e7f1f7"/><stop offset="0.0302" stop-color="#dbe8f2"/><stop offset="0.0448" stop-color="#e0ecf4"/><stop offset="0.0609" stop-color="#e4eef5"/><stop offset="0.0858" stop-color="#e1ecf4"/><stop offset="0.1068" stop-color="#e7f1f7"/><stop offset="0.1381" stop-color="#e1edf5"/><stop offset="0.1489" stop-color="#d7e5f0"/><stop offset="0.1618" stop-color="#c6d8e9"/><stop offset="0.1710" stop-color="#c1d4e7"/><stop offset="0.1866" stop-color="#c2d5e7"/><stop offset="0.1942" stop-color="#cedfec"/><stop offset="0.1990" stop-color="#d8e6f0"/><stop offset="0.2050" stop-color="#d8e6f0"/><stop offset="0.2217" stop-color="#c7d9e9"/><stop offset="0.2298" stop-color="#c7d9e9"/><stop offset="0.2567" stop-color="#e1edf5"/><stop offset="0.2670" stop-color="#e4eff6"/><stop offset="0.2751" stop-color="#dfebf4"/><stop offset="0.2826" stop-color="#d1e1ee"/><stop offset="0.2891" stop-color="#c2d5e7"/><stop offset="0.2940" stop-color="#afc8e0"/><stop offset="0.2972" stop-color="#9dbad9"/><stop offset="0.3015" stop-color="#8e9ac8"/><stop offset="0.3037" stop-color="#8c90c3"/><stop offset="0.3053" stop-color="#8c8dc2"/><stop offset="0.3074" stop-color="#8c94c5"/><stop offset="0.3139" stop-color="#9fbcda"/><stop offset="0.3177" stop-color="#a9c4de"/><stop offset="0.3355" stop-color="#bacfe4"/><stop offset="0.3436" stop-color="#c9dbea"/><stop offset="0.3506" stop-color="#d9e6f1"/><stop offset="0.3603" stop-color="#e0ecf4"/><stop offset="0.3883" stop-color="#e5eff6"/><stop offset="0.3986" stop-color="#e0ecf4"/><stop offset="0.4110" stop-color="#d0e0ed"/><stop offset="0.4175" stop-color="#cfdfed"/><stop offset="0.4261" stop-color="#d6e4f0"/><stop offset="0.4385" stop-color="#e4eef5"/><stop offset="0.4498" stop-color="#e7f1f7"/><stop offset="0.4595" stop-color="#dfebf4"/><stop offset="0.4687" stop-color="#d2e2ee"/><stop offset="0.4752" stop-color="#d1e1ee"/><stop offset="0.4892" stop-color="#e1edf5"/><stop offset="0.4978" stop-color="#e0ecf4"/><stop offset="0.5092" stop-color="#d6e4f0"/><stop offset="0.5162" stop-color="#d8e6f0"/><stop offset="0.5254" stop-color="#e4eef5"/><stop offset="0.5334" stop-color="#e5eff6"/><stop offset="0.5405" stop-color="#dfebf4"/><stop offset="0.5572" stop-color="#bfd3e6"/><stop offset="0.5642" stop-color="#bacfe4"/><stop offset="0.5701" stop-color="#bfd3e6"/><stop offset="0.5793" stop-color="#d3e2ef"/><stop offset="0.5847" stop-color="#e1ecf4"/><stop offset="0.5922" stop-color="#e9f2f7"/><stop offset="0.6014" stop-color="#e8f1f7"/><stop offset="0.6170" stop-color="#ddeaf3"/><stop offset="0.6289" stop-color="#d4e3ef"/><stop offset="0.6375" stop-color="#d7e5f0"/><stop offset="0.6499" stop-color="#e1ecf4"/><stop offset="0.6570" stop-color="#dfebf4"/><stop offset="0.6661" stop-color="#d0e0ed"/><stop offset="0.6780" stop-color="#bacfe4"/><stop offset="0.6850" stop-color="#b3cbe2"/><stop offset="0.6909" stop-color="#b5cce3"/><stop offset="0.6980" stop-color="#c1d4e7"/><stop offset="0.7087" stop-color="#d8e6f0"/><stop offset="0.7152" stop-color="#ddeaf3"/><stop offset="0.7217" stop-color="#dae7f1"/><stop offset="0.7346" stop-color="#c1d4e7"/><stop offset="0.7406" stop-color="#afc8e0"/><stop offset="0.7443" stop-color="#9ebcda"/><stop offset="0.7481" stop-color="#91a0cb"/><stop offset="0.7497" stop-color="#8c93c4"/><stop offset="0.7567" stop-color="#8a52a5"/><stop offset="0.7584" stop-color="#88439e"/><stop offset="0.7621" stop-color="#82147f"/><stop offset="0.7627" stop-color="#800f7b"/><stop offset="0.7638" stop-color="#740b70"/><stop offset="0.7654" stop-color="#690865"/><stop offset="0.7670" stop-color="#670864"/><stop offset="0.7681" stop-color="#6a0867"/><stop offset="0.7691" stop-color="#730b6e"/><stop offset="0.7702" stop-color="#7e0e79"/><stop offset="0.7713" stop-color="#831a83"/><stop offset="0.7740" stop-color="#88419d"/><stop offset="0.7794" stop-color="#8c84bd"/><stop offset="0.7810" stop-color="#8c97c6"/><stop offset="0.7853" stop-color="#a0bddb"/><stop offset="0.7886" stop-color="#b2cae1"/><stop offset="0.7913" stop-color="#bbd0e4"/><stop offset="0.7950" stop-color="#bfd3e6"/><stop offset="0.8204" stop-color="#bcd1e5"/><stop offset="0.8371" stop-color="#c1d4e7"/><stop offset="0.8441" stop-color="#cbdceb"/><stop offset="0.8549" stop-color="#e1ecf4"/><stop offset="0.8625" stop-color="#e5eff6"/><stop offset="0.8743" stop-color="#e0ecf4"/><stop offset="0.8857" stop-color="#d8e6f0"/><stop offset="0.8927" stop-color="#d8e6f0"/><stop offset="0.9088" stop-color="#e6f0f7"/><stop offset="0.9310" stop-color="#e6f0f7"/><stop offset="0.9455" stop-color="#e7f1f7"/><stop offset="0.9606" stop-color="#f1f8fb"/><stop offset="0.9720" stop-color="#edf5f9"/><stop offset="0.9887" stop-color="#e4eef5"/><stop offset="1.0000" stop-color="#e4eff6"/></linearGradient><linearGradient id="r22" gradientUnits="objectBoundingBox" x1="0" x2="1" y1="0" y2="0"><stop offset="0.0000" stop-color="#e4eff6"/><stop offset="0.0183" stop-color="#e6f0f6"/><stop offset="0.0232" stop-color="#dfebf4"/><stop offset="0.0291" stop-color="#c8daea"/><stop offset="0.0351" stop-color="#b1c9e1"/><stop offset="0.0388" stop-color="#abc5df"/><stop offset="0.0437" stop-color="#adc7e0"/><stop offset="0.0507" stop-color="#bdd1e5"/><stop offset="0.0631" stop-color="#e1ecf4"/><stop offset="0.0707" stop-color="#e9f2f8"/><stop offset="0.0793" stop-color="#e8f1f7"/><stop offset="0.0885" stop-color="#deeaf3"/><stop offset="0.1111" stop-color="#aec7e0"/><stop offset="0.1203" stop-color="#a3bfdc"/><stop offset="0.1257" stop-color="#a2bfdb"/><stop offset="0.1305" stop-color="#a6c2dd"/><stop offset="0.1359" stop-color="#b0c9e1"/><stop offset="0.1483" stop-color="#d1e1ee"/><stop offset="0.1548" stop-color="#ddeaf3"/><stop offset="0.1694" stop-color="#e4eff6"/><stop offset="0.1839" stop-color="#e6f0f7"/><stop offset="0.1936" stop-color="#dfebf4"/><stop offset="0.2017" stop-color="#d7e5f0"/><stop offset="0.2120" stop-color="#d7e5f0"/><stop offset="0.2255" stop-color="#dbe8f2"/><stop offset="0.2314" stop-color="#d6e4f0"/><stop offset="0.2395" stop-color="#c4d7e8"/><stop offset="0.2465" stop-color="#b3cbe2"/><stop offset="0.2535" stop-color="#aec7e0"/><stop offset="0.2648" stop-color="#b2cae1"/><stop offset="0.2843" stop-color="#bfd3e6"/><stop offset="0.2913" stop-color="#bfd3e6"/><stop offset="0.2983" stop-color="#b6cde3"/><stop offset="0.3096" stop-color="#a4c0dc"/><stop offset="0.3145" stop-color="#a2bfdb"/><stop offset="0.3204" stop-color="#aac4de"/><stop offset="0.3328" stop-color="#c9dbea"/><stop offset="0.3376" stop-color="#cfdfed"/><stop offset="0.3463" stop-color="#cfdfed"/><stop offset="0.3635" stop-color="#c6d8e9"/><stop offset="0.3695" stop-color="#ccddec"/><stop offset="0.3754" stop-color="#deeaf3"/><stop offset="0.3808" stop-color="#e8f1f7"/><stop offset="0.3878" stop-color="#e9f2f8"/><stop offset="0.4115" stop-color="#ddeaf3"/><stop offset="0.4207" stop-color="#dae7f1"/><stop offset="0.4293" stop-color="#dfebf4"/><stop offset="0.4493" stop-color="#eef6fa"/><stop offset="0.4590" stop-color="#eef5f9"/><stop offset="0.4757" stop-color="#e1ecf4"/><stop offset="0.4833" stop-color="#e3eef5"/><stop offset="0.4962" stop-color="#eef6fa"/><stop offset="0.5032" stop-color="#ebf4f8"/><stop offset="0.5151" stop-color="#dae7f1"/><stop offset="0.5221" stop-color="#d3e2ef"/><stop offset="0.5313" stop-color="#d6e4f0"/><stop offset="0.5496" stop-color="#e5eff6"/><stop offset="0.5653" stop-color="#ebf3f8"/><stop offset="0.5831" stop-color="#e6f0f7"/><stop offset="0.6073" stop-color="#deeaf3"/><stop offset="0.6613" stop-color="#dce9f2"/><stop offset="0.6737" stop-color="#cfdfed"/><stop offset="0.6942" stop-color="#b3cbe2"/><stop offset="0.7023" stop-color="#aec7e0"/><stop offset="0.7082" stop-color="#b0c9e1"/><stop offset="0.7168" stop-color="#c3d6e8"/><stop offset="0.7244" stop-color="#d6e4f0"/><stop offset="0.7292" stop-color="#dae7f1"/><stop offset="0.7341" stop-color="#d7e5f0"/><stop offset="0.7400" stop-color="#c9dbea"/><stop offset="0.7524" stop-color="#9dbad9"/><stop offset="0.7578" stop-color="#94a7cf"/><stop offset="0.7627" stop-color="#8f9dc9"/><stop offset="0.7670" stop-color="#8f9dc9"/><stop offset="0.7713" stop-color="#95a8d0"/><stop offset="0.7756" stop-color="#a0bddb"/><stop offset="0.7821" stop-color="#bdd1e5"/><stop offset="0.7875" stop-color="#cbdceb"/><stop offset="0.8010" stop-color="#d9e6f1"/><stop offset="0.8236" stop-color="#ebf4f8"/><stop offset="0.8479" stop-color="#f1f8fb"/><stop offset="0.8695" stop-color="#f1f7fa"/><stop offset="0.8937" stop-color="#e5eff6"/><stop offset="0.9094" stop-color="#e7f1f7"/><stop offset="0.9213" stop-color="#e9f2f7"/><stop offset="0.9283" stop-color="#e0ecf4"/><stop offset="0.9364" stop-color="#cbdceb"/><stop offset="0.9417" stop-color="#c7d9e9"/><stop offset="0.9493" stop-color="#cddeec"/><stop offset="0.9633" stop-color="#e4eef5"/><stop offset="0.9730" stop-color="#eaf3f8"/><stop offset="0.9833" stop-color="#e6f0f7"/><stop offset="1.0000" stop-color="#d8e6f0"/></linearGradient><linearGradient id="r23" gradientUnits="objectBoundingBox" x1="0" x2="1" y1="0" y2="0"><stop offset="0.0000" stop-color="#d8e6f0"/><stop offset="0.0097" stop-color="#d8e6f0"/><stop offset="0.0383" stop-color="#ebf3f8"/><stop offset="0.0534" stop-color="#ebf3f8"/><stop offset="0.0750" stop-color="#ddeaf3"/><stop offset="0.0841" stop-color="#dfebf4"/><stop offset="0.0992" stop-color="#e4eff6"/><stop offset="0.1090" stop-color="#e1ecf4"/><stop offset="0.1224" stop-color="#d4e3ef"/><stop offset="0.1311" stop-color="#d6e4f0"/><stop offset="0.1618" stop-color="#eef6fa"/><stop offset="0.1769" stop-color="#f2f8fb"/><stop offset="0.2157" stop-color="#ebf3f8"/><stop offset="0.2406" stop-color="#e0ecf4"/><stop offset="0.2519" stop-color="#dae7f1"/><stop offset="0.2794" stop-color="#dbe8f2"/><stop offset="0.2864" stop-color="#dbe8f2"/><stop offset="0.2918" stop-color="#d2e2ee"/><stop offset="0.2956" stop-color="#c4d7e8"/><stop offset="0.3020" stop-color="#9fbcda"/><stop offset="0.3080" stop-color="#8c95c6"/><stop offset="0.3107" stop-color="#8c85be"/><stop offset="0.3134" stop-color="#8c7cb9"/><stop offset="0.3177" stop-color="#8c7cb9"/><stop offset="0.3198" stop-color="#8c82bc"/><stop offset="0.3231" stop-color="#8c93c4"/><stop offset="0.3290" stop-color="#9db9d9"/><stop offset="0.3317" stop-color="#acc6df"/><stop offset="0.3366" stop-color="#c3d6e8"/><stop offset="0.3403" stop-color="#cddeec"/><stop offset="0.3452" stop-color="#cddeec"/><stop offset="0.3517" stop-color="#bfd3e6"/><stop offset="0.3587" stop-color="#aac4de"/><stop offset="0.3641" stop-color="#a0bddb"/><stop offset="0.3722" stop-color="#9fbcda"/><stop offset="0.3846" stop-color="#aac4de"/><stop offset="0.4002" stop-color="#c3d6e8"/><stop offset="0.4083" stop-color="#d7e5f0"/><stop offset="0.4126" stop-color="#e1ecf4"/><stop offset="0.4202" stop-color="#e5eff6"/><stop offset="0.4515" stop-color="#e5eff6"/><stop offset="0.4741" stop-color="#eff6fa"/><stop offset="0.4833" stop-color="#ebf4f8"/><stop offset="0.4951" stop-color="#e1edf5"/><stop offset="0.5054" stop-color="#e5eff6"/><stop offset="0.5156" stop-color="#eaf3f8"/><stop offset="0.5280" stop-color="#e6f0f7"/><stop offset="0.5469" stop-color="#dce9f2"/><stop offset="0.5556" stop-color="#deeaf3"/><stop offset="0.5739" stop-color="#ecf4f9"/><stop offset="0.5965" stop-color="#ecf4f9"/><stop offset="0.6246" stop-color="#e9f2f8"/><stop offset="0.6607" stop-color="#e9f2f8"/><stop offset="0.6861" stop-color="#e0ecf4"/><stop offset="0.6974" stop-color="#e2edf5"/><stop offset="0.7120" stop-color="#eaf3f8"/><stop offset="0.7228" stop-color="#e9f2f7"/><stop offset="0.7368" stop-color="#deeaf3"/><stop offset="0.7594" stop-color="#c0d4e6"/><stop offset="0.7718" stop-color="#b6cde3"/><stop offset="0.7816" stop-color="#b6cde3"/><stop offset="0.7961" stop-color="#c4d7e8"/><stop offset="0.8150" stop-color="#d9e6f1"/><stop offset="0.8323" stop-color="#e4eff6"/><stop offset="0.8495" stop-color="#e9f2f7"/><stop offset="0.8749" stop-color="#deeaf3"/><stop offset="0.8981" stop-color="#e5eff6"/><stop offset="0.9148" stop-color="#deeaf3"/><stop offset="0.9277" stop-color="#d6e4f0"/><stop offset="0.9385" stop-color="#d8e6f0"/><stop offset="0.9531" stop-color="#e2edf5"/><stop offset="0.9644" stop-color="#e2edf5"/><stop offset="0.9720" stop-color="#dae7f1"/><stop offset="0.9833" stop-color="#c9dbea"/><stop offset="1.0000" stop-color="#bbd0e4"/></linearGradient><linearGradient id="r24" gradientUnits="objectBoundingBox" x1="0" x2="1" y1="0" y2="0"><stop offset="0.0000" stop-color="#bbd0e4"/><stop offset="0.0146" stop-color="#b3cbe2"/><stop offset="0.0194" stop-color="#b5cce3"/><stop offset="0.0248" stop-color="#c0d4e6"/><stop offset="0.0345" stop-color="#ddeaf3"/><stop offset="0.0388" stop-color="#e1edf5"/><stop offset="0.0485" stop-color="#e0ecf4"/><stop offset="0.0663" stop-color="#d2e2ee"/><stop offset="0.0761" stop-color="#d1e1ee"/><stop offset="0.0933" stop-color="#d8e6f0"/><stop offset="0.1316" stop-color="#ebf4f8"/><stop offset="0.1494" stop-color="#ebf4f8"/><stop offset="0.1791" stop-color="#dce9f2"/><stop offset="0.2109" stop-color="#c9dbea"/><stop offset="0.2238" stop-color="#c6d8e9"/><stop offset="0.2476" stop-color="#ccddec"/><stop offset="0.2697" stop-color="#d8e6f0"/><stop offset="0.2821" stop-color="#dfebf4"/><stop offset="0.3123" stop-color="#e1ecf4"/><stop offset="0.3182" stop-color="#dbe8f2"/><stop offset="0.3317" stop-color="#bfd3e6"/><stop offset="0.3366" stop-color="#bcd1e5"/><stop offset="0.3425" stop-color="#c2d5e7"/><stop offset="0.3538" stop-color="#d2e2ee"/><stop offset="0.3646" stop-color="#d7e5f0"/><stop offset="0.3770" stop-color="#dce9f2"/><stop offset="0.3948" stop-color="#eff6fa"/><stop offset="0.4018" stop-color="#eef6fa"/><stop offset="0.4105" stop-color="#e3eef5"/><stop offset="0.4186" stop-color="#cddeec"/><stop offset="0.4245" stop-color="#bfd3e6"/><stop offset="0.4293" stop-color="#b7cee3"/><stop offset="0.4342" stop-color="#b7cee3"/><stop offset="0.4417" stop-color="#c6d8e9"/><stop offset="0.4488" stop-color="#d6e4f0"/><stop offset="0.4547" stop-color="#d9e6f1"/><stop offset="0.4725" stop-color="#cadbeb"/><stop offset="0.4773" stop-color="#ccddec"/><stop offset="0.4827" stop-color="#d7e5f0"/><stop offset="0.4871" stop-color="#e1ecf4"/><stop offset="0.4951" stop-color="#e4eff6"/><stop offset="0.5102" stop-color="#ddeaf3"/><stop offset="0.5205" stop-color="#d8e6f0"/><stop offset="0.5270" stop-color="#d8e6f0"/><stop offset="0.5431" stop-color="#e6f0f6"/><stop offset="0.5512" stop-color="#e6f0f6"/><stop offset="0.5588" stop-color="#dce9f2"/><stop offset="0.5685" stop-color="#c9dbea"/><stop offset="0.5755" stop-color="#c7d9e9"/><stop offset="0.5928" stop-color="#dce9f2"/><stop offset="0.6003" stop-color="#ddeaf3"/><stop offset="0.6117" stop-color="#d1e1ee"/><stop offset="0.6246" stop-color="#c3d6e8"/><stop offset="0.6472" stop-color="#b6cde3"/><stop offset="0.6570" stop-color="#b4cce2"/><stop offset="0.6629" stop-color="#bcd1e5"/><stop offset="0.6694" stop-color="#d0e0ed"/><stop offset="0.6748" stop-color="#e1ecf4"/><stop offset="0.6812" stop-color="#e6f0f7"/><stop offset="0.7114" stop-color="#e3eef5"/><stop offset="0.7497" stop-color="#f0f7fa"/><stop offset="0.7648" stop-color="#ebf4f8"/><stop offset="0.7875" stop-color="#e0ecf4"/><stop offset="0.8096" stop-color="#dce9f2"/><stop offset="0.8166" stop-color="#d1e1ee"/><stop offset="0.8306" stop-color="#acc6df"/><stop offset="0.8355" stop-color="#a5c1dc"/><stop offset="0.8403" stop-color="#a5c1dc"/><stop offset="0.8490" stop-color="#b5cce3"/><stop offset="0.8549" stop-color="#c1d4e7"/><stop offset="0.8619" stop-color="#c4d7e8"/><stop offset="0.8819" stop-color="#c0d4e6"/><stop offset="0.8900" stop-color="#c7d9e9"/><stop offset="0.9051" stop-color="#e1edf5"/><stop offset="0.9148" stop-color="#e8f1f7"/><stop offset="0.9239" stop-color="#e5eff6"/><stop offset="0.9337" stop-color="#dbe8f2"/><stop offset="0.9434" stop-color="#cfdfed"/><stop offset="0.9525" stop-color="#cddeec"/><stop offset="0.9746" stop-color="#dfebf4"/><stop offset="1.0000" stop-color="#e5eff6"/></linearGradient><linearGradient id="r25" gradientUnits="objectBoundingBox" x1="0" x2="1" y1="0" y2="0"><stop offset="0.0000" stop-color="#e5eff6"/><stop offset="0.0318" stop-color="#e7f1f7"/><stop offset="0.0383" stop-color="#e0ecf4"/><stop offset="0.0442" stop-color="#cedfec"/><stop offset="0.0523" stop-color="#b2cae1"/><stop offset="0.0577" stop-color="#a6c2dd"/><stop offset="0.0642" stop-color="#a4c0dc"/><stop offset="0.0723" stop-color="#afc8e0"/><stop offset="0.0890" stop-color="#d7e5f0"/><stop offset="0.0955" stop-color="#e1ecf4"/><stop offset="0.1068" stop-color="#e1ecf4"/><stop offset="0.1230" stop-color="#cddeec"/><stop offset="0.1332" stop-color="#c3d6e8"/><stop offset="0.1462" stop-color="#c1d4e7"/><stop offset="0.1710" stop-color="#cadbeb"/><stop offset="0.1877" stop-color="#ddeaf3"/><stop offset="0.1996" stop-color="#e6f0f7"/><stop offset="0.2104" stop-color="#e6f0f6"/><stop offset="0.2276" stop-color="#d6e4f0"/><stop offset="0.2513" stop-color="#d2e2ee"/><stop offset="0.2648" stop-color="#d4e3ef"/><stop offset="0.2869" stop-color="#e0ecf4"/><stop offset="0.2967" stop-color="#dfebf4"/><stop offset="0.3139" stop-color="#cadbeb"/><stop offset="0.3220" stop-color="#cadbeb"/><stop offset="0.3333" stop-color="#d9e6f1"/><stop offset="0.3447" stop-color="#e7f1f7"/><stop offset="0.3576" stop-color="#edf5f9"/><stop offset="0.3867" stop-color="#e4eff6"/><stop offset="0.4051" stop-color="#dce9f2"/><stop offset="0.4196" stop-color="#d6e4f0"/><stop offset="0.4304" stop-color="#d8e6f0"/><stop offset="0.4520" stop-color="#e9f2f8"/><stop offset="0.4655" stop-color="#edf5f9"/><stop offset="0.4984" stop-color="#e5eff6"/><stop offset="0.5254" stop-color="#e6f0f7"/><stop offset="0.5442" stop-color="#eef5f9"/><stop offset="0.5593" stop-color="#e9f2f7"/><stop offset="0.5814" stop-color="#deeaf3"/><stop offset="0.6305" stop-color="#dfebf4"/><stop offset="0.6580" stop-color="#d1e1ee"/><stop offset="0.6775" stop-color="#c4d7e8"/><stop offset="0.6872" stop-color="#c4d7e8"/><stop offset="0.6969" stop-color="#d0e0ed"/><stop offset="0.7082" stop-color="#e1ecf4"/><stop offset="0.7206" stop-color="#e1ecf4"/><stop offset="0.7319" stop-color="#d4e3ef"/><stop offset="0.7487" stop-color="#c1d4e7"/><stop offset="0.7605" stop-color="#bcd1e5"/><stop offset="0.7875" stop-color="#bcd1e5"/><stop offset="0.7977" stop-color="#c7d9e9"/><stop offset="0.8123" stop-color="#deeaf3"/><stop offset="0.8225" stop-color="#e2edf5"/><stop offset="0.8452" stop-color="#deeaf3"/><stop offset="0.8587" stop-color="#d0e0ed"/><stop offset="0.8700" stop-color="#c6d8e9"/><stop offset="0.8970" stop-color="#c4d7e8"/><stop offset="0.9088" stop-color="#c5d8e9"/><stop offset="0.9213" stop-color="#d1e1ee"/><stop offset="0.9342" stop-color="#e2edf5"/><stop offset="0.9461" stop-color="#e8f1f7"/><stop offset="0.9536" stop-color="#e4eff6"/><stop offset="0.9601" stop-color="#d9e6f1"/><stop offset="0.9698" stop-color="#c1d4e7"/><stop offset="0.9768" stop-color="#bacfe4"/><stop offset="0.9844" stop-color="#bdd1e5"/><stop offset="0.9978" stop-color="#cadbeb"/><stop offset="1.0000" stop-color="#cbdceb"/></linearGradient><linearGradient id="r26" gradientUnits="objectBoundingBox" x1="0" x2="1" y1="0" y2="0"><stop offset="0.0000" stop-color="#cbdceb"/><stop offset="0.0259" stop-color="#cbdceb"/><stop offset="0.0345" stop-color="#dce9f2"/><stop offset="0.0388" stop-color="#e3eef5"/><stop offset="0.0475" stop-color="#e5eff6"/><stop offset="0.0653" stop-color="#e1ecf4"/><stop offset="0.0874" stop-color="#eaf3f8"/><stop offset="0.1230" stop-color="#eff6fa"/><stop offset="0.1543" stop-color="#e7f1f7"/><stop offset="0.1861" stop-color="#ebf3f8"/><stop offset="0.2163" stop-color="#e4eff6"/><stop offset="0.2433" stop-color="#e9f2f7"/><stop offset="0.2540" stop-color="#e1ecf4"/><stop offset="0.2627" stop-color="#d4e3ef"/><stop offset="0.2686" stop-color="#d1e1ee"/><stop offset="0.2778" stop-color="#d9e6f1"/><stop offset="0.2875" stop-color="#e4eef5"/><stop offset="0.2983" stop-color="#e8f1f7"/><stop offset="0.3290" stop-color="#ddeaf3"/><stop offset="0.3387" stop-color="#e2edf5"/><stop offset="0.3490" stop-color="#e8f1f7"/><stop offset="0.3592" stop-color="#e5eff6"/><stop offset="0.3759" stop-color="#d8e6f0"/><stop offset="0.3846" stop-color="#d8e6f0"/><stop offset="0.4035" stop-color="#e1edf5"/><stop offset="0.4126" stop-color="#e0ecf4"/><stop offset="0.4310" stop-color="#c8daea"/><stop offset="0.4385" stop-color="#c6d8e9"/><stop offset="0.4455" stop-color="#cedfec"/><stop offset="0.4574" stop-color="#e2edf5"/><stop offset="0.4660" stop-color="#e7f1f7"/><stop offset="0.4811" stop-color="#e4eef5"/><stop offset="0.4973" stop-color="#ddeaf3"/><stop offset="0.5086" stop-color="#ddeaf3"/><stop offset="0.5334" stop-color="#e2edf5"/><stop offset="0.5922" stop-color="#dfebf4"/><stop offset="0.6176" stop-color="#e7f1f7"/><stop offset="0.6586" stop-color="#e1ecf4"/><stop offset="0.6753" stop-color="#dae7f1"/><stop offset="0.6855" stop-color="#dce9f2"/><stop offset="0.7023" stop-color="#e6f0f6"/><stop offset="0.7179" stop-color="#e5eff6"/><stop offset="0.7433" stop-color="#dae7f1"/><stop offset="0.7519" stop-color="#ddeaf3"/><stop offset="0.7702" stop-color="#ecf4f9"/><stop offset="0.7843" stop-color="#ecf4f9"/><stop offset="0.8080" stop-color="#e4eff6"/><stop offset="0.8225" stop-color="#ebf4f8"/><stop offset="0.8350" stop-color="#f3f9fb"/><stop offset="0.8420" stop-color="#f1f7fa"/><stop offset="0.8565" stop-color="#e2edf5"/><stop offset="0.8803" stop-color="#ddeaf3"/><stop offset="0.9008" stop-color="#ddeaf3"/><stop offset="0.9639" stop-color="#eef5f9"/><stop offset="0.9768" stop-color="#ebf4f8"/><stop offset="1.0000" stop-color="#e1ecf4"/></linearGradient><linearGradient id="r27" gradientUnits="objectBoundingBox" x1="0" x2="1" y1="0" y2="0"><stop offset="0.0000" stop-color="#e1ecf4"/><stop offset="0.0264" stop-color="#d8e6f0"/><stop offset="0.0669" stop-color="#d4e3ef"/><stop offset="0.0939" stop-color="#dbe8f2"/><stop offset="0.1246" stop-color="#f0f7fa"/><stop offset="0.1397" stop-color="#f0f7fa"/><stop offset="0.1559" stop-color="#e0ecf4"/><stop offset="0.1704" stop-color="#c9dbea"/><stop offset="0.1802" stop-color="#c3d6e8"/><stop offset="0.1866" stop-color="#c6d8e9"/><stop offset="0.2055" stop-color="#e0ecf4"/><stop offset="0.2163" stop-color="#e0ecf4"/><stop offset="0.2373" stop-color="#c8daea"/><stop offset="0.2605" stop-color="#bbd0e4"/><stop offset="0.2762" stop-color="#b9cee4"/><stop offset="0.2875" stop-color="#c1d4e7"/><stop offset="0.3107" stop-color="#dbe8f2"/><stop offset="0.3198" stop-color="#dfebf4"/><stop offset="0.3269" stop-color="#dbe8f2"/><stop offset="0.3382" stop-color="#cbdceb"/><stop offset="0.3484" stop-color="#cadbeb"/><stop offset="0.3716" stop-color="#d1e1ee"/><stop offset="0.3916" stop-color="#ddeaf3"/><stop offset="0.4153" stop-color="#ecf4f9"/><stop offset="0.4272" stop-color="#ecf4f9"/><stop offset="0.4434" stop-color="#ddeaf3"/><stop offset="0.4504" stop-color="#d8e6f0"/><stop offset="0.4579" stop-color="#d8e6f0"/><stop offset="0.4763" stop-color="#e1ecf4"/><stop offset="0.4876" stop-color="#deeaf3"/><stop offset="0.5027" stop-color="#d3e2ef"/><stop offset="0.5124" stop-color="#d3e2ef"/><stop offset="0.5307" stop-color="#e1edf5"/><stop offset="0.5405" stop-color="#e1ecf4"/><stop offset="0.5491" stop-color="#d4e3ef"/><stop offset="0.5577" stop-color="#cadbeb"/><stop offset="0.5642" stop-color="#cbdceb"/><stop offset="0.5744" stop-color="#dce9f2"/><stop offset="0.5809" stop-color="#e4eff6"/><stop offset="0.5960" stop-color="#e9f2f8"/><stop offset="0.6348" stop-color="#edf5f9"/><stop offset="0.6516" stop-color="#e4eff6"/><stop offset="0.6731" stop-color="#cfdfed"/><stop offset="0.6839" stop-color="#ccddec"/><stop offset="0.7001" stop-color="#d4e3ef"/><stop offset="0.7179" stop-color="#e1edf5"/><stop offset="0.7325" stop-color="#e4eef5"/><stop offset="0.7433" stop-color="#ddeaf3"/><stop offset="0.7638" stop-color="#c5d8e9"/><stop offset="0.7751" stop-color="#c1d4e7"/><stop offset="0.7880" stop-color="#c8daea"/><stop offset="0.8145" stop-color="#e1edf5"/><stop offset="0.8479" stop-color="#eff6fa"/><stop offset="0.8592" stop-color="#eef6fa"/><stop offset="0.8830" stop-color="#d9e6f1"/><stop offset="0.9299" stop-color="#dae7f1"/><stop offset="0.9396" stop-color="#e1edf5"/><stop offset="0.9466" stop-color="#dfebf4"/><stop offset="0.9606" stop-color="#cfdfed"/><stop offset="0.9676" stop-color="#cfdfed"/><stop offset="0.9811" stop-color="#e1ecf4"/><stop offset="1.0000" stop-color="#e6f0f6"/></linearGradient></defs>
<rect x="209.80" y="1483.11" width="1855.00" height="45.94" fill="url(#r13)"/>
<rect x="209.80" y="1438.37" width="1855.00" height="45.94" fill="url(#r14)"/>
<rect x="209.80" y="1393.64" width="1855.00" height="45.94" fill="url(#r15)"/>
<rect x="209.80" y="1348.90" width="1855.00" height="45.94" fill="url(#r16)"/>
<rect x="209.80" y="1304.16" width="1855.00" height="45.94" fill="url(#r17)"/>
<rect x="209.80" y="1259.43" width="1855.00" height="45.94" fill="url(#r18)"/>
<rect x="209.80" y="1214.69" width="1855.00" height="45.94" fill="url(#r19)"/>
<rect x="209.80" y="1169.95" width="1855.00" height="45.94" fill="url(#r20)"/>
<rect x="209.80" y="1125.22" width="1855.00" height="45.94" fill="url(#r21)"/>
<rect x="209.80" y="1080.48" width="1855.00" height="45.94" fill="url(#r22)"/>
<rect x="209.80" y="1035.75" width="1855.00" height="45.94" fill="url(#r23)"/>
<rect x="209.80" y="991.01" width="1855.00" height="45.94" fill="url(#r24)"/>
<rect x="209.80" y="946.27" width="1855.00" height="45.94" fill="url(#r25)"/>
<rect x="209.80" y="901.54" width="1855.00" height="45.94" fill="url(#r26)"/>
<rect x="209.80" y="856.80" width="1855.00" height="45.94" fill="url(#r27)"/>
<path d="M804.0 1290.8H820.6" stroke="#0000ff" stroke-width="5.6"/><circle cx="812.3" cy="1290.8" r="10.8" fill="none" stroke="#0000ff" stroke-width="3.5"/><path d="M809.4 1245.8H840.0" stroke="#0000ff" stroke-width="5.6"/><circle cx="824.7" cy="1245.8" r="10.8" fill="none" stroke="#0000ff" stroke-width="3.5"/><path d="M774.4 1202.0H798.4" stroke="#0000ff" stroke-width="5.6"/><circle cx="786.4" cy="1202.0" r="10.8" fill="none" stroke="#0000ff" stroke-width="3.5"/><path d="M768.0 1157.3H800.3" stroke="#0000ff" stroke-width="5.6"/><circle cx="784.1" cy="1157.3" r="10.8" fill="none" stroke="#0000ff" stroke-width="3.5"/><path d="M727.3 1113.2H788.8" stroke="#0000ff" stroke-width="5.6"/><circle cx="758.0" cy="1113.2" r="10.8" fill="none" stroke="#0000ff" stroke-width="3.5"/><path d="M773.9 1067.7H808.9" stroke="#0000ff" stroke-width="5.6"/><circle cx="791.4" cy="1067.7" r="10.8" fill="none" stroke="#0000ff" stroke-width="3.5"/><path d="M1628.3 1360.2H1659.8" stroke="#ff0000" stroke-width="5.6"/><rect x="1633.3" y="1349.5" width="21.4" height="21.4" fill="none" stroke="#ff0000" stroke-width="3.3"/><path d="M1624.1 1315.7H1644.0" stroke="#ff0000" stroke-width="5.6"/><rect x="1623.4" y="1305.0" width="21.4" height="21.4" fill="none" stroke="#ff0000" stroke-width="3.3"/><path d="M1632.0 1270.9H1645.3" stroke="#ff0000" stroke-width="5.6"/><rect x="1627.9" y="1260.2" width="21.4" height="21.4" fill="none" stroke="#ff0000" stroke-width="3.3"/><path d="M1564.3 1226.6H1677.3" stroke="#ff0000" stroke-width="5.6"/><rect x="1610.1" y="1215.9" width="21.4" height="21.4" fill="none" stroke="#ff0000" stroke-width="3.3"/><path d="M1634.1 1181.2H1656.0" stroke="#ff0000" stroke-width="5.6"/><rect x="1634.4" y="1170.5" width="21.4" height="21.4" fill="none" stroke="#ff0000" stroke-width="3.3"/><path d="M1616.9 1137.0H1633.9" stroke="#ff0000" stroke-width="5.6"/><rect x="1614.7" y="1126.3" width="21.4" height="21.4" fill="none" stroke="#ff0000" stroke-width="3.3"/><path d="M1613.0 1092.3H1633.7" stroke="#ff0000" stroke-width="5.6"/><rect x="1612.6" y="1081.6" width="21.4" height="21.4" fill="none" stroke="#ff0000" stroke-width="3.3"/><path d="M1632.0 1046.9H1670.5" stroke="#ff0000" stroke-width="5.6"/><rect x="1640.6" y="1036.2" width="21.4" height="21.4" fill="none" stroke="#ff0000" stroke-width="3.3"/></g>
<rect x="212.2" y="16.0" width="1851.3" height="649.0" fill="none" stroke="#000" stroke-width="8.3" stroke-linejoin="miter"/>
<path d="M417.31 1510.80V1497.00M417.31 861.00V874.80" stroke="#000" stroke-width="8.3"/>
<path d="M624.31 1510.80V1497.00M624.31 861.00V874.80" stroke="#000" stroke-width="8.3"/>
<path d="M831.32 1510.80V1497.00M831.32 861.00V874.80" stroke="#000" stroke-width="8.3"/>
<path d="M1038.32 1510.80V1497.00M1038.32 861.00V874.80" stroke="#000" stroke-width="8.3"/>
<path d="M1245.33 1510.80V1497.00M1245.33 861.00V874.80" stroke="#000" stroke-width="8.3"/>
<path d="M1452.33 1510.80V1497.00M1452.33 861.00V874.80" stroke="#000" stroke-width="8.3"/>
<path d="M1659.34 1510.80V1497.00M1659.34 861.00V874.80" stroke="#000" stroke-width="8.3"/>
<path d="M1866.34 1510.80V1497.00M1866.34 861.00V874.80" stroke="#000" stroke-width="8.3"/>
<path d="M251.70 1510.80V1502.80M251.70 861.00V869.00" stroke="#000" stroke-width="3.0"/>
<path d="M293.10 1510.80V1502.80M293.10 861.00V869.00" stroke="#000" stroke-width="3.0"/>
<path d="M334.50 1510.80V1502.80M334.50 861.00V869.00" stroke="#000" stroke-width="3.0"/>
<path d="M375.90 1510.80V1502.80M375.90 861.00V869.00" stroke="#000" stroke-width="3.0"/>
<path d="M458.71 1510.80V1502.80M458.71 861.00V869.00" stroke="#000" stroke-width="3.0"/>
<path d="M500.11 1510.80V1502.80M500.11 861.00V869.00" stroke="#000" stroke-width="3.0"/>
<path d="M541.51 1510.80V1502.80M541.51 861.00V869.00" stroke="#000" stroke-width="3.0"/>
<path d="M582.91 1510.80V1502.80M582.91 861.00V869.00" stroke="#000" stroke-width="3.0"/>
<path d="M665.71 1510.80V1502.80M665.71 861.00V869.00" stroke="#000" stroke-width="3.0"/>
<path d="M707.11 1510.80V1502.80M707.11 861.00V869.00" stroke="#000" stroke-width="3.0"/>
<path d="M748.51 1510.80V1502.80M748.51 861.00V869.00" stroke="#000" stroke-width="3.0"/>
<path d="M789.92 1510.80V1502.80M789.92 861.00V869.00" stroke="#000" stroke-width="3.0"/>
<path d="M872.72 1510.80V1502.80M872.72 861.00V869.00" stroke="#000" stroke-width="3.0"/>
<path d="M914.12 1510.80V1502.80M914.12 861.00V869.00" stroke="#000" stroke-width="3.0"/>
<path d="M955.52 1510.80V1502.80M955.52 861.00V869.00" stroke="#000" stroke-width="3.0"/>
<path d="M996.92 1510.80V1502.80M996.92 861.00V869.00" stroke="#000" stroke-width="3.0"/>
<path d="M1079.72 1510.80V1502.80M1079.72 861.00V869.00" stroke="#000" stroke-width="3.0"/>
<path d="M1121.12 1510.80V1502.80M1121.12 861.00V869.00" stroke="#000" stroke-width="3.0"/>
<path d="M1162.53 1510.80V1502.80M1162.53 861.00V869.00" stroke="#000" stroke-width="3.0"/>
<path d="M1203.93 1510.80V1502.80M1203.93 861.00V869.00" stroke="#000" stroke-width="3.0"/>
<path d="M1286.73 1510.80V1502.80M1286.73 861.00V869.00" stroke="#000" stroke-width="3.0"/>
<path d="M1328.13 1510.80V1502.80M1328.13 861.00V869.00" stroke="#000" stroke-width="3.0"/>
<path d="M1369.53 1510.80V1502.80M1369.53 861.00V869.00" stroke="#000" stroke-width="3.0"/>
<path d="M1410.93 1510.80V1502.80M1410.93 861.00V869.00" stroke="#000" stroke-width="3.0"/>
<path d="M1493.73 1510.80V1502.80M1493.73 861.00V869.00" stroke="#000" stroke-width="3.0"/>
<path d="M1535.14 1510.80V1502.80M1535.14 861.00V869.00" stroke="#000" stroke-width="3.0"/>
<path d="M1576.54 1510.80V1502.80M1576.54 861.00V869.00" stroke="#000" stroke-width="3.0"/>
<path d="M1617.94 1510.80V1502.80M1617.94 861.00V869.00" stroke="#000" stroke-width="3.0"/>
<path d="M1700.74 1510.80V1502.80M1700.74 861.00V869.00" stroke="#000" stroke-width="3.0"/>
<path d="M1742.14 1510.80V1502.80M1742.14 861.00V869.00" stroke="#000" stroke-width="3.0"/>
<path d="M1783.54 1510.80V1502.80M1783.54 861.00V869.00" stroke="#000" stroke-width="3.0"/>
<path d="M1824.94 1510.80V1502.80M1824.94 861.00V869.00" stroke="#000" stroke-width="3.0"/>
<path d="M1907.75 1510.80V1502.80M1907.75 861.00V869.00" stroke="#000" stroke-width="3.0"/>
<path d="M1949.15 1510.80V1502.80M1949.15 861.00V869.00" stroke="#000" stroke-width="3.0"/>
<path d="M1990.55 1510.80V1502.80M1990.55 861.00V869.00" stroke="#000" stroke-width="3.0"/>
<path d="M2031.95 1510.80V1502.80M2031.95 861.00V869.00" stroke="#000" stroke-width="3.0"/>
<path d="M210.30 1510.80H224.10M2063.00 1510.80H2049.20" stroke="#000" stroke-width="8.3"/>
<path d="M210.30 1410.83H224.10M2063.00 1410.83H2049.20" stroke="#000" stroke-width="8.3"/>
<path d="M210.30 1310.86H224.10M2063.00 1310.86H2049.20" stroke="#000" stroke-width="8.3"/>
<path d="M210.30 1210.89H224.10M2063.00 1210.89H2049.20" stroke="#000" stroke-width="8.3"/>
<path d="M210.30 1110.92H224.10M2063.00 1110.92H2049.20" stroke="#000" stroke-width="8.3"/>
<path d="M210.30 1010.95H224.10M2063.00 1010.95H2049.20" stroke="#000" stroke-width="8.3"/>
<path d="M210.30 910.98H224.10M2063.00 910.98H2049.20" stroke="#000" stroke-width="8.3"/>
<path d="M210.30 1485.81H218.30M2063.00 1485.81H2055.00" stroke="#000" stroke-width="3.0"/>
<path d="M210.30 1460.82H218.30M2063.00 1460.82H2055.00" stroke="#000" stroke-width="3.0"/>
<path d="M210.30 1435.82H218.30M2063.00 1435.82H2055.00" stroke="#000" stroke-width="3.0"/>
<path d="M210.30 1385.84H218.30M2063.00 1385.84H2055.00" stroke="#000" stroke-width="3.0"/>
<path d="M210.30 1360.85H218.30M2063.00 1360.85H2055.00" stroke="#000" stroke-width="3.0"/>
<path d="M210.30 1335.85H218.30M2063.00 1335.85H2055.00" stroke="#000" stroke-width="3.0"/>
<path d="M210.30 1285.87H218.30M2063.00 1285.87H2055.00" stroke="#000" stroke-width="3.0"/>
<path d="M210.30 1260.88H218.30M2063.00 1260.88H2055.00" stroke="#000" stroke-width="3.0"/>
<path d="M210.30 1235.88H218.30M2063.00 1235.88H2055.00" stroke="#000" stroke-width="3.0"/>
<path d="M210.30 1185.90H218.30M2063.00 1185.90H2055.00" stroke="#000" stroke-width="3.0"/>
<path d="M210.30 1160.91H218.30M2063.00 1160.91H2055.00" stroke="#000" stroke-width="3.0"/>
<path d="M210.30 1135.92H218.30M2063.00 1135.92H2055.00" stroke="#000" stroke-width="3.0"/>
<path d="M210.30 1085.93H218.30M2063.00 1085.93H2055.00" stroke="#000" stroke-width="3.0"/>
<path d="M210.30 1060.94H218.30M2063.00 1060.94H2055.00" stroke="#000" stroke-width="3.0"/>
<path d="M210.30 1035.95H218.30M2063.00 1035.95H2055.00" stroke="#000" stroke-width="3.0"/>
<path d="M210.30 985.96H218.30M2063.00 985.96H2055.00" stroke="#000" stroke-width="3.0"/>
<path d="M210.30 960.97H218.30M2063.00 960.97H2055.00" stroke="#000" stroke-width="3.0"/>
<path d="M210.30 935.98H218.30M2063.00 935.98H2055.00" stroke="#000" stroke-width="3.0"/>
<path d="M210.30 885.99H218.30M2063.00 885.99H2055.00" stroke="#000" stroke-width="3.0"/>
<rect x="210.3" y="861.0" width="1852.7" height="649.8" fill="none" stroke="#000" stroke-width="8.3" stroke-linejoin="miter"/>
<text x="189.7" y="682.2" font-size="44" text-anchor="end">0</text>
<text x="189.7" y="520.0" font-size="44" text-anchor="end">10</text>
<text x="189.7" y="357.7" font-size="44" text-anchor="end">20</text>
<text x="189.7" y="195.4" font-size="44" text-anchor="end">30</text>
<text x="189.7" y="33.2" font-size="44" text-anchor="end">40</text>
<text x="212.2" y="715.5" font-size="44" text-anchor="middle">1200</text>
<text x="497.0" y="715.5" font-size="44" text-anchor="middle">1400</text>
<text x="781.8" y="715.5" font-size="44" text-anchor="middle">1600</text>
<text x="1066.6" y="715.5" font-size="44" text-anchor="middle">1800</text>
<text x="1351.5" y="715.5" font-size="44" text-anchor="middle">2000</text>
<text x="1636.3" y="715.5" font-size="44" text-anchor="middle">2200</text>
<text x="1921.1" y="715.5" font-size="44" text-anchor="middle">2400</text>
<text x="189.7" y="1528.0" font-size="44" text-anchor="end">1200</text>
<text x="189.7" y="1428.0" font-size="44" text-anchor="end">1400</text>
<text x="189.7" y="1328.1" font-size="44" text-anchor="end">1600</text>
<text x="189.7" y="1228.1" font-size="44" text-anchor="end">1800</text>
<text x="189.7" y="1128.1" font-size="44" text-anchor="end">2000</text>
<text x="189.7" y="1028.2" font-size="44" text-anchor="end">2200</text>
<text x="189.7" y="928.2" font-size="44" text-anchor="end">2400</text>
<text x="418.3" y="1561.0" font-size="44" text-anchor="middle">10</text>
<text x="625.3" y="1561.0" font-size="44" text-anchor="middle">20</text>
<text x="832.3" y="1561.0" font-size="44" text-anchor="middle">30</text>
<text x="1039.3" y="1561.0" font-size="44" text-anchor="middle">40</text>
<text x="1246.3" y="1561.0" font-size="44" text-anchor="middle">50</text>
<text x="1453.3" y="1561.0" font-size="44" text-anchor="middle">60</text>
<text x="1660.3" y="1561.0" font-size="44" text-anchor="middle">70</text>
<text x="1867.3" y="1561.0" font-size="44" text-anchor="middle">80</text>
<text x="1137.6" y="768.4" font-size="44.5" text-anchor="middle">Frequency (μHz)</text>
<text x="1137.2" y="1614" font-size="44.5" text-anchor="middle">Frequency mod 89.5 μHz</text>
<text transform="translate(111 342.0) rotate(-90)" font-size="44.5" text-anchor="middle">Power Density (ppm<tspan font-size="31" dy="-17">2</tspan><tspan dy="17"> μHz</tspan><tspan font-size="31" dy="-17">−1</tspan><tspan dy="17">)</tspan></text>
<text transform="translate(54 1187.7) rotate(-90)" font-size="44.5" text-anchor="middle">Frequency (μHz)</text>
</svg></body></html>
